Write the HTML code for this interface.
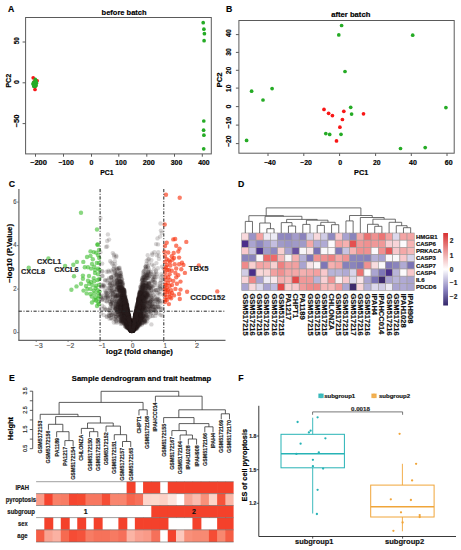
<!DOCTYPE html>
<html><head><meta charset="utf-8"><style>
html,body{margin:0;padding:0;background:#fff;}
svg{display:block;font-family:"Liberation Sans",sans-serif;}
text{stroke-width:0.18px;stroke-linejoin:round;}
</style></head><body>
<svg width="461" height="550" viewBox="0 0 461 550">
<rect width="461" height="550" fill="#fff"/>
<text x="8" y="11.9" font-size="8.7" font-weight="bold" text-anchor="start" fill="#000" stroke="#000">A</text>
<text x="101.6" y="15.3" font-size="7.6" font-weight="bold" text-anchor="start" fill="#000" stroke="#000" textLength="45" lengthAdjust="spacingAndGlyphs">before batch</text>
<rect x="25.6" y="17.5" width="185.7" height="136.4" fill="none" stroke="#5a5a5a" stroke-width="1"/>
<line x1="22.6" y1="42" x2="25.6" y2="42" stroke="#5a5a5a" stroke-width="1"/>
<text x="18.75" y="40.7" font-size="7" font-weight="bold" text-anchor="middle" fill="#000" stroke="#000" textLength="6.9" lengthAdjust="spacingAndGlyphs" transform="rotate(-90 18.75 40.7)">50</text>
<line x1="22.6" y1="82.8" x2="25.6" y2="82.8" stroke="#5a5a5a" stroke-width="1"/>
<text x="18.75" y="82.1" font-size="7" font-weight="bold" text-anchor="middle" fill="#000" stroke="#000" transform="rotate(-90 18.75 82.1)">0</text>
<line x1="22.6" y1="123.6" x2="25.6" y2="123.6" stroke="#5a5a5a" stroke-width="1"/>
<text x="18.75" y="121" font-size="7" font-weight="bold" text-anchor="middle" fill="#000" stroke="#000" textLength="12.8" lengthAdjust="spacingAndGlyphs" transform="rotate(-90 18.75 121)">−50</text>
<line x1="35.5" y1="153.9" x2="35.5" y2="156.7" stroke="#5a5a5a" stroke-width="1"/>
<text x="38.5" y="165.05" font-size="7" font-weight="bold" text-anchor="middle" fill="#000" stroke="#000" textLength="17" lengthAdjust="spacingAndGlyphs">−200</text>
<line x1="63.5" y1="153.9" x2="63.5" y2="156.7" stroke="#5a5a5a" stroke-width="1"/>
<text x="66" y="165.05" font-size="7" font-weight="bold" text-anchor="middle" fill="#000" stroke="#000" textLength="15.6" lengthAdjust="spacingAndGlyphs">−100</text>
<line x1="91.5" y1="153.9" x2="91.5" y2="156.7" stroke="#5a5a5a" stroke-width="1"/>
<text x="91.5" y="165.05" font-size="7" font-weight="bold" text-anchor="middle" fill="#000" stroke="#000">0</text>
<line x1="118.8" y1="153.9" x2="118.8" y2="156.7" stroke="#5a5a5a" stroke-width="1"/>
<text x="121" y="165.05" font-size="7" font-weight="bold" text-anchor="middle" fill="#000" stroke="#000" textLength="11.4" lengthAdjust="spacingAndGlyphs">100</text>
<line x1="146.8" y1="153.9" x2="146.8" y2="156.7" stroke="#5a5a5a" stroke-width="1"/>
<text x="148.7" y="165.05" font-size="7" font-weight="bold" text-anchor="middle" fill="#000" stroke="#000" textLength="12" lengthAdjust="spacingAndGlyphs">200</text>
<line x1="174.5" y1="153.9" x2="174.5" y2="156.7" stroke="#5a5a5a" stroke-width="1"/>
<text x="176.5" y="165.05" font-size="7" font-weight="bold" text-anchor="middle" fill="#000" stroke="#000" textLength="11.5" lengthAdjust="spacingAndGlyphs">300</text>
<line x1="202.3" y1="153.9" x2="202.3" y2="156.7" stroke="#5a5a5a" stroke-width="1"/>
<text x="203.9" y="165.05" font-size="7" font-weight="bold" text-anchor="middle" fill="#000" stroke="#000" textLength="11.4" lengthAdjust="spacingAndGlyphs">400</text>
<text x="106.8" y="174.62" font-size="7.2" font-weight="bold" text-anchor="middle" fill="#000" stroke="#000" textLength="13.3" lengthAdjust="spacingAndGlyphs">PC1</text>
<text x="11.27" y="80.7" font-size="7.2" font-weight="bold" text-anchor="middle" fill="#000" stroke="#000" textLength="14.2" lengthAdjust="spacingAndGlyphs" transform="rotate(-90 11.27 80.7)">PC2</text>
<circle cx="203.2" cy="22.7" r="1.85" fill="#25ab25"/>
<circle cx="203.9" cy="29.2" r="1.85" fill="#25ab25"/>
<circle cx="204.4" cy="33.7" r="1.85" fill="#25ab25"/>
<circle cx="204.1" cy="40.7" r="1.85" fill="#25ab25"/>
<circle cx="203.8" cy="121" r="1.85" fill="#25ab25"/>
<circle cx="203.6" cy="130.2" r="1.85" fill="#25ab25"/>
<circle cx="203.9" cy="135.2" r="1.85" fill="#25ab25"/>
<circle cx="203.7" cy="148.8" r="1.85" fill="#25ab25"/>
<circle cx="33.2" cy="77.8" r="1.85" fill="#f81616"/>
<circle cx="37.1" cy="80.8" r="1.85" fill="#f81616"/>
<circle cx="35" cy="89.5" r="1.85" fill="#f81616"/>
<circle cx="34.5" cy="84.5" r="1.85" fill="#f81616"/>
<circle cx="35.5" cy="86" r="1.85" fill="#f81616"/>
<circle cx="34" cy="82" r="1.85" fill="#f81616"/>
<circle cx="35" cy="81.5" r="1.85" fill="#f81616"/>
<circle cx="34.2" cy="86.5" r="1.85" fill="#f81616"/>
<circle cx="35.3" cy="79.4" r="1.85" fill="#25ab25"/>
<circle cx="34.2" cy="82" r="1.85" fill="#25ab25"/>
<circle cx="36.4" cy="83.2" r="1.85" fill="#25ab25"/>
<circle cx="33" cy="84" r="1.85" fill="#25ab25"/>
<circle cx="35.4" cy="84.8" r="1.85" fill="#25ab25"/>
<circle cx="33.8" cy="86" r="1.85" fill="#25ab25"/>
<circle cx="34.8" cy="86.4" r="1.85" fill="#25ab25"/>
<circle cx="35.6" cy="80.8" r="1.85" fill="#25ab25"/>
<circle cx="34.3" cy="84.6" r="1.85" fill="#25ab25"/>
<circle cx="36" cy="85.6" r="1.85" fill="#25ab25"/>
<circle cx="33.4" cy="82.9" r="1.85" fill="#25ab25"/>
<circle cx="35.2" cy="83.2" r="1.85" fill="#25ab25"/>
<circle cx="34.4" cy="86.2" r="1.85" fill="#25ab25"/>
<circle cx="36.2" cy="81.9" r="1.85" fill="#25ab25"/>
<text x="226" y="11.8" font-size="8.7" font-weight="bold" text-anchor="start" fill="#000" stroke="#000">B</text>
<text x="331.3" y="16.5" font-size="7.6" font-weight="bold" text-anchor="start" fill="#000" stroke="#000" textLength="39" lengthAdjust="spacingAndGlyphs">after batch</text>
<rect x="238.9" y="20.5" width="215.3" height="132.7" fill="none" stroke="#5a5a5a" stroke-width="1"/>
<line x1="235.9" y1="34.6" x2="238.9" y2="34.6" stroke="#5a5a5a" stroke-width="1"/>
<text x="230.85" y="33.1" font-size="7" font-weight="bold" text-anchor="middle" fill="#000" stroke="#000" textLength="7.6" lengthAdjust="spacingAndGlyphs" transform="rotate(-90 230.85 33.1)">40</text>
<line x1="235.9" y1="52.4" x2="238.9" y2="52.4" stroke="#5a5a5a" stroke-width="1"/>
<text x="230.85" y="52" font-size="7" font-weight="bold" text-anchor="middle" fill="#000" stroke="#000" textLength="7.6" lengthAdjust="spacingAndGlyphs" transform="rotate(-90 230.85 52)">30</text>
<line x1="235.9" y1="70.3" x2="238.9" y2="70.3" stroke="#5a5a5a" stroke-width="1"/>
<text x="230.85" y="70.5" font-size="7" font-weight="bold" text-anchor="middle" fill="#000" stroke="#000" textLength="7.6" lengthAdjust="spacingAndGlyphs" transform="rotate(-90 230.85 70.5)">20</text>
<line x1="235.9" y1="88.1" x2="238.9" y2="88.1" stroke="#5a5a5a" stroke-width="1"/>
<text x="230.85" y="88.2" font-size="7" font-weight="bold" text-anchor="middle" fill="#000" stroke="#000" textLength="7.4" lengthAdjust="spacingAndGlyphs" transform="rotate(-90 230.85 88.2)">10</text>
<line x1="235.9" y1="106.6" x2="238.9" y2="106.6" stroke="#5a5a5a" stroke-width="1"/>
<text x="230.85" y="106.6" font-size="7" font-weight="bold" text-anchor="middle" fill="#000" stroke="#000" transform="rotate(-90 230.85 106.6)">0</text>
<line x1="235.9" y1="125.1" x2="238.9" y2="125.1" stroke="#5a5a5a" stroke-width="1"/>
<text x="230.85" y="122.7" font-size="7" font-weight="bold" text-anchor="middle" fill="#000" stroke="#000" textLength="12" lengthAdjust="spacingAndGlyphs" transform="rotate(-90 230.85 122.7)">−10</text>
<line x1="235.9" y1="143.6" x2="238.9" y2="143.6" stroke="#5a5a5a" stroke-width="1"/>
<text x="230.85" y="141.2" font-size="7" font-weight="bold" text-anchor="middle" fill="#000" stroke="#000" textLength="11.6" lengthAdjust="spacingAndGlyphs" transform="rotate(-90 230.85 141.2)">−20</text>
<line x1="268" y1="153.2" x2="268" y2="156" stroke="#5a5a5a" stroke-width="1"/>
<text x="269.9" y="165.05" font-size="7" font-weight="bold" text-anchor="middle" fill="#000" stroke="#000" textLength="11.6" lengthAdjust="spacingAndGlyphs">−40</text>
<line x1="303.8" y1="153.2" x2="303.8" y2="156" stroke="#5a5a5a" stroke-width="1"/>
<text x="306" y="165.05" font-size="7" font-weight="bold" text-anchor="middle" fill="#000" stroke="#000" textLength="11.8" lengthAdjust="spacingAndGlyphs">−20</text>
<line x1="339.6" y1="153.2" x2="339.6" y2="156" stroke="#5a5a5a" stroke-width="1"/>
<text x="340.1" y="165.05" font-size="7" font-weight="bold" text-anchor="middle" fill="#000" stroke="#000">0</text>
<line x1="375.6" y1="153.2" x2="375.6" y2="156" stroke="#5a5a5a" stroke-width="1"/>
<text x="376.8" y="165.05" font-size="7" font-weight="bold" text-anchor="middle" fill="#000" stroke="#000" textLength="7.6" lengthAdjust="spacingAndGlyphs">20</text>
<line x1="411.3" y1="153.2" x2="411.3" y2="156" stroke="#5a5a5a" stroke-width="1"/>
<text x="413" y="165.05" font-size="7" font-weight="bold" text-anchor="middle" fill="#000" stroke="#000" textLength="7.8" lengthAdjust="spacingAndGlyphs">40</text>
<line x1="447" y1="153.2" x2="447" y2="156" stroke="#5a5a5a" stroke-width="1"/>
<text x="448.7" y="165.05" font-size="7" font-weight="bold" text-anchor="middle" fill="#000" stroke="#000" textLength="7.8" lengthAdjust="spacingAndGlyphs">60</text>
<text x="361.2" y="174.62" font-size="7.2" font-weight="bold" text-anchor="middle" fill="#000" stroke="#000" textLength="14.2" lengthAdjust="spacingAndGlyphs">PC1</text>
<text x="221.92" y="80" font-size="7.2" font-weight="bold" text-anchor="middle" fill="#000" stroke="#000" textLength="15" lengthAdjust="spacingAndGlyphs" transform="rotate(-90 221.92 80)">PC2</text>
<circle cx="341.6" cy="25.5" r="1.85" fill="#25ab25"/>
<circle cx="338.8" cy="34.9" r="1.85" fill="#25ab25"/>
<circle cx="412.7" cy="35.2" r="1.85" fill="#25ab25"/>
<circle cx="345" cy="71.5" r="1.85" fill="#25ab25"/>
<circle cx="251.6" cy="91.2" r="1.85" fill="#25ab25"/>
<circle cx="272.1" cy="88.6" r="1.85" fill="#25ab25"/>
<circle cx="263" cy="100" r="1.85" fill="#25ab25"/>
<circle cx="246.6" cy="140.4" r="1.85" fill="#25ab25"/>
<circle cx="325.8" cy="133.6" r="1.85" fill="#25ab25"/>
<circle cx="329.7" cy="134.4" r="1.85" fill="#25ab25"/>
<circle cx="341" cy="134.3" r="1.85" fill="#25ab25"/>
<circle cx="350.7" cy="107.3" r="1.85" fill="#25ab25"/>
<circle cx="351.6" cy="114.1" r="1.85" fill="#25ab25"/>
<circle cx="445.9" cy="107.6" r="1.85" fill="#25ab25"/>
<circle cx="400.5" cy="148.5" r="1.85" fill="#25ab25"/>
<circle cx="425.2" cy="147.6" r="1.85" fill="#25ab25"/>
<circle cx="324" cy="109.4" r="1.85" fill="#f81616"/>
<circle cx="328.6" cy="113.3" r="1.85" fill="#f81616"/>
<circle cx="332.4" cy="115.6" r="1.85" fill="#f81616"/>
<circle cx="343.8" cy="111.3" r="1.85" fill="#f81616"/>
<circle cx="363.5" cy="113.8" r="1.85" fill="#f81616"/>
<circle cx="342.4" cy="119.5" r="1.85" fill="#f81616"/>
<circle cx="339.9" cy="127.2" r="1.85" fill="#f81616"/>
<circle cx="336.5" cy="140.9" r="1.85" fill="#f81616"/>
<text x="8.8" y="187.1" font-size="8.7" font-weight="bold" text-anchor="start" fill="#000" stroke="#000">C</text>
<line x1="18.9" y1="189" x2="18.9" y2="340.3" stroke="#666" stroke-width="1.2"/>
<line x1="18.3" y1="340.3" x2="225.5" y2="340.3" stroke="#666" stroke-width="1.2"/>
<line x1="16.9" y1="332.6" x2="18.9" y2="332.6" stroke="#666" stroke-width="0.8"/>
<text x="14.8" y="334" font-size="6.3" font-weight="normal" text-anchor="middle" fill="#555" stroke="#555" textLength="3.3" lengthAdjust="spacingAndGlyphs">0</text>
<line x1="16.9" y1="289.1" x2="18.9" y2="289.1" stroke="#666" stroke-width="0.8"/>
<text x="14.8" y="290.5" font-size="6.3" font-weight="normal" text-anchor="middle" fill="#555" stroke="#555" textLength="3.3" lengthAdjust="spacingAndGlyphs">2</text>
<line x1="16.9" y1="245.6" x2="18.9" y2="245.6" stroke="#666" stroke-width="0.8"/>
<text x="14.8" y="247" font-size="6.3" font-weight="normal" text-anchor="middle" fill="#555" stroke="#555" textLength="3.3" lengthAdjust="spacingAndGlyphs">4</text>
<line x1="16.9" y1="202.1" x2="18.9" y2="202.1" stroke="#666" stroke-width="0.8"/>
<text x="14.8" y="203.5" font-size="6.3" font-weight="normal" text-anchor="middle" fill="#555" stroke="#555" textLength="3.3" lengthAdjust="spacingAndGlyphs">6</text>
<line x1="36.22" y1="340.3" x2="36.22" y2="342" stroke="#666" stroke-width="0.8"/>
<text x="38.9" y="347.7" font-size="6.3" font-weight="normal" text-anchor="middle" fill="#555" stroke="#555" textLength="7.6" lengthAdjust="spacingAndGlyphs">−3</text>
<line x1="68.08" y1="340.3" x2="68.08" y2="342" stroke="#666" stroke-width="0.8"/>
<text x="70.5" y="347.7" font-size="6.3" font-weight="normal" text-anchor="middle" fill="#555" stroke="#555" textLength="7.6" lengthAdjust="spacingAndGlyphs">−2</text>
<line x1="99.94" y1="340.3" x2="99.94" y2="342" stroke="#666" stroke-width="0.8"/>
<text x="102.3" y="347.7" font-size="6.3" font-weight="normal" text-anchor="middle" fill="#555" stroke="#555" textLength="6.4" lengthAdjust="spacingAndGlyphs">−1</text>
<line x1="131.8" y1="340.3" x2="131.8" y2="342" stroke="#666" stroke-width="0.8"/>
<text x="132.7" y="347.7" font-size="6.3" font-weight="normal" text-anchor="middle" fill="#555" stroke="#555" textLength="3.4" lengthAdjust="spacingAndGlyphs">0</text>
<line x1="163.66" y1="340.3" x2="163.66" y2="342" stroke="#666" stroke-width="0.8"/>
<text x="165.2" y="347.7" font-size="6.3" font-weight="normal" text-anchor="middle" fill="#555" stroke="#555" textLength="3" lengthAdjust="spacingAndGlyphs">1</text>
<line x1="195.52" y1="340.3" x2="195.52" y2="342" stroke="#666" stroke-width="0.8"/>
<text x="197" y="347.7" font-size="6.3" font-weight="normal" text-anchor="middle" fill="#555" stroke="#555" textLength="4" lengthAdjust="spacingAndGlyphs">2</text>
<text x="11.99" y="253.5" font-size="7.1" font-weight="bold" text-anchor="middle" fill="#000" stroke="#000" textLength="59" lengthAdjust="spacingAndGlyphs" transform="rotate(-90 11.99 253.5)">−log10 (P.Value)</text>
<text x="106" y="353.9" font-size="6.9" font-weight="bold" text-anchor="start" fill="#000" stroke="#000" textLength="66.8" lengthAdjust="spacingAndGlyphs">log2 (fold change)</text>
<g fill="#2a1f1f" fill-opacity="0.19">
<circle cx="147.0" cy="318.4" r="2.2"/>
<circle cx="133.4" cy="326.7" r="2.2"/>
<circle cx="131.3" cy="328.9" r="2.2"/>
<circle cx="130.8" cy="327.4" r="2.2"/>
<circle cx="132.3" cy="330.4" r="2.2"/>
<circle cx="124.9" cy="315.6" r="2.2"/>
<circle cx="133.1" cy="325.5" r="2.2"/>
<circle cx="122.5" cy="320.7" r="2.2"/>
<circle cx="129.4" cy="326.1" r="2.2"/>
<circle cx="125.7" cy="310.2" r="2.2"/>
<circle cx="125.7" cy="322.5" r="2.2"/>
<circle cx="132.6" cy="329.7" r="2.2"/>
<circle cx="127.5" cy="318.5" r="2.2"/>
<circle cx="135.0" cy="319.5" r="2.2"/>
<circle cx="146.0" cy="296.8" r="2.2"/>
<circle cx="117.6" cy="309.4" r="2.2"/>
<circle cx="129.9" cy="324.7" r="2.2"/>
<circle cx="126.7" cy="312.6" r="2.2"/>
<circle cx="125.7" cy="318.3" r="2.2"/>
<circle cx="128.7" cy="327.5" r="2.2"/>
<circle cx="137.8" cy="326.6" r="2.2"/>
<circle cx="127.0" cy="311.6" r="2.2"/>
<circle cx="122.4" cy="305.4" r="2.2"/>
<circle cx="137.9" cy="304.2" r="2.2"/>
<circle cx="119.4" cy="290.8" r="2.2"/>
<circle cx="130.6" cy="324.4" r="2.2"/>
<circle cx="135.0" cy="321.3" r="2.2"/>
<circle cx="119.7" cy="308.5" r="2.2"/>
<circle cx="131.3" cy="330.3" r="2.2"/>
<circle cx="124.0" cy="309.8" r="2.2"/>
<circle cx="133.2" cy="329.4" r="2.2"/>
<circle cx="143.9" cy="297.9" r="2.2"/>
<circle cx="149.1" cy="282.5" r="2.2"/>
<circle cx="126.1" cy="320.9" r="2.2"/>
<circle cx="152.8" cy="309.6" r="2.2"/>
<circle cx="124.7" cy="312.7" r="2.2"/>
<circle cx="140.5" cy="301.9" r="2.2"/>
<circle cx="115.8" cy="316.6" r="2.2"/>
<circle cx="132.2" cy="330.8" r="2.2"/>
<circle cx="122.4" cy="308.3" r="2.2"/>
<circle cx="138.0" cy="308.0" r="2.2"/>
<circle cx="127.6" cy="320.8" r="2.2"/>
<circle cx="119.0" cy="316.6" r="2.2"/>
<circle cx="130.0" cy="327.1" r="2.2"/>
<circle cx="137.3" cy="319.8" r="2.2"/>
<circle cx="135.3" cy="318.4" r="2.2"/>
<circle cx="131.2" cy="330.1" r="2.2"/>
<circle cx="133.4" cy="327.9" r="2.2"/>
<circle cx="133.5" cy="325.3" r="2.2"/>
<circle cx="162.8" cy="308.6" r="2.2"/>
<circle cx="133.5" cy="326.3" r="2.2"/>
<circle cx="133.0" cy="326.9" r="2.2"/>
<circle cx="143.6" cy="315.6" r="2.2"/>
<circle cx="130.2" cy="329.1" r="2.2"/>
<circle cx="146.1" cy="318.3" r="2.2"/>
<circle cx="146.4" cy="297.5" r="2.2"/>
<circle cx="127.6" cy="326.2" r="2.2"/>
<circle cx="155.3" cy="282.6" r="2.2"/>
<circle cx="124.6" cy="322.9" r="2.2"/>
<circle cx="124.6" cy="314.2" r="2.2"/>
<circle cx="144.3" cy="296.2" r="2.2"/>
<circle cx="133.2" cy="327.8" r="2.2"/>
<circle cx="131.4" cy="329.1" r="2.2"/>
<circle cx="119.1" cy="303.6" r="2.2"/>
<circle cx="121.0" cy="320.9" r="2.2"/>
<circle cx="150.7" cy="291.1" r="2.2"/>
<circle cx="135.0" cy="316.3" r="2.2"/>
<circle cx="137.9" cy="315.8" r="2.2"/>
<circle cx="132.6" cy="329.6" r="2.2"/>
<circle cx="143.6" cy="277.0" r="2.2"/>
<circle cx="135.2" cy="317.4" r="2.2"/>
<circle cx="125.3" cy="299.3" r="2.2"/>
<circle cx="134.8" cy="321.8" r="2.2"/>
<circle cx="131.2" cy="328.2" r="2.2"/>
<circle cx="128.8" cy="321.1" r="2.2"/>
<circle cx="135.7" cy="326.2" r="2.2"/>
<circle cx="145.3" cy="290.2" r="2.2"/>
<circle cx="154.2" cy="282.1" r="2.2"/>
<circle cx="129.3" cy="328.0" r="2.2"/>
<circle cx="131.1" cy="328.9" r="2.2"/>
<circle cx="137.3" cy="306.7" r="2.2"/>
<circle cx="145.1" cy="280.1" r="2.2"/>
<circle cx="130.5" cy="326.6" r="2.2"/>
<circle cx="127.2" cy="314.2" r="2.2"/>
<circle cx="130.1" cy="328.9" r="2.2"/>
<circle cx="135.4" cy="317.8" r="2.2"/>
<circle cx="132.5" cy="330.7" r="2.2"/>
<circle cx="134.7" cy="320.1" r="2.2"/>
<circle cx="132.5" cy="330.7" r="2.2"/>
<circle cx="137.8" cy="320.1" r="2.2"/>
<circle cx="146.8" cy="296.7" r="2.2"/>
<circle cx="143.5" cy="320.1" r="2.2"/>
<circle cx="120.4" cy="300.4" r="2.2"/>
<circle cx="135.2" cy="317.7" r="2.2"/>
<circle cx="142.1" cy="310.5" r="2.2"/>
<circle cx="136.6" cy="313.3" r="2.2"/>
<circle cx="147.6" cy="309.4" r="2.2"/>
<circle cx="125.3" cy="302.8" r="2.2"/>
<circle cx="132.9" cy="326.4" r="2.2"/>
<circle cx="140.5" cy="316.1" r="2.2"/>
<circle cx="126.7" cy="309.7" r="2.2"/>
<circle cx="135.9" cy="317.6" r="2.2"/>
<circle cx="130.8" cy="329.7" r="2.2"/>
<circle cx="128.4" cy="323.9" r="2.2"/>
<circle cx="127.1" cy="304.5" r="2.2"/>
<circle cx="144.4" cy="301.5" r="2.2"/>
<circle cx="129.7" cy="329.9" r="2.2"/>
<circle cx="136.4" cy="317.4" r="2.2"/>
<circle cx="130.3" cy="328.4" r="2.2"/>
<circle cx="131.1" cy="329.9" r="2.2"/>
<circle cx="134.7" cy="324.6" r="2.2"/>
<circle cx="111.1" cy="315.1" r="2.2"/>
<circle cx="115.2" cy="284.1" r="2.2"/>
<circle cx="118.9" cy="306.7" r="2.2"/>
<circle cx="139.2" cy="325.0" r="2.2"/>
<circle cx="131.2" cy="330.2" r="2.2"/>
<circle cx="135.5" cy="314.6" r="2.2"/>
<circle cx="125.6" cy="314.2" r="2.2"/>
<circle cx="125.8" cy="302.3" r="2.2"/>
<circle cx="106.6" cy="296.2" r="2.2"/>
<circle cx="142.7" cy="296.1" r="2.2"/>
<circle cx="128.9" cy="322.7" r="2.2"/>
<circle cx="131.3" cy="328.9" r="2.2"/>
<circle cx="126.5" cy="313.6" r="2.2"/>
<circle cx="130.1" cy="326.0" r="2.2"/>
<circle cx="140.6" cy="303.9" r="2.2"/>
<circle cx="135.3" cy="321.4" r="2.2"/>
<circle cx="110.9" cy="278.3" r="2.2"/>
<circle cx="120.7" cy="320.3" r="2.2"/>
<circle cx="129.4" cy="321.6" r="2.2"/>
<circle cx="140.5" cy="313.6" r="2.2"/>
<circle cx="126.0" cy="313.6" r="2.2"/>
<circle cx="136.4" cy="315.8" r="2.2"/>
<circle cx="126.5" cy="308.9" r="2.2"/>
<circle cx="129.9" cy="329.2" r="2.2"/>
<circle cx="124.9" cy="309.9" r="2.2"/>
<circle cx="121.6" cy="300.6" r="2.2"/>
<circle cx="137.8" cy="322.3" r="2.2"/>
<circle cx="141.9" cy="305.1" r="2.2"/>
<circle cx="150.8" cy="307.9" r="2.2"/>
<circle cx="139.6" cy="309.5" r="2.2"/>
<circle cx="129.6" cy="319.5" r="2.2"/>
<circle cx="129.5" cy="327.1" r="2.2"/>
<circle cx="129.7" cy="323.3" r="2.2"/>
<circle cx="117.9" cy="318.1" r="2.2"/>
<circle cx="132.6" cy="328.6" r="2.2"/>
<circle cx="130.0" cy="325.7" r="2.2"/>
<circle cx="123.9" cy="301.2" r="2.2"/>
<circle cx="144.7" cy="285.1" r="2.2"/>
<circle cx="128.5" cy="317.2" r="2.2"/>
<circle cx="135.7" cy="315.3" r="2.2"/>
<circle cx="136.7" cy="308.5" r="2.2"/>
<circle cx="125.4" cy="304.8" r="2.2"/>
<circle cx="135.9" cy="322.8" r="2.2"/>
<circle cx="133.4" cy="324.5" r="2.2"/>
<circle cx="131.9" cy="331.0" r="2.2"/>
<circle cx="125.2" cy="304.5" r="2.2"/>
<circle cx="153.7" cy="265.6" r="2.2"/>
<circle cx="133.0" cy="329.0" r="2.2"/>
<circle cx="126.1" cy="315.3" r="2.2"/>
<circle cx="129.2" cy="323.3" r="2.2"/>
<circle cx="139.0" cy="306.6" r="2.2"/>
<circle cx="137.5" cy="308.7" r="2.2"/>
<circle cx="135.9" cy="325.3" r="2.2"/>
<circle cx="130.4" cy="326.1" r="2.2"/>
<circle cx="127.7" cy="314.7" r="2.2"/>
<circle cx="134.0" cy="326.3" r="2.2"/>
<circle cx="126.1" cy="313.6" r="2.2"/>
<circle cx="130.5" cy="328.9" r="2.2"/>
<circle cx="126.1" cy="320.2" r="2.2"/>
<circle cx="132.7" cy="328.2" r="2.2"/>
<circle cx="128.5" cy="319.3" r="2.2"/>
<circle cx="129.5" cy="322.5" r="2.2"/>
<circle cx="112.4" cy="305.7" r="2.2"/>
<circle cx="129.0" cy="322.6" r="2.2"/>
<circle cx="128.3" cy="321.0" r="2.2"/>
<circle cx="116.8" cy="300.5" r="2.2"/>
<circle cx="137.1" cy="316.4" r="2.2"/>
<circle cx="150.2" cy="293.1" r="2.2"/>
<circle cx="130.3" cy="326.4" r="2.2"/>
<circle cx="143.4" cy="275.4" r="2.2"/>
<circle cx="130.0" cy="327.9" r="2.2"/>
<circle cx="105.3" cy="280.6" r="2.2"/>
<circle cx="147.3" cy="294.4" r="2.2"/>
<circle cx="130.5" cy="326.7" r="2.2"/>
<circle cx="137.3" cy="326.8" r="2.2"/>
<circle cx="140.1" cy="302.9" r="2.2"/>
<circle cx="132.4" cy="330.7" r="2.2"/>
<circle cx="133.3" cy="327.0" r="2.2"/>
<circle cx="133.8" cy="322.5" r="2.2"/>
<circle cx="136.8" cy="311.8" r="2.2"/>
<circle cx="150.8" cy="306.5" r="2.2"/>
<circle cx="142.0" cy="290.4" r="2.2"/>
<circle cx="119.6" cy="281.5" r="2.2"/>
<circle cx="150.5" cy="303.8" r="2.2"/>
<circle cx="123.7" cy="301.7" r="2.2"/>
<circle cx="134.9" cy="316.3" r="2.2"/>
<circle cx="128.2" cy="315.3" r="2.2"/>
<circle cx="135.2" cy="319.5" r="2.2"/>
<circle cx="133.2" cy="328.8" r="2.2"/>
<circle cx="134.3" cy="325.1" r="2.2"/>
<circle cx="128.7" cy="320.4" r="2.2"/>
<circle cx="133.4" cy="330.3" r="2.2"/>
<circle cx="135.0" cy="317.6" r="2.2"/>
<circle cx="148.8" cy="283.3" r="2.2"/>
<circle cx="123.5" cy="310.0" r="2.2"/>
<circle cx="133.6" cy="328.6" r="2.2"/>
<circle cx="127.7" cy="328.0" r="2.2"/>
<circle cx="131.5" cy="329.3" r="2.2"/>
<circle cx="127.4" cy="325.4" r="2.2"/>
<circle cx="143.8" cy="308.2" r="2.2"/>
<circle cx="124.9" cy="307.9" r="2.2"/>
<circle cx="128.7" cy="315.2" r="2.2"/>
<circle cx="139.7" cy="296.9" r="2.2"/>
<circle cx="134.0" cy="325.1" r="2.2"/>
<circle cx="130.8" cy="330.3" r="2.2"/>
<circle cx="147.2" cy="275.4" r="2.2"/>
<circle cx="140.6" cy="298.9" r="2.2"/>
<circle cx="119.7" cy="306.8" r="2.2"/>
<circle cx="137.6" cy="311.3" r="2.2"/>
<circle cx="141.6" cy="298.6" r="2.2"/>
<circle cx="136.1" cy="316.5" r="2.2"/>
<circle cx="127.3" cy="313.1" r="2.2"/>
<circle cx="134.7" cy="319.0" r="2.2"/>
<circle cx="130.4" cy="329.4" r="2.2"/>
<circle cx="131.1" cy="327.7" r="2.2"/>
<circle cx="136.6" cy="310.6" r="2.2"/>
<circle cx="132.9" cy="327.0" r="2.2"/>
<circle cx="123.8" cy="293.7" r="2.2"/>
<circle cx="106.8" cy="316.9" r="2.2"/>
<circle cx="129.4" cy="318.2" r="2.2"/>
<circle cx="128.4" cy="320.5" r="2.2"/>
<circle cx="131.4" cy="330.3" r="2.2"/>
<circle cx="136.5" cy="314.1" r="2.2"/>
<circle cx="126.3" cy="321.5" r="2.2"/>
<circle cx="137.1" cy="309.0" r="2.2"/>
<circle cx="118.7" cy="292.1" r="2.2"/>
<circle cx="129.4" cy="322.0" r="2.2"/>
<circle cx="135.5" cy="317.8" r="2.2"/>
<circle cx="138.6" cy="307.1" r="2.2"/>
<circle cx="130.1" cy="321.5" r="2.2"/>
<circle cx="129.1" cy="324.6" r="2.2"/>
<circle cx="133.6" cy="327.5" r="2.2"/>
<circle cx="126.6" cy="304.0" r="2.2"/>
<circle cx="147.5" cy="286.1" r="2.2"/>
<circle cx="132.5" cy="329.8" r="2.2"/>
<circle cx="132.2" cy="330.3" r="2.2"/>
<circle cx="131.0" cy="327.9" r="2.2"/>
<circle cx="129.8" cy="326.2" r="2.2"/>
<circle cx="129.0" cy="320.7" r="2.2"/>
<circle cx="132.7" cy="330.1" r="2.2"/>
<circle cx="120.5" cy="296.3" r="2.2"/>
<circle cx="119.3" cy="288.4" r="2.2"/>
<circle cx="131.4" cy="329.7" r="2.2"/>
<circle cx="133.9" cy="324.1" r="2.2"/>
<circle cx="130.6" cy="325.2" r="2.2"/>
<circle cx="129.1" cy="327.6" r="2.2"/>
<circle cx="129.7" cy="320.6" r="2.2"/>
<circle cx="131.2" cy="329.8" r="2.2"/>
<circle cx="132.3" cy="330.5" r="2.2"/>
<circle cx="134.3" cy="324.6" r="2.2"/>
<circle cx="143.9" cy="321.5" r="2.2"/>
<circle cx="140.2" cy="310.3" r="2.2"/>
<circle cx="112.7" cy="286.5" r="2.2"/>
<circle cx="130.4" cy="327.9" r="2.2"/>
<circle cx="129.6" cy="326.5" r="2.2"/>
<circle cx="132.0" cy="331.0" r="2.2"/>
<circle cx="140.7" cy="314.3" r="2.2"/>
<circle cx="135.1" cy="322.1" r="2.2"/>
<circle cx="110.2" cy="261.2" r="2.2"/>
<circle cx="128.2" cy="313.6" r="2.2"/>
<circle cx="133.9" cy="325.0" r="2.2"/>
<circle cx="130.8" cy="328.2" r="2.2"/>
<circle cx="126.1" cy="318.4" r="2.2"/>
<circle cx="140.7" cy="288.7" r="2.2"/>
<circle cx="135.7" cy="320.5" r="2.2"/>
<circle cx="135.3" cy="322.7" r="2.2"/>
<circle cx="139.0" cy="319.5" r="2.2"/>
<circle cx="123.9" cy="297.1" r="2.2"/>
<circle cx="132.7" cy="330.7" r="2.2"/>
<circle cx="133.5" cy="328.0" r="2.2"/>
<circle cx="126.7" cy="304.8" r="2.2"/>
<circle cx="138.5" cy="303.4" r="2.2"/>
<circle cx="135.2" cy="317.1" r="2.2"/>
<circle cx="141.7" cy="292.7" r="2.2"/>
<circle cx="137.5" cy="320.6" r="2.2"/>
<circle cx="131.0" cy="327.7" r="2.2"/>
<circle cx="132.7" cy="328.3" r="2.2"/>
<circle cx="130.9" cy="327.7" r="2.2"/>
<circle cx="133.8" cy="324.7" r="2.2"/>
<circle cx="128.7" cy="323.2" r="2.2"/>
<circle cx="142.3" cy="288.6" r="2.2"/>
<circle cx="128.8" cy="320.4" r="2.2"/>
<circle cx="156.2" cy="272.3" r="2.2"/>
<circle cx="126.8" cy="303.9" r="2.2"/>
<circle cx="135.2" cy="321.7" r="2.2"/>
<circle cx="132.7" cy="330.8" r="2.2"/>
<circle cx="144.4" cy="298.0" r="2.2"/>
<circle cx="135.9" cy="320.2" r="2.2"/>
<circle cx="132.5" cy="330.5" r="2.2"/>
<circle cx="121.6" cy="296.0" r="2.2"/>
<circle cx="134.6" cy="324.1" r="2.2"/>
<circle cx="134.6" cy="326.0" r="2.2"/>
<circle cx="130.9" cy="326.9" r="2.2"/>
<circle cx="135.7" cy="316.3" r="2.2"/>
<circle cx="116.2" cy="286.4" r="2.2"/>
<circle cx="128.2" cy="320.0" r="2.2"/>
<circle cx="140.0" cy="307.3" r="2.2"/>
<circle cx="133.6" cy="327.6" r="2.2"/>
<circle cx="137.4" cy="326.0" r="2.2"/>
<circle cx="139.1" cy="313.4" r="2.2"/>
<circle cx="137.2" cy="318.3" r="2.2"/>
<circle cx="135.6" cy="313.1" r="2.2"/>
<circle cx="125.3" cy="318.6" r="2.2"/>
<circle cx="160.1" cy="288.6" r="2.2"/>
<circle cx="150.5" cy="309.0" r="2.2"/>
<circle cx="128.3" cy="316.0" r="2.2"/>
<circle cx="141.7" cy="296.4" r="2.2"/>
<circle cx="133.9" cy="326.4" r="2.2"/>
<circle cx="137.2" cy="316.8" r="2.2"/>
<circle cx="118.8" cy="300.1" r="2.2"/>
<circle cx="132.8" cy="328.8" r="2.2"/>
<circle cx="140.5" cy="293.3" r="2.2"/>
<circle cx="117.5" cy="310.2" r="2.2"/>
<circle cx="136.6" cy="307.8" r="2.2"/>
<circle cx="127.4" cy="324.1" r="2.2"/>
<circle cx="133.4" cy="328.1" r="2.2"/>
<circle cx="136.3" cy="311.2" r="2.2"/>
<circle cx="123.2" cy="306.3" r="2.2"/>
<circle cx="124.0" cy="310.1" r="2.2"/>
<circle cx="125.5" cy="318.2" r="2.2"/>
<circle cx="124.2" cy="312.8" r="2.2"/>
<circle cx="149.0" cy="290.5" r="2.2"/>
<circle cx="128.1" cy="311.7" r="2.2"/>
<circle cx="135.7" cy="324.1" r="2.2"/>
<circle cx="133.9" cy="325.1" r="2.2"/>
<circle cx="133.8" cy="324.9" r="2.2"/>
<circle cx="124.2" cy="314.4" r="2.2"/>
<circle cx="135.2" cy="321.5" r="2.2"/>
<circle cx="126.7" cy="309.9" r="2.2"/>
<circle cx="137.6" cy="323.0" r="2.2"/>
<circle cx="138.3" cy="320.4" r="2.2"/>
<circle cx="132.5" cy="329.6" r="2.2"/>
<circle cx="130.7" cy="326.1" r="2.2"/>
<circle cx="138.2" cy="302.6" r="2.2"/>
<circle cx="136.7" cy="324.9" r="2.2"/>
<circle cx="133.3" cy="328.3" r="2.2"/>
<circle cx="133.1" cy="330.5" r="2.2"/>
<circle cx="133.0" cy="328.5" r="2.2"/>
<circle cx="131.2" cy="328.1" r="2.2"/>
<circle cx="124.1" cy="299.4" r="2.2"/>
<circle cx="125.4" cy="313.8" r="2.2"/>
<circle cx="154.1" cy="291.1" r="2.2"/>
<circle cx="115.9" cy="289.1" r="2.2"/>
<circle cx="134.4" cy="327.5" r="2.2"/>
<circle cx="132.4" cy="330.4" r="2.2"/>
<circle cx="127.4" cy="309.4" r="2.2"/>
<circle cx="131.1" cy="328.5" r="2.2"/>
<circle cx="160.8" cy="308.7" r="2.2"/>
<circle cx="128.4" cy="320.5" r="2.2"/>
<circle cx="129.2" cy="321.4" r="2.2"/>
<circle cx="132.6" cy="329.9" r="2.2"/>
<circle cx="128.1" cy="314.3" r="2.2"/>
<circle cx="127.2" cy="317.1" r="2.2"/>
<circle cx="132.8" cy="330.8" r="2.2"/>
<circle cx="128.6" cy="321.4" r="2.2"/>
<circle cx="139.0" cy="311.3" r="2.2"/>
<circle cx="131.7" cy="329.9" r="2.2"/>
<circle cx="145.2" cy="297.7" r="2.2"/>
<circle cx="130.2" cy="329.1" r="2.2"/>
<circle cx="138.2" cy="323.0" r="2.2"/>
<circle cx="132.6" cy="330.0" r="2.2"/>
<circle cx="122.1" cy="309.6" r="2.2"/>
<circle cx="141.1" cy="303.0" r="2.2"/>
<circle cx="121.2" cy="299.1" r="2.2"/>
<circle cx="130.8" cy="328.4" r="2.2"/>
<circle cx="130.2" cy="328.4" r="2.2"/>
<circle cx="135.9" cy="323.2" r="2.2"/>
<circle cx="133.4" cy="326.0" r="2.2"/>
<circle cx="128.5" cy="317.6" r="2.2"/>
<circle cx="142.5" cy="307.4" r="2.2"/>
<circle cx="133.0" cy="328.7" r="2.2"/>
<circle cx="133.4" cy="326.3" r="2.2"/>
<circle cx="122.5" cy="320.7" r="2.2"/>
<circle cx="120.8" cy="312.6" r="2.2"/>
<circle cx="128.1" cy="324.6" r="2.2"/>
<circle cx="132.6" cy="329.6" r="2.2"/>
<circle cx="113.0" cy="313.8" r="2.2"/>
<circle cx="136.9" cy="317.0" r="2.2"/>
<circle cx="132.6" cy="330.3" r="2.2"/>
<circle cx="127.7" cy="322.5" r="2.2"/>
<circle cx="139.6" cy="298.8" r="2.2"/>
<circle cx="139.5" cy="311.2" r="2.2"/>
<circle cx="144.6" cy="306.5" r="2.2"/>
<circle cx="127.2" cy="323.8" r="2.2"/>
<circle cx="128.1" cy="314.8" r="2.2"/>
<circle cx="132.7" cy="328.0" r="2.2"/>
<circle cx="149.1" cy="287.5" r="2.2"/>
<circle cx="139.0" cy="311.3" r="2.2"/>
<circle cx="138.1" cy="299.7" r="2.2"/>
<circle cx="135.1" cy="321.5" r="2.2"/>
<circle cx="111.1" cy="270.6" r="2.2"/>
<circle cx="106.5" cy="271.7" r="2.2"/>
<circle cx="118.8" cy="287.8" r="2.2"/>
<circle cx="133.5" cy="330.4" r="2.2"/>
<circle cx="127.1" cy="315.5" r="2.2"/>
<circle cx="127.7" cy="315.3" r="2.2"/>
<circle cx="136.3" cy="317.0" r="2.2"/>
<circle cx="133.0" cy="328.0" r="2.2"/>
<circle cx="132.4" cy="330.6" r="2.2"/>
<circle cx="128.3" cy="315.6" r="2.2"/>
<circle cx="141.2" cy="288.3" r="2.2"/>
<circle cx="143.1" cy="315.6" r="2.2"/>
<circle cx="131.1" cy="331.0" r="2.2"/>
<circle cx="133.7" cy="322.4" r="2.2"/>
<circle cx="128.7" cy="324.6" r="2.2"/>
<circle cx="129.9" cy="325.4" r="2.2"/>
<circle cx="134.3" cy="324.9" r="2.2"/>
<circle cx="133.7" cy="324.7" r="2.2"/>
<circle cx="133.3" cy="326.7" r="2.2"/>
<circle cx="139.0" cy="298.2" r="2.2"/>
<circle cx="130.1" cy="325.1" r="2.2"/>
<circle cx="142.2" cy="280.2" r="2.2"/>
<circle cx="143.3" cy="299.0" r="2.2"/>
<circle cx="121.5" cy="302.6" r="2.2"/>
<circle cx="129.0" cy="316.5" r="2.2"/>
<circle cx="129.6" cy="322.2" r="2.2"/>
<circle cx="136.2" cy="327.9" r="2.2"/>
<circle cx="119.2" cy="268.4" r="2.2"/>
<circle cx="130.0" cy="326.7" r="2.2"/>
<circle cx="133.7" cy="326.8" r="2.2"/>
<circle cx="128.4" cy="315.3" r="2.2"/>
<circle cx="130.9" cy="329.3" r="2.2"/>
<circle cx="134.9" cy="322.6" r="2.2"/>
<circle cx="140.5" cy="311.6" r="2.2"/>
<circle cx="130.7" cy="330.5" r="2.2"/>
<circle cx="130.8" cy="327.3" r="2.2"/>
<circle cx="122.0" cy="297.3" r="2.2"/>
<circle cx="133.3" cy="326.8" r="2.2"/>
<circle cx="129.1" cy="321.3" r="2.2"/>
<circle cx="126.8" cy="321.7" r="2.2"/>
<circle cx="134.7" cy="322.5" r="2.2"/>
<circle cx="120.5" cy="290.7" r="2.2"/>
<circle cx="133.2" cy="327.1" r="2.2"/>
<circle cx="130.3" cy="327.4" r="2.2"/>
<circle cx="140.1" cy="313.8" r="2.2"/>
<circle cx="134.6" cy="321.0" r="2.2"/>
<circle cx="128.0" cy="318.0" r="2.2"/>
<circle cx="138.8" cy="309.5" r="2.2"/>
<circle cx="127.6" cy="325.4" r="2.2"/>
<circle cx="118.4" cy="282.0" r="2.2"/>
<circle cx="128.6" cy="323.8" r="2.2"/>
<circle cx="134.1" cy="326.4" r="2.2"/>
<circle cx="149.0" cy="306.7" r="2.2"/>
<circle cx="144.2" cy="297.1" r="2.2"/>
<circle cx="132.5" cy="330.5" r="2.2"/>
<circle cx="155.5" cy="311.2" r="2.2"/>
<circle cx="129.6" cy="328.6" r="2.2"/>
<circle cx="128.2" cy="326.7" r="2.2"/>
<circle cx="142.7" cy="303.8" r="2.2"/>
<circle cx="115.3" cy="298.7" r="2.2"/>
<circle cx="129.8" cy="320.8" r="2.2"/>
<circle cx="141.9" cy="297.7" r="2.2"/>
<circle cx="134.4" cy="323.0" r="2.2"/>
<circle cx="122.9" cy="306.7" r="2.2"/>
<circle cx="134.3" cy="322.5" r="2.2"/>
<circle cx="126.8" cy="314.9" r="2.2"/>
<circle cx="130.6" cy="326.3" r="2.2"/>
<circle cx="136.7" cy="321.8" r="2.2"/>
<circle cx="128.4" cy="319.8" r="2.2"/>
<circle cx="140.7" cy="319.1" r="2.2"/>
<circle cx="154.5" cy="309.5" r="2.2"/>
<circle cx="126.1" cy="315.2" r="2.2"/>
<circle cx="130.8" cy="327.6" r="2.2"/>
<circle cx="111.7" cy="300.4" r="2.2"/>
<circle cx="128.0" cy="319.1" r="2.2"/>
<circle cx="131.2" cy="329.5" r="2.2"/>
<circle cx="132.8" cy="328.1" r="2.2"/>
<circle cx="137.4" cy="307.0" r="2.2"/>
<circle cx="131.1" cy="328.1" r="2.2"/>
<circle cx="138.6" cy="317.7" r="2.2"/>
<circle cx="127.2" cy="317.0" r="2.2"/>
<circle cx="129.6" cy="325.8" r="2.2"/>
<circle cx="128.6" cy="320.3" r="2.2"/>
<circle cx="128.9" cy="321.4" r="2.2"/>
<circle cx="127.4" cy="310.5" r="2.2"/>
<circle cx="142.9" cy="286.6" r="2.2"/>
<circle cx="158.3" cy="252.3" r="2.2"/>
<circle cx="157.8" cy="268.2" r="2.2"/>
<circle cx="135.0" cy="325.6" r="2.2"/>
<circle cx="131.8" cy="330.6" r="2.2"/>
<circle cx="137.1" cy="311.0" r="2.2"/>
<circle cx="133.1" cy="329.7" r="2.2"/>
<circle cx="138.8" cy="320.6" r="2.2"/>
<circle cx="135.8" cy="324.9" r="2.2"/>
<circle cx="142.5" cy="299.1" r="2.2"/>
<circle cx="135.3" cy="315.2" r="2.2"/>
<circle cx="148.8" cy="284.0" r="2.2"/>
<circle cx="140.8" cy="318.0" r="2.2"/>
<circle cx="138.9" cy="301.1" r="2.2"/>
<circle cx="135.0" cy="321.0" r="2.2"/>
<circle cx="132.4" cy="330.5" r="2.2"/>
<circle cx="133.1" cy="326.9" r="2.2"/>
<circle cx="139.2" cy="302.8" r="2.2"/>
<circle cx="144.8" cy="289.8" r="2.2"/>
<circle cx="129.2" cy="322.4" r="2.2"/>
<circle cx="150.8" cy="295.9" r="2.2"/>
<circle cx="129.7" cy="325.7" r="2.2"/>
<circle cx="137.5" cy="318.8" r="2.2"/>
<circle cx="137.5" cy="307.3" r="2.2"/>
<circle cx="121.7" cy="287.8" r="2.2"/>
<circle cx="141.0" cy="304.4" r="2.2"/>
<circle cx="128.1" cy="312.6" r="2.2"/>
<circle cx="123.1" cy="289.4" r="2.2"/>
<circle cx="127.7" cy="324.3" r="2.2"/>
<circle cx="128.2" cy="317.8" r="2.2"/>
<circle cx="130.3" cy="323.7" r="2.2"/>
<circle cx="136.0" cy="312.2" r="2.2"/>
<circle cx="138.0" cy="323.2" r="2.2"/>
<circle cx="142.4" cy="308.4" r="2.2"/>
<circle cx="135.7" cy="317.7" r="2.2"/>
<circle cx="143.2" cy="284.1" r="2.2"/>
<circle cx="134.9" cy="323.9" r="2.2"/>
<circle cx="149.2" cy="306.8" r="2.2"/>
<circle cx="140.7" cy="293.1" r="2.2"/>
<circle cx="135.6" cy="323.2" r="2.2"/>
<circle cx="132.6" cy="329.4" r="2.2"/>
<circle cx="128.6" cy="328.5" r="2.2"/>
<circle cx="147.6" cy="300.8" r="2.2"/>
<circle cx="138.3" cy="307.5" r="2.2"/>
<circle cx="137.1" cy="322.4" r="2.2"/>
<circle cx="130.3" cy="325.9" r="2.2"/>
<circle cx="152.0" cy="264.5" r="2.2"/>
<circle cx="138.5" cy="301.2" r="2.2"/>
<circle cx="132.9" cy="327.8" r="2.2"/>
<circle cx="128.6" cy="322.9" r="2.2"/>
<circle cx="106.0" cy="309.8" r="2.2"/>
<circle cx="120.4" cy="294.6" r="2.2"/>
<circle cx="136.3" cy="316.6" r="2.2"/>
<circle cx="130.6" cy="329.6" r="2.2"/>
<circle cx="127.0" cy="320.9" r="2.2"/>
<circle cx="135.8" cy="316.8" r="2.2"/>
<circle cx="134.0" cy="321.3" r="2.2"/>
<circle cx="118.7" cy="279.3" r="2.2"/>
<circle cx="133.6" cy="326.6" r="2.2"/>
<circle cx="132.6" cy="330.3" r="2.2"/>
<circle cx="138.7" cy="300.9" r="2.2"/>
<circle cx="130.4" cy="327.6" r="2.2"/>
<circle cx="132.9" cy="329.1" r="2.2"/>
<circle cx="132.8" cy="328.5" r="2.2"/>
<circle cx="130.8" cy="327.1" r="2.2"/>
<circle cx="130.0" cy="327.6" r="2.2"/>
<circle cx="127.1" cy="311.0" r="2.2"/>
<circle cx="119.6" cy="285.1" r="2.2"/>
<circle cx="140.1" cy="305.1" r="2.2"/>
<circle cx="132.2" cy="330.1" r="2.2"/>
<circle cx="123.5" cy="320.5" r="2.2"/>
<circle cx="125.7" cy="313.6" r="2.2"/>
<circle cx="127.1" cy="310.2" r="2.2"/>
<circle cx="119.6" cy="290.1" r="2.2"/>
<circle cx="122.4" cy="306.1" r="2.2"/>
<circle cx="131.4" cy="331.0" r="2.2"/>
<circle cx="127.5" cy="324.2" r="2.2"/>
<circle cx="144.8" cy="317.2" r="2.2"/>
<circle cx="129.0" cy="319.5" r="2.2"/>
<circle cx="141.0" cy="306.7" r="2.2"/>
<circle cx="130.3" cy="326.2" r="2.2"/>
<circle cx="148.7" cy="303.4" r="2.2"/>
<circle cx="133.1" cy="329.7" r="2.2"/>
<circle cx="125.8" cy="314.3" r="2.2"/>
<circle cx="127.2" cy="309.5" r="2.2"/>
<circle cx="136.5" cy="315.1" r="2.2"/>
<circle cx="134.8" cy="322.1" r="2.2"/>
<circle cx="144.1" cy="312.7" r="2.2"/>
<circle cx="128.0" cy="323.9" r="2.2"/>
<circle cx="134.9" cy="324.6" r="2.2"/>
<circle cx="133.0" cy="329.7" r="2.2"/>
<circle cx="135.2" cy="323.8" r="2.2"/>
<circle cx="127.0" cy="320.5" r="2.2"/>
<circle cx="132.5" cy="330.0" r="2.2"/>
<circle cx="130.5" cy="327.6" r="2.2"/>
<circle cx="128.5" cy="323.7" r="2.2"/>
<circle cx="132.3" cy="330.8" r="2.2"/>
<circle cx="123.1" cy="302.0" r="2.2"/>
<circle cx="129.1" cy="318.6" r="2.2"/>
<circle cx="138.2" cy="299.2" r="2.2"/>
<circle cx="142.2" cy="317.7" r="2.2"/>
<circle cx="126.0" cy="317.7" r="2.2"/>
<circle cx="121.7" cy="309.4" r="2.2"/>
<circle cx="110.9" cy="304.0" r="2.2"/>
<circle cx="127.1" cy="316.3" r="2.2"/>
<circle cx="135.7" cy="314.1" r="2.2"/>
<circle cx="124.5" cy="301.1" r="2.2"/>
<circle cx="133.3" cy="328.4" r="2.2"/>
<circle cx="137.3" cy="316.6" r="2.2"/>
<circle cx="138.3" cy="311.5" r="2.2"/>
<circle cx="120.4" cy="311.0" r="2.2"/>
<circle cx="125.8" cy="309.1" r="2.2"/>
<circle cx="137.5" cy="309.1" r="2.2"/>
<circle cx="120.0" cy="292.0" r="2.2"/>
<circle cx="128.9" cy="323.0" r="2.2"/>
<circle cx="133.0" cy="328.4" r="2.2"/>
<circle cx="131.2" cy="329.2" r="2.2"/>
<circle cx="128.0" cy="317.5" r="2.2"/>
<circle cx="130.1" cy="324.2" r="2.2"/>
<circle cx="133.6" cy="326.5" r="2.2"/>
<circle cx="126.9" cy="311.6" r="2.2"/>
<circle cx="125.4" cy="319.5" r="2.2"/>
<circle cx="144.7" cy="277.3" r="2.2"/>
<circle cx="131.3" cy="328.9" r="2.2"/>
<circle cx="160.0" cy="283.2" r="2.2"/>
<circle cx="133.0" cy="327.4" r="2.2"/>
<circle cx="118.7" cy="304.8" r="2.2"/>
<circle cx="133.6" cy="327.7" r="2.2"/>
<circle cx="134.3" cy="323.2" r="2.2"/>
<circle cx="125.2" cy="322.5" r="2.2"/>
<circle cx="139.1" cy="314.3" r="2.2"/>
<circle cx="139.3" cy="312.2" r="2.2"/>
<circle cx="130.9" cy="326.2" r="2.2"/>
<circle cx="130.5" cy="326.4" r="2.2"/>
<circle cx="109.1" cy="239.6" r="2.2"/>
<circle cx="133.1" cy="326.1" r="2.2"/>
<circle cx="127.8" cy="317.5" r="2.2"/>
<circle cx="115.3" cy="309.1" r="2.2"/>
<circle cx="135.2" cy="321.3" r="2.2"/>
<circle cx="129.5" cy="322.7" r="2.2"/>
<circle cx="132.3" cy="330.3" r="2.2"/>
<circle cx="123.2" cy="292.8" r="2.2"/>
<circle cx="124.9" cy="312.3" r="2.2"/>
<circle cx="132.9" cy="328.7" r="2.2"/>
<circle cx="133.2" cy="329.2" r="2.2"/>
<circle cx="139.2" cy="303.0" r="2.2"/>
<circle cx="139.6" cy="324.6" r="2.2"/>
<circle cx="133.5" cy="328.3" r="2.2"/>
<circle cx="121.6" cy="307.0" r="2.2"/>
<circle cx="134.1" cy="323.9" r="2.2"/>
<circle cx="127.9" cy="312.0" r="2.2"/>
<circle cx="130.2" cy="325.6" r="2.2"/>
<circle cx="136.5" cy="314.4" r="2.2"/>
<circle cx="129.9" cy="322.4" r="2.2"/>
<circle cx="131.7" cy="329.9" r="2.2"/>
<circle cx="131.8" cy="330.6" r="2.2"/>
<circle cx="128.8" cy="315.3" r="2.2"/>
<circle cx="136.5" cy="322.2" r="2.2"/>
<circle cx="157.4" cy="293.1" r="2.2"/>
<circle cx="139.0" cy="312.8" r="2.2"/>
<circle cx="130.5" cy="329.9" r="2.2"/>
<circle cx="124.8" cy="317.5" r="2.2"/>
<circle cx="125.5" cy="313.6" r="2.2"/>
<circle cx="146.5" cy="285.9" r="2.2"/>
<circle cx="125.7" cy="299.5" r="2.2"/>
<circle cx="116.8" cy="273.7" r="2.2"/>
<circle cx="128.9" cy="328.7" r="2.2"/>
<circle cx="126.3" cy="307.6" r="2.2"/>
<circle cx="136.8" cy="317.6" r="2.2"/>
<circle cx="123.7" cy="293.9" r="2.2"/>
<circle cx="124.1" cy="309.4" r="2.2"/>
<circle cx="132.7" cy="329.0" r="2.2"/>
<circle cx="131.6" cy="330.1" r="2.2"/>
<circle cx="136.4" cy="328.7" r="2.2"/>
<circle cx="142.1" cy="317.6" r="2.2"/>
<circle cx="125.4" cy="308.2" r="2.2"/>
<circle cx="139.8" cy="325.6" r="2.2"/>
<circle cx="140.2" cy="294.9" r="2.2"/>
<circle cx="123.6" cy="293.1" r="2.2"/>
<circle cx="146.4" cy="283.9" r="2.2"/>
<circle cx="140.2" cy="306.2" r="2.2"/>
<circle cx="124.5" cy="296.9" r="2.2"/>
<circle cx="126.8" cy="307.0" r="2.2"/>
<circle cx="133.3" cy="325.6" r="2.2"/>
<circle cx="152.7" cy="279.7" r="2.2"/>
<circle cx="134.3" cy="321.8" r="2.2"/>
<circle cx="133.6" cy="329.8" r="2.2"/>
<circle cx="102.2" cy="263.6" r="2.2"/>
<circle cx="113.2" cy="311.0" r="2.2"/>
<circle cx="146.4" cy="312.1" r="2.2"/>
<circle cx="129.6" cy="320.4" r="2.2"/>
<circle cx="130.3" cy="324.3" r="2.2"/>
<circle cx="124.8" cy="311.9" r="2.2"/>
<circle cx="128.7" cy="315.1" r="2.2"/>
<circle cx="136.1" cy="316.9" r="2.2"/>
<circle cx="132.7" cy="329.6" r="2.2"/>
<circle cx="118.2" cy="312.0" r="2.2"/>
<circle cx="128.6" cy="328.1" r="2.2"/>
<circle cx="122.7" cy="313.4" r="2.2"/>
<circle cx="128.9" cy="324.4" r="2.2"/>
<circle cx="130.2" cy="325.8" r="2.2"/>
<circle cx="134.1" cy="324.9" r="2.2"/>
<circle cx="133.4" cy="329.4" r="2.2"/>
<circle cx="132.6" cy="331.0" r="2.2"/>
<circle cx="122.4" cy="295.2" r="2.2"/>
<circle cx="122.4" cy="315.3" r="2.2"/>
<circle cx="123.0" cy="304.2" r="2.2"/>
<circle cx="136.1" cy="315.3" r="2.2"/>
<circle cx="135.2" cy="322.0" r="2.2"/>
<circle cx="116.9" cy="301.8" r="2.2"/>
<circle cx="130.0" cy="327.3" r="2.2"/>
<circle cx="130.0" cy="325.4" r="2.2"/>
<circle cx="135.7" cy="316.7" r="2.2"/>
<circle cx="135.1" cy="315.0" r="2.2"/>
<circle cx="145.5" cy="287.4" r="2.2"/>
<circle cx="138.3" cy="303.7" r="2.2"/>
<circle cx="121.4" cy="279.1" r="2.2"/>
<circle cx="128.2" cy="323.7" r="2.2"/>
<circle cx="133.0" cy="329.2" r="2.2"/>
<circle cx="131.3" cy="328.9" r="2.2"/>
<circle cx="144.5" cy="296.3" r="2.2"/>
<circle cx="132.5" cy="330.9" r="2.2"/>
<circle cx="145.5" cy="268.9" r="2.2"/>
<circle cx="131.2" cy="329.0" r="2.2"/>
<circle cx="134.8" cy="328.3" r="2.2"/>
<circle cx="126.8" cy="327.1" r="2.2"/>
<circle cx="131.8" cy="330.9" r="2.2"/>
<circle cx="130.7" cy="328.4" r="2.2"/>
<circle cx="117.1" cy="312.1" r="2.2"/>
<circle cx="132.9" cy="327.7" r="2.2"/>
<circle cx="143.2" cy="307.0" r="2.2"/>
<circle cx="123.6" cy="296.6" r="2.2"/>
<circle cx="151.0" cy="300.6" r="2.2"/>
<circle cx="133.9" cy="324.3" r="2.2"/>
<circle cx="130.2" cy="327.7" r="2.2"/>
<circle cx="131.3" cy="329.2" r="2.2"/>
<circle cx="137.2" cy="318.8" r="2.2"/>
<circle cx="129.0" cy="320.0" r="2.2"/>
<circle cx="136.3" cy="319.4" r="2.2"/>
<circle cx="142.7" cy="288.6" r="2.2"/>
<circle cx="126.6" cy="309.2" r="2.2"/>
<circle cx="116.9" cy="319.1" r="2.2"/>
<circle cx="123.9" cy="313.8" r="2.2"/>
<circle cx="130.7" cy="326.2" r="2.2"/>
<circle cx="133.0" cy="330.7" r="2.2"/>
<circle cx="117.5" cy="280.0" r="2.2"/>
<circle cx="127.4" cy="322.1" r="2.2"/>
<circle cx="130.6" cy="328.5" r="2.2"/>
<circle cx="131.5" cy="328.8" r="2.2"/>
<circle cx="121.0" cy="311.6" r="2.2"/>
<circle cx="137.3" cy="313.3" r="2.2"/>
<circle cx="137.4" cy="304.2" r="2.2"/>
<circle cx="137.0" cy="314.4" r="2.2"/>
<circle cx="120.5" cy="307.2" r="2.2"/>
<circle cx="144.7" cy="285.3" r="2.2"/>
<circle cx="127.3" cy="318.3" r="2.2"/>
<circle cx="133.1" cy="326.2" r="2.2"/>
<circle cx="134.5" cy="327.0" r="2.2"/>
<circle cx="129.4" cy="323.6" r="2.2"/>
<circle cx="124.4" cy="300.3" r="2.2"/>
<circle cx="123.4" cy="303.1" r="2.2"/>
<circle cx="134.3" cy="320.8" r="2.2"/>
<circle cx="152.7" cy="304.4" r="2.2"/>
<circle cx="138.6" cy="309.9" r="2.2"/>
<circle cx="129.5" cy="329.0" r="2.2"/>
<circle cx="130.5" cy="327.2" r="2.2"/>
<circle cx="118.6" cy="284.9" r="2.2"/>
<circle cx="155.7" cy="289.9" r="2.2"/>
<circle cx="126.6" cy="318.5" r="2.2"/>
<circle cx="120.3" cy="288.2" r="2.2"/>
<circle cx="141.4" cy="314.1" r="2.2"/>
<circle cx="128.3" cy="324.4" r="2.2"/>
<circle cx="127.0" cy="309.1" r="2.2"/>
<circle cx="135.8" cy="319.5" r="2.2"/>
<circle cx="142.7" cy="317.5" r="2.2"/>
<circle cx="128.0" cy="322.4" r="2.2"/>
<circle cx="122.6" cy="306.8" r="2.2"/>
<circle cx="137.9" cy="320.2" r="2.2"/>
<circle cx="118.9" cy="313.7" r="2.2"/>
<circle cx="130.8" cy="329.9" r="2.2"/>
<circle cx="130.2" cy="326.9" r="2.2"/>
<circle cx="132.3" cy="329.8" r="2.2"/>
<circle cx="120.1" cy="309.1" r="2.2"/>
<circle cx="134.3" cy="321.2" r="2.2"/>
<circle cx="135.7" cy="317.2" r="2.2"/>
<circle cx="132.8" cy="329.0" r="2.2"/>
<circle cx="140.1" cy="306.6" r="2.2"/>
<circle cx="135.9" cy="322.5" r="2.2"/>
<circle cx="130.7" cy="326.9" r="2.2"/>
<circle cx="135.6" cy="314.6" r="2.2"/>
<circle cx="127.6" cy="318.6" r="2.2"/>
<circle cx="146.0" cy="314.8" r="2.2"/>
<circle cx="130.2" cy="325.0" r="2.2"/>
<circle cx="123.3" cy="313.7" r="2.2"/>
<circle cx="117.4" cy="295.5" r="2.2"/>
<circle cx="135.7" cy="328.2" r="2.2"/>
<circle cx="129.5" cy="323.0" r="2.2"/>
<circle cx="135.3" cy="317.2" r="2.2"/>
<circle cx="133.7" cy="324.9" r="2.2"/>
<circle cx="126.1" cy="319.4" r="2.2"/>
<circle cx="135.7" cy="316.8" r="2.2"/>
<circle cx="131.0" cy="327.4" r="2.2"/>
<circle cx="130.3" cy="328.1" r="2.2"/>
<circle cx="137.7" cy="303.2" r="2.2"/>
<circle cx="132.5" cy="329.5" r="2.2"/>
<circle cx="116.1" cy="297.2" r="2.2"/>
<circle cx="132.8" cy="329.5" r="2.2"/>
<circle cx="139.0" cy="313.6" r="2.2"/>
<circle cx="160.5" cy="315.1" r="2.2"/>
<circle cx="136.1" cy="314.1" r="2.2"/>
<circle cx="128.7" cy="325.0" r="2.2"/>
<circle cx="124.2" cy="323.4" r="2.2"/>
<circle cx="134.5" cy="323.1" r="2.2"/>
<circle cx="128.0" cy="318.5" r="2.2"/>
<circle cx="127.2" cy="313.9" r="2.2"/>
<circle cx="136.1" cy="324.2" r="2.2"/>
<circle cx="139.0" cy="298.1" r="2.2"/>
<circle cx="133.1" cy="329.5" r="2.2"/>
<circle cx="130.4" cy="326.9" r="2.2"/>
<circle cx="127.4" cy="316.6" r="2.2"/>
<circle cx="132.9" cy="329.7" r="2.2"/>
<circle cx="123.5" cy="319.6" r="2.2"/>
<circle cx="136.2" cy="323.7" r="2.2"/>
<circle cx="143.8" cy="307.1" r="2.2"/>
<circle cx="121.9" cy="310.2" r="2.2"/>
<circle cx="128.7" cy="317.6" r="2.2"/>
<circle cx="132.8" cy="328.4" r="2.2"/>
<circle cx="138.0" cy="320.2" r="2.2"/>
<circle cx="134.9" cy="322.0" r="2.2"/>
<circle cx="124.0" cy="306.9" r="2.2"/>
<circle cx="129.9" cy="322.4" r="2.2"/>
<circle cx="132.8" cy="328.9" r="2.2"/>
<circle cx="117.4" cy="279.6" r="2.2"/>
<circle cx="125.1" cy="310.6" r="2.2"/>
<circle cx="136.5" cy="319.5" r="2.2"/>
<circle cx="134.4" cy="325.4" r="2.2"/>
<circle cx="128.8" cy="318.5" r="2.2"/>
<circle cx="112.1" cy="314.9" r="2.2"/>
<circle cx="128.1" cy="322.6" r="2.2"/>
<circle cx="131.1" cy="329.9" r="2.2"/>
<circle cx="129.8" cy="323.9" r="2.2"/>
<circle cx="131.4" cy="328.9" r="2.2"/>
<circle cx="126.6" cy="316.8" r="2.2"/>
<circle cx="132.2" cy="330.4" r="2.2"/>
<circle cx="132.7" cy="328.6" r="2.2"/>
<circle cx="150.9" cy="272.4" r="2.2"/>
<circle cx="127.3" cy="317.4" r="2.2"/>
<circle cx="129.3" cy="323.7" r="2.2"/>
<circle cx="128.6" cy="323.9" r="2.2"/>
<circle cx="133.2" cy="329.7" r="2.2"/>
<circle cx="124.1" cy="314.5" r="2.2"/>
<circle cx="126.0" cy="311.2" r="2.2"/>
<circle cx="125.8" cy="308.7" r="2.2"/>
<circle cx="130.3" cy="325.2" r="2.2"/>
<circle cx="124.3" cy="301.5" r="2.2"/>
<circle cx="115.6" cy="313.9" r="2.2"/>
<circle cx="119.8" cy="308.4" r="2.2"/>
<circle cx="135.4" cy="316.0" r="2.2"/>
<circle cx="133.5" cy="330.2" r="2.2"/>
<circle cx="130.4" cy="326.8" r="2.2"/>
<circle cx="130.6" cy="324.5" r="2.2"/>
<circle cx="125.1" cy="309.2" r="2.2"/>
<circle cx="150.0" cy="275.9" r="2.2"/>
<circle cx="129.5" cy="323.3" r="2.2"/>
<circle cx="142.6" cy="302.4" r="2.2"/>
<circle cx="127.1" cy="309.7" r="2.2"/>
<circle cx="125.6" cy="319.8" r="2.2"/>
<circle cx="133.7" cy="329.2" r="2.2"/>
<circle cx="132.4" cy="330.8" r="2.2"/>
<circle cx="131.7" cy="330.2" r="2.2"/>
<circle cx="138.2" cy="313.5" r="2.2"/>
<circle cx="125.2" cy="316.3" r="2.2"/>
<circle cx="143.3" cy="309.7" r="2.2"/>
<circle cx="140.5" cy="286.8" r="2.2"/>
<circle cx="122.0" cy="310.7" r="2.2"/>
<circle cx="126.3" cy="307.9" r="2.2"/>
<circle cx="136.6" cy="321.5" r="2.2"/>
<circle cx="109.6" cy="301.6" r="2.2"/>
<circle cx="130.3" cy="324.1" r="2.2"/>
<circle cx="134.7" cy="318.4" r="2.2"/>
<circle cx="127.7" cy="311.5" r="2.2"/>
<circle cx="130.4" cy="325.7" r="2.2"/>
<circle cx="137.9" cy="312.5" r="2.2"/>
<circle cx="135.5" cy="326.2" r="2.2"/>
<circle cx="103.8" cy="315.1" r="2.2"/>
<circle cx="127.3" cy="310.3" r="2.2"/>
<circle cx="122.0" cy="308.9" r="2.2"/>
<circle cx="134.2" cy="322.9" r="2.2"/>
<circle cx="127.0" cy="323.6" r="2.2"/>
<circle cx="135.2" cy="317.5" r="2.2"/>
<circle cx="134.1" cy="322.3" r="2.2"/>
<circle cx="143.8" cy="271.2" r="2.2"/>
<circle cx="123.4" cy="316.1" r="2.2"/>
<circle cx="132.5" cy="329.2" r="2.2"/>
<circle cx="130.9" cy="329.9" r="2.2"/>
<circle cx="124.2" cy="312.0" r="2.2"/>
<circle cx="130.1" cy="327.8" r="2.2"/>
<circle cx="137.9" cy="319.4" r="2.2"/>
<circle cx="131.0" cy="326.4" r="2.2"/>
<circle cx="135.1" cy="316.1" r="2.2"/>
<circle cx="130.1" cy="323.2" r="2.2"/>
<circle cx="134.1" cy="323.8" r="2.2"/>
<circle cx="129.8" cy="325.8" r="2.2"/>
<circle cx="130.5" cy="326.9" r="2.2"/>
<circle cx="134.2" cy="325.8" r="2.2"/>
<circle cx="122.4" cy="296.5" r="2.2"/>
<circle cx="121.1" cy="311.8" r="2.2"/>
<circle cx="131.4" cy="329.1" r="2.2"/>
<circle cx="120.6" cy="287.1" r="2.2"/>
<circle cx="129.6" cy="320.8" r="2.2"/>
<circle cx="133.8" cy="325.1" r="2.2"/>
<circle cx="147.8" cy="285.4" r="2.2"/>
<circle cx="121.6" cy="299.4" r="2.2"/>
<circle cx="131.0" cy="328.5" r="2.2"/>
<circle cx="121.7" cy="312.0" r="2.2"/>
<circle cx="133.2" cy="326.6" r="2.2"/>
<circle cx="136.8" cy="309.8" r="2.2"/>
<circle cx="136.4" cy="317.7" r="2.2"/>
<circle cx="133.5" cy="329.0" r="2.2"/>
<circle cx="125.5" cy="325.5" r="2.2"/>
<circle cx="142.1" cy="317.0" r="2.2"/>
<circle cx="133.2" cy="329.0" r="2.2"/>
<circle cx="139.3" cy="301.6" r="2.2"/>
<circle cx="133.9" cy="328.9" r="2.2"/>
<circle cx="137.5" cy="303.9" r="2.2"/>
<circle cx="133.9" cy="322.8" r="2.2"/>
<circle cx="141.6" cy="295.6" r="2.2"/>
<circle cx="145.9" cy="296.0" r="2.2"/>
<circle cx="124.7" cy="303.0" r="2.2"/>
<circle cx="126.7" cy="309.5" r="2.2"/>
<circle cx="125.5" cy="318.1" r="2.2"/>
<circle cx="127.8" cy="312.5" r="2.2"/>
<circle cx="133.9" cy="323.1" r="2.2"/>
<circle cx="147.8" cy="266.5" r="2.2"/>
<circle cx="137.8" cy="321.5" r="2.2"/>
<circle cx="133.3" cy="327.9" r="2.2"/>
<circle cx="129.1" cy="325.7" r="2.2"/>
<circle cx="133.3" cy="324.4" r="2.2"/>
<circle cx="124.1" cy="304.5" r="2.2"/>
<circle cx="134.3" cy="324.0" r="2.2"/>
<circle cx="120.5" cy="276.0" r="2.2"/>
<circle cx="129.9" cy="326.5" r="2.2"/>
<circle cx="141.7" cy="295.7" r="2.2"/>
<circle cx="131.1" cy="329.2" r="2.2"/>
<circle cx="129.3" cy="322.3" r="2.2"/>
<circle cx="134.7" cy="326.8" r="2.2"/>
<circle cx="133.6" cy="328.0" r="2.2"/>
<circle cx="124.2" cy="289.7" r="2.2"/>
<circle cx="128.6" cy="319.2" r="2.2"/>
<circle cx="128.2" cy="322.9" r="2.2"/>
<circle cx="135.4" cy="318.8" r="2.2"/>
<circle cx="145.2" cy="321.8" r="2.2"/>
<circle cx="134.4" cy="325.6" r="2.2"/>
<circle cx="153.8" cy="295.3" r="2.2"/>
<circle cx="132.6" cy="330.2" r="2.2"/>
<circle cx="132.9" cy="330.5" r="2.2"/>
<circle cx="126.9" cy="314.7" r="2.2"/>
<circle cx="122.3" cy="290.8" r="2.2"/>
<circle cx="130.9" cy="330.0" r="2.2"/>
<circle cx="131.4" cy="329.7" r="2.2"/>
<circle cx="132.9" cy="328.9" r="2.2"/>
<circle cx="112.5" cy="302.3" r="2.2"/>
<circle cx="145.0" cy="301.9" r="2.2"/>
<circle cx="125.5" cy="321.8" r="2.2"/>
<circle cx="133.0" cy="329.5" r="2.2"/>
<circle cx="121.2" cy="299.1" r="2.2"/>
<circle cx="143.2" cy="295.8" r="2.2"/>
<circle cx="125.9" cy="310.0" r="2.2"/>
<circle cx="135.5" cy="323.7" r="2.2"/>
<circle cx="112.8" cy="253.1" r="2.2"/>
<circle cx="125.8" cy="316.9" r="2.2"/>
<circle cx="140.1" cy="314.8" r="2.2"/>
<circle cx="129.5" cy="319.2" r="2.2"/>
<circle cx="125.1" cy="316.2" r="2.2"/>
<circle cx="129.9" cy="325.5" r="2.2"/>
<circle cx="140.5" cy="301.1" r="2.2"/>
<circle cx="128.8" cy="322.2" r="2.2"/>
<circle cx="124.7" cy="313.7" r="2.2"/>
<circle cx="126.9" cy="314.7" r="2.2"/>
<circle cx="133.3" cy="328.7" r="2.2"/>
<circle cx="102.2" cy="300.0" r="2.2"/>
<circle cx="134.1" cy="322.2" r="2.2"/>
<circle cx="127.4" cy="310.1" r="2.2"/>
<circle cx="130.2" cy="328.8" r="2.2"/>
<circle cx="135.1" cy="321.8" r="2.2"/>
<circle cx="127.3" cy="311.8" r="2.2"/>
<circle cx="136.6" cy="324.1" r="2.2"/>
<circle cx="126.8" cy="317.1" r="2.2"/>
<circle cx="137.3" cy="306.1" r="2.2"/>
<circle cx="131.4" cy="330.6" r="2.2"/>
<circle cx="131.3" cy="328.3" r="2.2"/>
<circle cx="116.5" cy="268.1" r="2.2"/>
<circle cx="141.7" cy="286.7" r="2.2"/>
<circle cx="145.5" cy="291.9" r="2.2"/>
<circle cx="122.6" cy="313.1" r="2.2"/>
<circle cx="141.2" cy="318.5" r="2.2"/>
<circle cx="126.9" cy="325.7" r="2.2"/>
<circle cx="120.8" cy="272.9" r="2.2"/>
<circle cx="145.3" cy="308.5" r="2.2"/>
<circle cx="132.8" cy="328.5" r="2.2"/>
<circle cx="146.7" cy="287.7" r="2.2"/>
<circle cx="118.0" cy="315.6" r="2.2"/>
<circle cx="139.0" cy="305.2" r="2.2"/>
<circle cx="125.6" cy="301.3" r="2.2"/>
<circle cx="130.2" cy="328.3" r="2.2"/>
<circle cx="134.1" cy="325.4" r="2.2"/>
<circle cx="131.7" cy="330.3" r="2.2"/>
<circle cx="136.8" cy="312.2" r="2.2"/>
<circle cx="135.0" cy="316.7" r="2.2"/>
<circle cx="131.6" cy="330.5" r="2.2"/>
<circle cx="143.3" cy="291.7" r="2.2"/>
<circle cx="125.9" cy="308.4" r="2.2"/>
<circle cx="140.5" cy="318.1" r="2.2"/>
<circle cx="126.9" cy="307.0" r="2.2"/>
<circle cx="160.5" cy="286.6" r="2.2"/>
<circle cx="138.3" cy="310.1" r="2.2"/>
<circle cx="133.4" cy="326.1" r="2.2"/>
<circle cx="139.6" cy="316.8" r="2.2"/>
<circle cx="130.5" cy="328.2" r="2.2"/>
<circle cx="124.5" cy="318.4" r="2.2"/>
<circle cx="126.2" cy="307.1" r="2.2"/>
<circle cx="125.7" cy="319.9" r="2.2"/>
<circle cx="138.2" cy="312.7" r="2.2"/>
<circle cx="118.7" cy="302.5" r="2.2"/>
<circle cx="135.5" cy="321.0" r="2.2"/>
<circle cx="135.6" cy="314.4" r="2.2"/>
<circle cx="105.0" cy="309.1" r="2.2"/>
<circle cx="127.2" cy="321.3" r="2.2"/>
<circle cx="133.8" cy="329.4" r="2.2"/>
<circle cx="115.9" cy="295.4" r="2.2"/>
<circle cx="142.3" cy="297.2" r="2.2"/>
<circle cx="129.0" cy="326.9" r="2.2"/>
<circle cx="141.5" cy="302.3" r="2.2"/>
<circle cx="146.5" cy="284.6" r="2.2"/>
<circle cx="131.4" cy="328.9" r="2.2"/>
<circle cx="133.9" cy="324.9" r="2.2"/>
<circle cx="147.8" cy="309.5" r="2.2"/>
<circle cx="137.8" cy="326.1" r="2.2"/>
<circle cx="131.1" cy="329.6" r="2.2"/>
<circle cx="134.5" cy="326.8" r="2.2"/>
<circle cx="143.3" cy="316.0" r="2.2"/>
<circle cx="128.2" cy="317.7" r="2.2"/>
<circle cx="128.0" cy="318.3" r="2.2"/>
<circle cx="128.6" cy="317.7" r="2.2"/>
<circle cx="126.4" cy="309.9" r="2.2"/>
<circle cx="122.8" cy="312.9" r="2.2"/>
<circle cx="124.9" cy="305.9" r="2.2"/>
<circle cx="141.2" cy="292.6" r="2.2"/>
<circle cx="129.5" cy="321.3" r="2.2"/>
<circle cx="129.6" cy="323.4" r="2.2"/>
<circle cx="124.3" cy="315.7" r="2.2"/>
<circle cx="129.6" cy="323.4" r="2.2"/>
<circle cx="120.8" cy="289.6" r="2.2"/>
<circle cx="133.1" cy="328.0" r="2.2"/>
<circle cx="137.2" cy="318.1" r="2.2"/>
<circle cx="132.6" cy="329.5" r="2.2"/>
<circle cx="142.9" cy="316.6" r="2.2"/>
<circle cx="134.6" cy="328.5" r="2.2"/>
<circle cx="133.5" cy="325.4" r="2.2"/>
<circle cx="134.5" cy="320.9" r="2.2"/>
<circle cx="127.3" cy="308.5" r="2.2"/>
<circle cx="106.8" cy="316.3" r="2.2"/>
<circle cx="133.5" cy="323.7" r="2.2"/>
<circle cx="119.6" cy="312.4" r="2.2"/>
<circle cx="131.9" cy="330.6" r="2.2"/>
<circle cx="145.0" cy="285.9" r="2.2"/>
<circle cx="146.3" cy="298.2" r="2.2"/>
<circle cx="125.2" cy="326.0" r="2.2"/>
<circle cx="130.1" cy="322.6" r="2.2"/>
<circle cx="125.9" cy="305.4" r="2.2"/>
<circle cx="141.8" cy="311.7" r="2.2"/>
<circle cx="153.3" cy="279.9" r="2.2"/>
<circle cx="139.3" cy="300.2" r="2.2"/>
<circle cx="133.7" cy="329.5" r="2.2"/>
<circle cx="135.2" cy="324.0" r="2.2"/>
<circle cx="136.4" cy="314.4" r="2.2"/>
<circle cx="127.6" cy="313.6" r="2.2"/>
<circle cx="130.4" cy="324.6" r="2.2"/>
<circle cx="141.9" cy="308.1" r="2.2"/>
<circle cx="134.7" cy="323.8" r="2.2"/>
<circle cx="132.5" cy="330.1" r="2.2"/>
<circle cx="134.4" cy="321.6" r="2.2"/>
<circle cx="139.1" cy="309.0" r="2.2"/>
<circle cx="116.0" cy="317.3" r="2.2"/>
<circle cx="138.4" cy="320.1" r="2.2"/>
<circle cx="127.3" cy="315.7" r="2.2"/>
<circle cx="132.3" cy="330.8" r="2.2"/>
<circle cx="129.6" cy="328.6" r="2.2"/>
<circle cx="143.0" cy="286.8" r="2.2"/>
<circle cx="132.9" cy="330.4" r="2.2"/>
<circle cx="136.9" cy="314.9" r="2.2"/>
<circle cx="119.5" cy="304.4" r="2.2"/>
<circle cx="143.1" cy="308.9" r="2.2"/>
<circle cx="130.5" cy="328.2" r="2.2"/>
<circle cx="133.3" cy="327.5" r="2.2"/>
<circle cx="121.8" cy="294.3" r="2.2"/>
<circle cx="133.1" cy="328.2" r="2.2"/>
<circle cx="130.7" cy="328.1" r="2.2"/>
<circle cx="134.6" cy="325.8" r="2.2"/>
<circle cx="134.9" cy="320.2" r="2.2"/>
<circle cx="128.1" cy="319.2" r="2.2"/>
<circle cx="130.6" cy="325.9" r="2.2"/>
<circle cx="103.7" cy="286.1" r="2.2"/>
<circle cx="129.4" cy="325.1" r="2.2"/>
<circle cx="134.3" cy="328.1" r="2.2"/>
<circle cx="130.1" cy="322.2" r="2.2"/>
<circle cx="155.0" cy="279.4" r="2.2"/>
<circle cx="126.5" cy="322.0" r="2.2"/>
<circle cx="133.5" cy="329.0" r="2.2"/>
<circle cx="130.6" cy="330.1" r="2.2"/>
<circle cx="119.4" cy="302.7" r="2.2"/>
<circle cx="127.5" cy="315.5" r="2.2"/>
<circle cx="146.9" cy="293.2" r="2.2"/>
<circle cx="128.0" cy="313.1" r="2.2"/>
<circle cx="102.6" cy="284.7" r="2.2"/>
<circle cx="133.7" cy="327.7" r="2.2"/>
<circle cx="126.0" cy="320.2" r="2.2"/>
<circle cx="127.2" cy="314.1" r="2.2"/>
<circle cx="135.0" cy="321.6" r="2.2"/>
<circle cx="122.1" cy="288.3" r="2.2"/>
<circle cx="133.3" cy="328.4" r="2.2"/>
<circle cx="129.2" cy="321.7" r="2.2"/>
<circle cx="126.6" cy="307.9" r="2.2"/>
<circle cx="126.0" cy="323.2" r="2.2"/>
<circle cx="134.2" cy="321.2" r="2.2"/>
<circle cx="131.8" cy="330.9" r="2.2"/>
<circle cx="133.9" cy="324.9" r="2.2"/>
<circle cx="145.9" cy="304.1" r="2.2"/>
<circle cx="115.9" cy="297.1" r="2.2"/>
<circle cx="139.6" cy="315.8" r="2.2"/>
<circle cx="119.3" cy="291.5" r="2.2"/>
<circle cx="106.8" cy="280.6" r="2.2"/>
<circle cx="130.1" cy="322.9" r="2.2"/>
<circle cx="133.1" cy="329.5" r="2.2"/>
<circle cx="133.6" cy="325.4" r="2.2"/>
<circle cx="126.9" cy="314.8" r="2.2"/>
<circle cx="139.3" cy="295.3" r="2.2"/>
<circle cx="132.3" cy="330.0" r="2.2"/>
<circle cx="120.0" cy="304.9" r="2.2"/>
<circle cx="131.6" cy="330.2" r="2.2"/>
<circle cx="142.4" cy="291.1" r="2.2"/>
<circle cx="133.9" cy="326.8" r="2.2"/>
<circle cx="128.5" cy="323.4" r="2.2"/>
<circle cx="154.6" cy="309.8" r="2.2"/>
<circle cx="125.4" cy="306.9" r="2.2"/>
<circle cx="124.7" cy="292.1" r="2.2"/>
<circle cx="148.3" cy="277.6" r="2.2"/>
<circle cx="138.2" cy="320.9" r="2.2"/>
<circle cx="130.4" cy="327.2" r="2.2"/>
<circle cx="135.3" cy="319.8" r="2.2"/>
<circle cx="129.2" cy="318.6" r="2.2"/>
<circle cx="132.7" cy="328.6" r="2.2"/>
<circle cx="126.8" cy="308.8" r="2.2"/>
<circle cx="127.6" cy="314.3" r="2.2"/>
<circle cx="126.9" cy="308.0" r="2.2"/>
<circle cx="123.9" cy="290.1" r="2.2"/>
<circle cx="142.3" cy="293.6" r="2.2"/>
<circle cx="129.3" cy="326.6" r="2.2"/>
<circle cx="117.9" cy="306.9" r="2.2"/>
<circle cx="133.4" cy="329.6" r="2.2"/>
<circle cx="130.4" cy="328.6" r="2.2"/>
<circle cx="129.5" cy="326.1" r="2.2"/>
<circle cx="142.9" cy="306.9" r="2.2"/>
<circle cx="139.4" cy="316.6" r="2.2"/>
<circle cx="118.6" cy="310.2" r="2.2"/>
<circle cx="138.8" cy="302.6" r="2.2"/>
<circle cx="141.2" cy="304.3" r="2.2"/>
<circle cx="124.5" cy="318.1" r="2.2"/>
<circle cx="117.7" cy="315.4" r="2.2"/>
<circle cx="132.8" cy="327.1" r="2.2"/>
<circle cx="133.2" cy="328.7" r="2.2"/>
<circle cx="135.2" cy="326.9" r="2.2"/>
<circle cx="131.3" cy="329.1" r="2.2"/>
<circle cx="133.0" cy="329.3" r="2.2"/>
<circle cx="137.2" cy="314.1" r="2.2"/>
<circle cx="126.6" cy="304.4" r="2.2"/>
<circle cx="125.3" cy="299.0" r="2.2"/>
<circle cx="129.7" cy="319.7" r="2.2"/>
<circle cx="128.7" cy="322.8" r="2.2"/>
<circle cx="130.0" cy="322.6" r="2.2"/>
<circle cx="129.4" cy="325.5" r="2.2"/>
<circle cx="141.9" cy="324.4" r="2.2"/>
<circle cx="138.7" cy="300.8" r="2.2"/>
<circle cx="140.4" cy="317.4" r="2.2"/>
<circle cx="132.4" cy="330.6" r="2.2"/>
<circle cx="127.1" cy="307.8" r="2.2"/>
<circle cx="122.3" cy="298.0" r="2.2"/>
<circle cx="139.5" cy="310.6" r="2.2"/>
<circle cx="100.4" cy="252.3" r="2.2"/>
<circle cx="131.1" cy="329.6" r="2.2"/>
<circle cx="131.9" cy="330.6" r="2.2"/>
<circle cx="151.4" cy="324.4" r="2.2"/>
<circle cx="131.0" cy="327.2" r="2.2"/>
<circle cx="120.7" cy="298.8" r="2.2"/>
<circle cx="127.6" cy="328.3" r="2.2"/>
<circle cx="110.2" cy="307.9" r="2.2"/>
<circle cx="124.1" cy="306.2" r="2.2"/>
<circle cx="125.8" cy="309.6" r="2.2"/>
<circle cx="139.2" cy="298.9" r="2.2"/>
<circle cx="134.0" cy="329.2" r="2.2"/>
<circle cx="135.7" cy="321.4" r="2.2"/>
<circle cx="135.5" cy="321.5" r="2.2"/>
<circle cx="120.4" cy="313.9" r="2.2"/>
<circle cx="128.7" cy="320.9" r="2.2"/>
<circle cx="144.5" cy="301.1" r="2.2"/>
<circle cx="134.3" cy="321.8" r="2.2"/>
<circle cx="130.5" cy="330.5" r="2.2"/>
<circle cx="116.7" cy="314.1" r="2.2"/>
<circle cx="128.2" cy="317.7" r="2.2"/>
<circle cx="130.5" cy="324.1" r="2.2"/>
<circle cx="142.4" cy="280.2" r="2.2"/>
<circle cx="131.8" cy="330.7" r="2.2"/>
<circle cx="115.3" cy="305.4" r="2.2"/>
<circle cx="130.0" cy="323.7" r="2.2"/>
<circle cx="132.5" cy="329.7" r="2.2"/>
<circle cx="137.7" cy="312.1" r="2.2"/>
<circle cx="130.8" cy="324.6" r="2.2"/>
<circle cx="155.4" cy="277.3" r="2.2"/>
<circle cx="130.1" cy="323.3" r="2.2"/>
<circle cx="133.5" cy="328.4" r="2.2"/>
<circle cx="126.8" cy="318.6" r="2.2"/>
<circle cx="128.4" cy="321.0" r="2.2"/>
<circle cx="112.7" cy="293.0" r="2.2"/>
<circle cx="149.0" cy="296.6" r="2.2"/>
<circle cx="121.2" cy="319.2" r="2.2"/>
<circle cx="135.2" cy="321.4" r="2.2"/>
<circle cx="138.5" cy="307.6" r="2.2"/>
<circle cx="140.9" cy="303.5" r="2.2"/>
<circle cx="124.0" cy="294.9" r="2.2"/>
<circle cx="125.6" cy="315.0" r="2.2"/>
<circle cx="132.7" cy="330.4" r="2.2"/>
<circle cx="123.5" cy="289.5" r="2.2"/>
<circle cx="143.5" cy="308.3" r="2.2"/>
<circle cx="134.8" cy="321.6" r="2.2"/>
<circle cx="130.4" cy="325.8" r="2.2"/>
<circle cx="136.2" cy="317.6" r="2.2"/>
<circle cx="129.8" cy="325.4" r="2.2"/>
<circle cx="131.3" cy="329.0" r="2.2"/>
<circle cx="144.9" cy="313.6" r="2.2"/>
<circle cx="126.4" cy="302.7" r="2.2"/>
<circle cx="136.5" cy="325.4" r="2.2"/>
<circle cx="122.9" cy="314.2" r="2.2"/>
<circle cx="128.2" cy="317.6" r="2.2"/>
<circle cx="138.3" cy="312.7" r="2.2"/>
<circle cx="132.9" cy="329.9" r="2.2"/>
<circle cx="129.9" cy="320.6" r="2.2"/>
<circle cx="140.2" cy="315.7" r="2.2"/>
<circle cx="121.1" cy="313.6" r="2.2"/>
<circle cx="129.2" cy="319.8" r="2.2"/>
<circle cx="148.2" cy="271.6" r="2.2"/>
<circle cx="141.5" cy="318.2" r="2.2"/>
<circle cx="125.9" cy="327.3" r="2.2"/>
<circle cx="132.2" cy="331.0" r="2.2"/>
<circle cx="123.9" cy="308.1" r="2.2"/>
<circle cx="135.1" cy="317.6" r="2.2"/>
<circle cx="160.5" cy="303.2" r="2.2"/>
<circle cx="128.1" cy="317.5" r="2.2"/>
<circle cx="141.0" cy="297.4" r="2.2"/>
<circle cx="121.7" cy="295.6" r="2.2"/>
<circle cx="133.2" cy="328.3" r="2.2"/>
<circle cx="127.5" cy="318.8" r="2.2"/>
<circle cx="130.0" cy="324.5" r="2.2"/>
<circle cx="124.3" cy="303.6" r="2.2"/>
<circle cx="151.5" cy="297.6" r="2.2"/>
<circle cx="130.6" cy="330.9" r="2.2"/>
<circle cx="136.7" cy="317.5" r="2.2"/>
<circle cx="129.3" cy="322.6" r="2.2"/>
<circle cx="127.4" cy="311.5" r="2.2"/>
<circle cx="133.3" cy="327.1" r="2.2"/>
<circle cx="120.3" cy="308.0" r="2.2"/>
<circle cx="130.0" cy="324.1" r="2.2"/>
<circle cx="130.1" cy="326.4" r="2.2"/>
<circle cx="132.2" cy="330.5" r="2.2"/>
<circle cx="133.2" cy="325.9" r="2.2"/>
<circle cx="129.4" cy="322.2" r="2.2"/>
<circle cx="127.9" cy="316.8" r="2.2"/>
<circle cx="129.2" cy="316.5" r="2.2"/>
<circle cx="139.8" cy="305.0" r="2.2"/>
<circle cx="119.0" cy="304.9" r="2.2"/>
<circle cx="139.7" cy="293.3" r="2.2"/>
<circle cx="138.7" cy="316.4" r="2.2"/>
<circle cx="139.7" cy="300.1" r="2.2"/>
<circle cx="108.3" cy="283.2" r="2.2"/>
<circle cx="130.7" cy="324.8" r="2.2"/>
<circle cx="134.9" cy="326.2" r="2.2"/>
<circle cx="150.9" cy="302.2" r="2.2"/>
<circle cx="132.8" cy="330.4" r="2.2"/>
<circle cx="154.4" cy="252.3" r="2.2"/>
<circle cx="148.1" cy="294.7" r="2.2"/>
<circle cx="130.3" cy="329.0" r="2.2"/>
<circle cx="140.0" cy="322.0" r="2.2"/>
<circle cx="134.1" cy="322.1" r="2.2"/>
<circle cx="141.2" cy="304.3" r="2.2"/>
<circle cx="135.3" cy="319.9" r="2.2"/>
<circle cx="143.8" cy="285.1" r="2.2"/>
<circle cx="131.3" cy="329.9" r="2.2"/>
<circle cx="138.0" cy="310.5" r="2.2"/>
<circle cx="133.8" cy="325.5" r="2.2"/>
<circle cx="143.2" cy="273.4" r="2.2"/>
<circle cx="120.6" cy="292.9" r="2.2"/>
<circle cx="139.7" cy="301.5" r="2.2"/>
<circle cx="142.7" cy="299.0" r="2.2"/>
<circle cx="138.4" cy="316.7" r="2.2"/>
<circle cx="152.3" cy="253.4" r="2.2"/>
<circle cx="147.5" cy="316.6" r="2.2"/>
<circle cx="136.6" cy="311.7" r="2.2"/>
<circle cx="141.3" cy="306.3" r="2.2"/>
<circle cx="109.6" cy="315.7" r="2.2"/>
<circle cx="140.0" cy="300.0" r="2.2"/>
<circle cx="125.3" cy="306.3" r="2.2"/>
<circle cx="134.1" cy="327.5" r="2.2"/>
<circle cx="146.7" cy="293.0" r="2.2"/>
<circle cx="136.1" cy="322.8" r="2.2"/>
<circle cx="130.3" cy="323.2" r="2.2"/>
<circle cx="121.7" cy="318.5" r="2.2"/>
<circle cx="129.0" cy="317.8" r="2.2"/>
<circle cx="136.4" cy="311.6" r="2.2"/>
<circle cx="130.9" cy="326.1" r="2.2"/>
<circle cx="132.8" cy="328.9" r="2.2"/>
<circle cx="130.7" cy="324.7" r="2.2"/>
<circle cx="120.9" cy="321.3" r="2.2"/>
<circle cx="139.7" cy="312.8" r="2.2"/>
<circle cx="133.2" cy="327.3" r="2.2"/>
<circle cx="133.5" cy="324.9" r="2.2"/>
<circle cx="128.3" cy="318.5" r="2.2"/>
<circle cx="133.5" cy="326.6" r="2.2"/>
<circle cx="136.0" cy="324.8" r="2.2"/>
<circle cx="124.9" cy="321.3" r="2.2"/>
<circle cx="123.5" cy="298.7" r="2.2"/>
<circle cx="134.4" cy="320.1" r="2.2"/>
<circle cx="148.6" cy="306.6" r="2.2"/>
<circle cx="133.4" cy="327.5" r="2.2"/>
<circle cx="124.8" cy="317.8" r="2.2"/>
<circle cx="142.0" cy="314.3" r="2.2"/>
<circle cx="156.8" cy="274.3" r="2.2"/>
<circle cx="129.6" cy="322.9" r="2.2"/>
<circle cx="126.4" cy="311.3" r="2.2"/>
<circle cx="149.5" cy="288.2" r="2.2"/>
<circle cx="133.6" cy="326.7" r="2.2"/>
<circle cx="140.6" cy="298.4" r="2.2"/>
<circle cx="130.3" cy="329.7" r="2.2"/>
<circle cx="141.7" cy="281.0" r="2.2"/>
<circle cx="127.4" cy="319.0" r="2.2"/>
<circle cx="133.2" cy="328.0" r="2.2"/>
<circle cx="131.1" cy="329.2" r="2.2"/>
<circle cx="118.0" cy="304.0" r="2.2"/>
<circle cx="109.0" cy="315.9" r="2.2"/>
<circle cx="126.8" cy="309.9" r="2.2"/>
<circle cx="125.5" cy="317.9" r="2.2"/>
<circle cx="140.3" cy="293.9" r="2.2"/>
<circle cx="128.8" cy="321.6" r="2.2"/>
<circle cx="159.7" cy="301.3" r="2.2"/>
<circle cx="139.8" cy="297.8" r="2.2"/>
<circle cx="138.3" cy="312.7" r="2.2"/>
<circle cx="117.4" cy="283.3" r="2.2"/>
<circle cx="128.2" cy="315.4" r="2.2"/>
<circle cx="152.9" cy="286.6" r="2.2"/>
<circle cx="138.2" cy="312.2" r="2.2"/>
<circle cx="141.3" cy="313.6" r="2.2"/>
<circle cx="136.4" cy="315.7" r="2.2"/>
<circle cx="126.7" cy="316.7" r="2.2"/>
<circle cx="128.8" cy="317.6" r="2.2"/>
<circle cx="130.8" cy="328.3" r="2.2"/>
<circle cx="123.7" cy="291.7" r="2.2"/>
<circle cx="131.5" cy="331.0" r="2.2"/>
<circle cx="135.2" cy="319.0" r="2.2"/>
<circle cx="128.7" cy="322.9" r="2.2"/>
<circle cx="121.8" cy="298.7" r="2.2"/>
<circle cx="124.8" cy="315.8" r="2.2"/>
<circle cx="123.8" cy="299.2" r="2.2"/>
<circle cx="134.9" cy="321.8" r="2.2"/>
<circle cx="148.3" cy="293.7" r="2.2"/>
<circle cx="140.6" cy="291.9" r="2.2"/>
<circle cx="135.0" cy="327.4" r="2.2"/>
<circle cx="138.7" cy="322.4" r="2.2"/>
<circle cx="139.1" cy="299.8" r="2.2"/>
<circle cx="129.0" cy="318.8" r="2.2"/>
<circle cx="128.8" cy="314.8" r="2.2"/>
<circle cx="140.7" cy="299.7" r="2.2"/>
<circle cx="126.4" cy="318.5" r="2.2"/>
<circle cx="158.6" cy="313.4" r="2.2"/>
<circle cx="133.9" cy="324.6" r="2.2"/>
<circle cx="133.7" cy="326.8" r="2.2"/>
<circle cx="111.7" cy="280.8" r="2.2"/>
<circle cx="134.5" cy="321.2" r="2.2"/>
<circle cx="124.6" cy="306.4" r="2.2"/>
<circle cx="130.1" cy="324.9" r="2.2"/>
<circle cx="126.6" cy="323.5" r="2.2"/>
<circle cx="132.6" cy="329.7" r="2.2"/>
<circle cx="133.8" cy="325.1" r="2.2"/>
<circle cx="134.3" cy="322.8" r="2.2"/>
<circle cx="135.5" cy="326.9" r="2.2"/>
<circle cx="131.6" cy="330.1" r="2.2"/>
<circle cx="126.0" cy="312.7" r="2.2"/>
<circle cx="139.8" cy="292.5" r="2.2"/>
<circle cx="107.9" cy="234.4" r="2.2"/>
<circle cx="148.8" cy="263.3" r="2.2"/>
<circle cx="132.8" cy="327.4" r="2.2"/>
<circle cx="121.7" cy="319.1" r="2.2"/>
<circle cx="146.9" cy="277.9" r="2.2"/>
<circle cx="128.6" cy="316.4" r="2.2"/>
<circle cx="144.7" cy="308.6" r="2.2"/>
<circle cx="137.7" cy="323.1" r="2.2"/>
<circle cx="134.7" cy="323.0" r="2.2"/>
<circle cx="125.6" cy="301.2" r="2.2"/>
<circle cx="139.1" cy="315.7" r="2.2"/>
<circle cx="134.0" cy="324.0" r="2.2"/>
<circle cx="129.6" cy="322.0" r="2.2"/>
<circle cx="134.4" cy="323.6" r="2.2"/>
<circle cx="126.4" cy="321.3" r="2.2"/>
<circle cx="132.9" cy="328.9" r="2.2"/>
<circle cx="133.2" cy="329.3" r="2.2"/>
<circle cx="129.0" cy="324.1" r="2.2"/>
<circle cx="127.7" cy="316.4" r="2.2"/>
<circle cx="119.6" cy="276.1" r="2.2"/>
<circle cx="137.0" cy="322.1" r="2.2"/>
<circle cx="125.7" cy="311.2" r="2.2"/>
<circle cx="130.7" cy="327.6" r="2.2"/>
<circle cx="143.2" cy="301.4" r="2.2"/>
<circle cx="129.2" cy="327.9" r="2.2"/>
<circle cx="139.0" cy="309.1" r="2.2"/>
<circle cx="139.8" cy="304.4" r="2.2"/>
<circle cx="133.5" cy="326.9" r="2.2"/>
<circle cx="138.4" cy="309.1" r="2.2"/>
<circle cx="156.5" cy="290.0" r="2.2"/>
<circle cx="135.9" cy="315.8" r="2.2"/>
<circle cx="130.0" cy="326.6" r="2.2"/>
<circle cx="138.4" cy="298.1" r="2.2"/>
<circle cx="130.1" cy="327.6" r="2.2"/>
<circle cx="131.2" cy="327.1" r="2.2"/>
<circle cx="131.2" cy="328.7" r="2.2"/>
<circle cx="132.8" cy="326.9" r="2.2"/>
<circle cx="132.7" cy="328.3" r="2.2"/>
<circle cx="114.0" cy="254.7" r="2.2"/>
<circle cx="105.4" cy="300.8" r="2.2"/>
<circle cx="127.9" cy="319.6" r="2.2"/>
<circle cx="120.2" cy="292.2" r="2.2"/>
<circle cx="133.6" cy="325.5" r="2.2"/>
<circle cx="131.1" cy="328.7" r="2.2"/>
<circle cx="139.9" cy="323.1" r="2.2"/>
<circle cx="146.1" cy="275.3" r="2.2"/>
<circle cx="134.7" cy="322.6" r="2.2"/>
<circle cx="125.4" cy="311.5" r="2.2"/>
<circle cx="116.7" cy="289.8" r="2.2"/>
<circle cx="130.4" cy="329.3" r="2.2"/>
<circle cx="123.2" cy="290.3" r="2.2"/>
<circle cx="125.5" cy="318.4" r="2.2"/>
<circle cx="153.0" cy="299.6" r="2.2"/>
<circle cx="128.2" cy="326.1" r="2.2"/>
<circle cx="130.0" cy="325.4" r="2.2"/>
<circle cx="110.0" cy="310.8" r="2.2"/>
<circle cx="145.0" cy="279.4" r="2.2"/>
<circle cx="126.6" cy="310.7" r="2.2"/>
<circle cx="125.8" cy="316.1" r="2.2"/>
<circle cx="132.2" cy="330.7" r="2.2"/>
<circle cx="113.2" cy="307.3" r="2.2"/>
<circle cx="128.2" cy="319.2" r="2.2"/>
<circle cx="128.9" cy="326.9" r="2.2"/>
<circle cx="134.5" cy="328.1" r="2.2"/>
<circle cx="128.2" cy="313.6" r="2.2"/>
<circle cx="133.7" cy="324.3" r="2.2"/>
<circle cx="123.0" cy="319.0" r="2.2"/>
<circle cx="126.6" cy="308.5" r="2.2"/>
<circle cx="131.6" cy="330.6" r="2.2"/>
<circle cx="133.0" cy="328.6" r="2.2"/>
<circle cx="129.1" cy="321.6" r="2.2"/>
<circle cx="117.5" cy="304.7" r="2.2"/>
<circle cx="132.7" cy="330.4" r="2.2"/>
<circle cx="116.5" cy="320.9" r="2.2"/>
<circle cx="127.2" cy="309.4" r="2.2"/>
<circle cx="120.6" cy="276.8" r="2.2"/>
<circle cx="115.8" cy="302.1" r="2.2"/>
<circle cx="145.2" cy="310.6" r="2.2"/>
<circle cx="142.7" cy="294.0" r="2.2"/>
<circle cx="123.3" cy="296.6" r="2.2"/>
<circle cx="113.2" cy="294.0" r="2.2"/>
<circle cx="128.7" cy="326.8" r="2.2"/>
<circle cx="136.4" cy="313.7" r="2.2"/>
<circle cx="130.2" cy="324.6" r="2.2"/>
<circle cx="139.2" cy="301.3" r="2.2"/>
<circle cx="133.1" cy="328.4" r="2.2"/>
<circle cx="137.0" cy="308.7" r="2.2"/>
<circle cx="144.2" cy="294.0" r="2.2"/>
<circle cx="161.4" cy="277.4" r="2.2"/>
<circle cx="127.9" cy="316.9" r="2.2"/>
<circle cx="137.4" cy="307.1" r="2.2"/>
<circle cx="123.7" cy="300.2" r="2.2"/>
<circle cx="133.1" cy="327.0" r="2.2"/>
<circle cx="132.5" cy="329.0" r="2.2"/>
<circle cx="133.7" cy="323.0" r="2.2"/>
<circle cx="136.8" cy="315.0" r="2.2"/>
<circle cx="130.3" cy="329.6" r="2.2"/>
<circle cx="134.4" cy="328.1" r="2.2"/>
<circle cx="134.6" cy="328.6" r="2.2"/>
<circle cx="137.9" cy="319.4" r="2.2"/>
<circle cx="123.5" cy="291.5" r="2.2"/>
<circle cx="131.8" cy="331.0" r="2.2"/>
<circle cx="133.7" cy="325.9" r="2.2"/>
<circle cx="129.7" cy="321.5" r="2.2"/>
<circle cx="105.0" cy="279.9" r="2.2"/>
<circle cx="125.6" cy="306.8" r="2.2"/>
<circle cx="145.5" cy="320.7" r="2.2"/>
<circle cx="128.6" cy="316.9" r="2.2"/>
<circle cx="131.5" cy="330.9" r="2.2"/>
<circle cx="129.3" cy="322.0" r="2.2"/>
<circle cx="139.1" cy="321.5" r="2.2"/>
<circle cx="118.5" cy="278.6" r="2.2"/>
<circle cx="116.8" cy="280.6" r="2.2"/>
<circle cx="126.9" cy="312.7" r="2.2"/>
<circle cx="129.1" cy="321.8" r="2.2"/>
<circle cx="125.2" cy="305.7" r="2.2"/>
<circle cx="154.6" cy="299.0" r="2.2"/>
<circle cx="131.4" cy="329.3" r="2.2"/>
<circle cx="129.0" cy="318.1" r="2.2"/>
<circle cx="127.4" cy="314.9" r="2.2"/>
<circle cx="126.6" cy="304.4" r="2.2"/>
<circle cx="124.3" cy="301.7" r="2.2"/>
<circle cx="150.8" cy="297.4" r="2.2"/>
<circle cx="136.7" cy="319.2" r="2.2"/>
<circle cx="126.7" cy="316.5" r="2.2"/>
<circle cx="133.1" cy="327.4" r="2.2"/>
<circle cx="125.0" cy="299.2" r="2.2"/>
<circle cx="128.8" cy="322.5" r="2.2"/>
<circle cx="135.2" cy="325.7" r="2.2"/>
<circle cx="122.9" cy="295.8" r="2.2"/>
<circle cx="135.6" cy="320.9" r="2.2"/>
<circle cx="137.8" cy="309.8" r="2.2"/>
<circle cx="131.0" cy="326.3" r="2.2"/>
<circle cx="115.6" cy="309.0" r="2.2"/>
<circle cx="133.8" cy="327.5" r="2.2"/>
<circle cx="135.5" cy="317.3" r="2.2"/>
<circle cx="127.9" cy="320.8" r="2.2"/>
<circle cx="130.3" cy="325.7" r="2.2"/>
<circle cx="142.6" cy="293.1" r="2.2"/>
<circle cx="154.1" cy="269.1" r="2.2"/>
<circle cx="130.7" cy="328.5" r="2.2"/>
<circle cx="125.7" cy="305.5" r="2.2"/>
<circle cx="133.0" cy="328.0" r="2.2"/>
<circle cx="129.8" cy="322.7" r="2.2"/>
<circle cx="141.2" cy="305.7" r="2.2"/>
<circle cx="121.8" cy="288.0" r="2.2"/>
<circle cx="133.6" cy="325.0" r="2.2"/>
<circle cx="142.8" cy="279.9" r="2.2"/>
<circle cx="134.0" cy="322.1" r="2.2"/>
<circle cx="130.7" cy="326.5" r="2.2"/>
<circle cx="138.6" cy="316.4" r="2.2"/>
<circle cx="122.2" cy="314.5" r="2.2"/>
<circle cx="133.3" cy="326.0" r="2.2"/>
<circle cx="130.5" cy="326.1" r="2.2"/>
<circle cx="145.0" cy="297.6" r="2.2"/>
<circle cx="144.6" cy="320.2" r="2.2"/>
<circle cx="134.4" cy="325.5" r="2.2"/>
<circle cx="141.6" cy="321.1" r="2.2"/>
<circle cx="124.3" cy="313.4" r="2.2"/>
<circle cx="137.3" cy="315.2" r="2.2"/>
<circle cx="129.8" cy="324.2" r="2.2"/>
<circle cx="122.6" cy="296.6" r="2.2"/>
<circle cx="133.5" cy="328.5" r="2.2"/>
<circle cx="130.2" cy="322.2" r="2.2"/>
<circle cx="130.0" cy="326.0" r="2.2"/>
<circle cx="128.8" cy="316.2" r="2.2"/>
<circle cx="130.7" cy="329.7" r="2.2"/>
<circle cx="120.0" cy="311.3" r="2.2"/>
<circle cx="125.4" cy="301.3" r="2.2"/>
<circle cx="136.5" cy="319.7" r="2.2"/>
<circle cx="131.9" cy="330.6" r="2.2"/>
<circle cx="128.4" cy="319.4" r="2.2"/>
<circle cx="110.8" cy="304.1" r="2.2"/>
<circle cx="135.7" cy="322.7" r="2.2"/>
<circle cx="150.8" cy="311.2" r="2.2"/>
<circle cx="133.4" cy="327.0" r="2.2"/>
<circle cx="139.0" cy="323.7" r="2.2"/>
<circle cx="127.3" cy="313.2" r="2.2"/>
<circle cx="121.4" cy="289.5" r="2.2"/>
<circle cx="111.6" cy="277.1" r="2.2"/>
<circle cx="132.2" cy="330.6" r="2.2"/>
<circle cx="147.2" cy="300.8" r="2.2"/>
<circle cx="133.9" cy="324.8" r="2.2"/>
<circle cx="128.2" cy="319.1" r="2.2"/>
<circle cx="136.4" cy="312.6" r="2.2"/>
<circle cx="135.8" cy="311.4" r="2.2"/>
<circle cx="136.6" cy="312.1" r="2.2"/>
<circle cx="129.1" cy="320.7" r="2.2"/>
<circle cx="121.6" cy="316.3" r="2.2"/>
<circle cx="139.1" cy="306.3" r="2.2"/>
<circle cx="127.8" cy="313.4" r="2.2"/>
<circle cx="145.1" cy="288.8" r="2.2"/>
<circle cx="122.7" cy="306.1" r="2.2"/>
<circle cx="144.5" cy="298.4" r="2.2"/>
<circle cx="126.3" cy="309.3" r="2.2"/>
<circle cx="131.4" cy="329.6" r="2.2"/>
<circle cx="150.8" cy="297.1" r="2.2"/>
<circle cx="129.9" cy="326.9" r="2.2"/>
<circle cx="130.1" cy="325.7" r="2.2"/>
<circle cx="122.0" cy="305.2" r="2.2"/>
<circle cx="137.8" cy="302.7" r="2.2"/>
<circle cx="133.4" cy="328.2" r="2.2"/>
<circle cx="136.6" cy="309.4" r="2.2"/>
<circle cx="138.6" cy="296.4" r="2.2"/>
<circle cx="133.7" cy="324.4" r="2.2"/>
<circle cx="133.1" cy="328.3" r="2.2"/>
<circle cx="128.2" cy="326.6" r="2.2"/>
<circle cx="132.9" cy="329.9" r="2.2"/>
<circle cx="138.5" cy="315.4" r="2.2"/>
<circle cx="125.4" cy="311.0" r="2.2"/>
<circle cx="135.4" cy="323.2" r="2.2"/>
<circle cx="141.8" cy="305.9" r="2.2"/>
<circle cx="127.4" cy="309.3" r="2.2"/>
<circle cx="147.4" cy="292.5" r="2.2"/>
<circle cx="123.9" cy="293.8" r="2.2"/>
<circle cx="146.5" cy="263.7" r="2.2"/>
<circle cx="141.1" cy="313.3" r="2.2"/>
<circle cx="142.2" cy="294.2" r="2.2"/>
<circle cx="153.7" cy="290.4" r="2.2"/>
<circle cx="130.2" cy="322.3" r="2.2"/>
<circle cx="151.0" cy="287.9" r="2.2"/>
<circle cx="127.8" cy="318.2" r="2.2"/>
<circle cx="132.9" cy="329.6" r="2.2"/>
<circle cx="135.0" cy="320.2" r="2.2"/>
<circle cx="136.1" cy="321.6" r="2.2"/>
<circle cx="144.5" cy="306.2" r="2.2"/>
<circle cx="133.0" cy="329.7" r="2.2"/>
<circle cx="134.5" cy="328.8" r="2.2"/>
<circle cx="129.3" cy="326.9" r="2.2"/>
<circle cx="148.1" cy="287.1" r="2.2"/>
<circle cx="131.0" cy="328.2" r="2.2"/>
<circle cx="132.5" cy="330.5" r="2.2"/>
<circle cx="128.8" cy="316.8" r="2.2"/>
<circle cx="127.9" cy="317.8" r="2.2"/>
<circle cx="131.6" cy="330.2" r="2.2"/>
<circle cx="130.5" cy="324.5" r="2.2"/>
<circle cx="125.6" cy="318.2" r="2.2"/>
<circle cx="143.5" cy="317.4" r="2.2"/>
<circle cx="134.0" cy="323.5" r="2.2"/>
<circle cx="144.3" cy="321.2" r="2.2"/>
<circle cx="133.5" cy="329.1" r="2.2"/>
<circle cx="142.4" cy="283.2" r="2.2"/>
<circle cx="132.8" cy="329.5" r="2.2"/>
<circle cx="129.2" cy="318.5" r="2.2"/>
<circle cx="124.3" cy="308.5" r="2.2"/>
<circle cx="142.1" cy="297.6" r="2.2"/>
<circle cx="130.5" cy="328.9" r="2.2"/>
<circle cx="129.2" cy="324.0" r="2.2"/>
<circle cx="137.3" cy="317.1" r="2.2"/>
<circle cx="132.7" cy="330.8" r="2.2"/>
<circle cx="156.4" cy="263.1" r="2.2"/>
<circle cx="136.9" cy="315.8" r="2.2"/>
<circle cx="134.6" cy="327.2" r="2.2"/>
<circle cx="129.0" cy="318.1" r="2.2"/>
<circle cx="129.4" cy="319.9" r="2.2"/>
<circle cx="144.1" cy="279.8" r="2.2"/>
<circle cx="127.0" cy="304.4" r="2.2"/>
<circle cx="129.8" cy="322.6" r="2.2"/>
<circle cx="127.0" cy="312.0" r="2.2"/>
<circle cx="142.3" cy="322.3" r="2.2"/>
<circle cx="132.8" cy="328.6" r="2.2"/>
<circle cx="118.5" cy="283.9" r="2.2"/>
<circle cx="123.2" cy="322.3" r="2.2"/>
<circle cx="128.0" cy="314.7" r="2.2"/>
<circle cx="122.2" cy="307.4" r="2.2"/>
<circle cx="134.1" cy="326.0" r="2.2"/>
<circle cx="125.5" cy="309.7" r="2.2"/>
<circle cx="120.6" cy="287.8" r="2.2"/>
<circle cx="134.3" cy="321.8" r="2.2"/>
<circle cx="132.8" cy="329.5" r="2.2"/>
<circle cx="115.9" cy="322.4" r="2.2"/>
<circle cx="139.5" cy="307.0" r="2.2"/>
<circle cx="138.8" cy="311.2" r="2.2"/>
<circle cx="138.5" cy="304.8" r="2.2"/>
<circle cx="136.3" cy="315.1" r="2.2"/>
<circle cx="130.9" cy="330.5" r="2.2"/>
<circle cx="136.7" cy="315.9" r="2.2"/>
<circle cx="128.0" cy="324.2" r="2.2"/>
<circle cx="147.6" cy="318.7" r="2.2"/>
<circle cx="130.6" cy="329.0" r="2.2"/>
<circle cx="127.6" cy="309.2" r="2.2"/>
<circle cx="138.0" cy="315.4" r="2.2"/>
<circle cx="131.2" cy="330.5" r="2.2"/>
<circle cx="129.8" cy="324.7" r="2.2"/>
<circle cx="127.6" cy="309.6" r="2.2"/>
<circle cx="143.9" cy="308.1" r="2.2"/>
<circle cx="129.5" cy="321.3" r="2.2"/>
<circle cx="113.8" cy="268.5" r="2.2"/>
<circle cx="123.7" cy="300.0" r="2.2"/>
<circle cx="116.8" cy="310.7" r="2.2"/>
<circle cx="128.9" cy="323.7" r="2.2"/>
<circle cx="135.8" cy="311.6" r="2.2"/>
<circle cx="137.4" cy="319.1" r="2.2"/>
<circle cx="129.1" cy="323.6" r="2.2"/>
<circle cx="128.4" cy="317.6" r="2.2"/>
<circle cx="133.1" cy="326.7" r="2.2"/>
<circle cx="141.8" cy="292.1" r="2.2"/>
<circle cx="133.7" cy="330.1" r="2.2"/>
<circle cx="126.3" cy="324.0" r="2.2"/>
<circle cx="126.4" cy="317.3" r="2.2"/>
<circle cx="141.2" cy="311.4" r="2.2"/>
<circle cx="145.5" cy="294.7" r="2.2"/>
<circle cx="133.8" cy="327.7" r="2.2"/>
<circle cx="134.9" cy="322.9" r="2.2"/>
<circle cx="133.7" cy="325.5" r="2.2"/>
<circle cx="124.7" cy="303.6" r="2.2"/>
<circle cx="140.0" cy="290.4" r="2.2"/>
<circle cx="138.7" cy="315.3" r="2.2"/>
<circle cx="133.7" cy="325.4" r="2.2"/>
<circle cx="130.9" cy="330.8" r="2.2"/>
<circle cx="134.2" cy="329.4" r="2.2"/>
<circle cx="127.3" cy="315.3" r="2.2"/>
<circle cx="135.1" cy="316.3" r="2.2"/>
<circle cx="156.1" cy="244.1" r="2.2"/>
<circle cx="131.4" cy="329.2" r="2.2"/>
<circle cx="124.9" cy="308.3" r="2.2"/>
<circle cx="133.6" cy="325.0" r="2.2"/>
<circle cx="133.2" cy="326.6" r="2.2"/>
<circle cx="126.9" cy="319.8" r="2.2"/>
<circle cx="135.0" cy="318.8" r="2.2"/>
<circle cx="145.2" cy="303.3" r="2.2"/>
<circle cx="128.3" cy="323.0" r="2.2"/>
<circle cx="122.5" cy="309.6" r="2.2"/>
<circle cx="132.8" cy="329.2" r="2.2"/>
<circle cx="134.4" cy="324.4" r="2.2"/>
<circle cx="133.1" cy="329.6" r="2.2"/>
<circle cx="126.6" cy="314.4" r="2.2"/>
<circle cx="126.9" cy="308.2" r="2.2"/>
<circle cx="132.5" cy="330.5" r="2.2"/>
<circle cx="121.5" cy="289.1" r="2.2"/>
<circle cx="138.5" cy="302.4" r="2.2"/>
<circle cx="132.0" cy="331.0" r="2.2"/>
<circle cx="131.5" cy="330.5" r="2.2"/>
<circle cx="124.8" cy="305.8" r="2.2"/>
<circle cx="124.9" cy="301.6" r="2.2"/>
<circle cx="129.0" cy="317.1" r="2.2"/>
<circle cx="130.0" cy="322.1" r="2.2"/>
<circle cx="130.7" cy="327.9" r="2.2"/>
<circle cx="122.2" cy="288.8" r="2.2"/>
<circle cx="139.2" cy="312.8" r="2.2"/>
<circle cx="142.6" cy="297.1" r="2.2"/>
<circle cx="130.8" cy="330.5" r="2.2"/>
<circle cx="130.5" cy="328.3" r="2.2"/>
<circle cx="135.8" cy="322.8" r="2.2"/>
<circle cx="123.2" cy="311.0" r="2.2"/>
<circle cx="121.3" cy="303.9" r="2.2"/>
<circle cx="136.1" cy="315.8" r="2.2"/>
<circle cx="150.1" cy="287.7" r="2.2"/>
<circle cx="132.5" cy="330.0" r="2.2"/>
<circle cx="135.5" cy="317.6" r="2.2"/>
<circle cx="144.3" cy="277.4" r="2.2"/>
<circle cx="148.9" cy="300.5" r="2.2"/>
<circle cx="127.5" cy="309.0" r="2.2"/>
<circle cx="141.7" cy="307.8" r="2.2"/>
<circle cx="140.8" cy="309.5" r="2.2"/>
<circle cx="133.2" cy="327.9" r="2.2"/>
<circle cx="126.9" cy="323.9" r="2.2"/>
<circle cx="129.4" cy="322.3" r="2.2"/>
<circle cx="132.2" cy="330.6" r="2.2"/>
<circle cx="134.7" cy="322.2" r="2.2"/>
<circle cx="121.7" cy="287.2" r="2.2"/>
<circle cx="163.8" cy="295.0" r="2.2"/>
<circle cx="138.1" cy="323.3" r="2.2"/>
<circle cx="120.5" cy="308.3" r="2.2"/>
<circle cx="133.1" cy="328.7" r="2.2"/>
<circle cx="124.7" cy="306.5" r="2.2"/>
<circle cx="140.5" cy="296.3" r="2.2"/>
<circle cx="121.5" cy="314.0" r="2.2"/>
<circle cx="122.9" cy="284.9" r="2.2"/>
<circle cx="131.3" cy="327.9" r="2.2"/>
<circle cx="133.4" cy="325.8" r="2.2"/>
<circle cx="135.0" cy="321.1" r="2.2"/>
<circle cx="129.0" cy="324.1" r="2.2"/>
<circle cx="131.0" cy="330.9" r="2.2"/>
<circle cx="133.5" cy="325.6" r="2.2"/>
<circle cx="138.7" cy="320.9" r="2.2"/>
<circle cx="135.5" cy="319.1" r="2.2"/>
<circle cx="140.6" cy="294.4" r="2.2"/>
<circle cx="128.0" cy="322.7" r="2.2"/>
<circle cx="140.5" cy="323.2" r="2.2"/>
<circle cx="141.2" cy="308.6" r="2.2"/>
<circle cx="124.5" cy="296.9" r="2.2"/>
<circle cx="133.0" cy="327.5" r="2.2"/>
<circle cx="130.6" cy="330.2" r="2.2"/>
<circle cx="133.4" cy="327.9" r="2.2"/>
<circle cx="126.3" cy="314.4" r="2.2"/>
<circle cx="152.5" cy="299.4" r="2.2"/>
<circle cx="131.0" cy="328.0" r="2.2"/>
<circle cx="140.0" cy="319.5" r="2.2"/>
<circle cx="124.3" cy="298.8" r="2.2"/>
<circle cx="120.3" cy="281.2" r="2.2"/>
<circle cx="130.9" cy="328.0" r="2.2"/>
<circle cx="139.9" cy="302.6" r="2.2"/>
<circle cx="128.1" cy="316.4" r="2.2"/>
<circle cx="133.2" cy="329.4" r="2.2"/>
<circle cx="132.6" cy="330.5" r="2.2"/>
<circle cx="116.1" cy="277.2" r="2.2"/>
<circle cx="111.2" cy="314.9" r="2.2"/>
<circle cx="138.7" cy="301.7" r="2.2"/>
<circle cx="136.8" cy="307.6" r="2.2"/>
<circle cx="124.4" cy="307.8" r="2.2"/>
<circle cx="150.1" cy="274.0" r="2.2"/>
<circle cx="128.0" cy="315.6" r="2.2"/>
<circle cx="125.8" cy="313.5" r="2.2"/>
<circle cx="141.6" cy="285.5" r="2.2"/>
<circle cx="146.5" cy="288.0" r="2.2"/>
<circle cx="130.0" cy="323.8" r="2.2"/>
<circle cx="159.5" cy="287.5" r="2.2"/>
<circle cx="134.1" cy="321.3" r="2.2"/>
<circle cx="139.3" cy="295.2" r="2.2"/>
<circle cx="136.9" cy="320.8" r="2.2"/>
<circle cx="132.9" cy="330.1" r="2.2"/>
<circle cx="129.0" cy="319.7" r="2.2"/>
<circle cx="134.6" cy="320.1" r="2.2"/>
<circle cx="127.2" cy="311.5" r="2.2"/>
<circle cx="136.3" cy="310.2" r="2.2"/>
<circle cx="117.3" cy="322.6" r="2.2"/>
<circle cx="144.3" cy="286.7" r="2.2"/>
<circle cx="141.5" cy="300.4" r="2.2"/>
<circle cx="128.0" cy="316.0" r="2.2"/>
<circle cx="128.3" cy="321.2" r="2.2"/>
<circle cx="111.8" cy="308.5" r="2.2"/>
<circle cx="133.4" cy="327.8" r="2.2"/>
<circle cx="130.5" cy="326.4" r="2.2"/>
<circle cx="147.5" cy="295.6" r="2.2"/>
<circle cx="130.9" cy="328.5" r="2.2"/>
<circle cx="133.3" cy="326.9" r="2.2"/>
<circle cx="135.1" cy="322.3" r="2.2"/>
<circle cx="140.3" cy="293.2" r="2.2"/>
<circle cx="130.0" cy="326.4" r="2.2"/>
<circle cx="132.6" cy="329.9" r="2.2"/>
<circle cx="142.9" cy="292.2" r="2.2"/>
<circle cx="133.5" cy="325.3" r="2.2"/>
<circle cx="131.4" cy="329.8" r="2.2"/>
<circle cx="108.7" cy="315.3" r="2.2"/>
<circle cx="130.2" cy="325.1" r="2.2"/>
<circle cx="160.9" cy="280.1" r="2.2"/>
<circle cx="130.1" cy="326.0" r="2.2"/>
<circle cx="134.4" cy="326.4" r="2.2"/>
<circle cx="123.3" cy="297.5" r="2.2"/>
<circle cx="120.5" cy="282.1" r="2.2"/>
<circle cx="129.1" cy="318.2" r="2.2"/>
<circle cx="148.0" cy="272.2" r="2.2"/>
<circle cx="122.1" cy="279.3" r="2.2"/>
<circle cx="126.3" cy="321.2" r="2.2"/>
<circle cx="139.6" cy="317.8" r="2.2"/>
<circle cx="133.8" cy="328.4" r="2.2"/>
<circle cx="135.2" cy="317.6" r="2.2"/>
<circle cx="129.5" cy="323.2" r="2.2"/>
<circle cx="139.3" cy="296.5" r="2.2"/>
<circle cx="129.6" cy="320.3" r="2.2"/>
<circle cx="133.1" cy="327.1" r="2.2"/>
<circle cx="124.5" cy="298.2" r="2.2"/>
<circle cx="138.2" cy="305.4" r="2.2"/>
<circle cx="131.7" cy="330.9" r="2.2"/>
<circle cx="129.7" cy="322.1" r="2.2"/>
<circle cx="131.6" cy="329.7" r="2.2"/>
<circle cx="129.9" cy="327.7" r="2.2"/>
<circle cx="126.2" cy="305.3" r="2.2"/>
<circle cx="135.7" cy="316.5" r="2.2"/>
<circle cx="134.9" cy="320.5" r="2.2"/>
<circle cx="111.1" cy="318.1" r="2.2"/>
<circle cx="121.6" cy="294.9" r="2.2"/>
<circle cx="141.2" cy="305.8" r="2.2"/>
<circle cx="136.2" cy="321.7" r="2.2"/>
<circle cx="133.1" cy="325.8" r="2.2"/>
<circle cx="152.4" cy="281.6" r="2.2"/>
<circle cx="131.9" cy="330.9" r="2.2"/>
<circle cx="132.3" cy="330.9" r="2.2"/>
<circle cx="129.3" cy="319.6" r="2.2"/>
<circle cx="124.8" cy="318.3" r="2.2"/>
<circle cx="133.0" cy="330.1" r="2.2"/>
<circle cx="133.9" cy="323.6" r="2.2"/>
<circle cx="147.3" cy="284.1" r="2.2"/>
<circle cx="102.7" cy="298.8" r="2.2"/>
<circle cx="101.2" cy="298.3" r="2.2"/>
<circle cx="146.9" cy="304.4" r="2.2"/>
<circle cx="155.3" cy="315.9" r="2.2"/>
<circle cx="134.5" cy="321.3" r="2.2"/>
<circle cx="134.5" cy="319.1" r="2.2"/>
<circle cx="131.2" cy="327.9" r="2.2"/>
<circle cx="132.3" cy="329.5" r="2.2"/>
<circle cx="151.4" cy="281.0" r="2.2"/>
<circle cx="133.6" cy="325.3" r="2.2"/>
<circle cx="138.8" cy="301.6" r="2.2"/>
<circle cx="107.2" cy="309.8" r="2.2"/>
<circle cx="129.8" cy="323.0" r="2.2"/>
<circle cx="129.5" cy="326.0" r="2.2"/>
<circle cx="132.7" cy="328.7" r="2.2"/>
<circle cx="102.5" cy="295.5" r="2.2"/>
<circle cx="143.6" cy="296.9" r="2.2"/>
<circle cx="124.0" cy="320.3" r="2.2"/>
<circle cx="134.6" cy="327.2" r="2.2"/>
<circle cx="141.9" cy="286.9" r="2.2"/>
<circle cx="142.8" cy="309.2" r="2.2"/>
<circle cx="139.5" cy="316.7" r="2.2"/>
<circle cx="130.2" cy="323.7" r="2.2"/>
<circle cx="133.6" cy="325.5" r="2.2"/>
<circle cx="144.5" cy="319.6" r="2.2"/>
<circle cx="130.2" cy="324.0" r="2.2"/>
<circle cx="130.7" cy="328.4" r="2.2"/>
<circle cx="148.0" cy="289.0" r="2.2"/>
<circle cx="130.5" cy="325.5" r="2.2"/>
<circle cx="131.0" cy="327.8" r="2.2"/>
<circle cx="139.6" cy="311.9" r="2.2"/>
<circle cx="151.8" cy="315.9" r="2.2"/>
<circle cx="133.4" cy="329.4" r="2.2"/>
<circle cx="131.7" cy="330.5" r="2.2"/>
<circle cx="139.5" cy="312.0" r="2.2"/>
<circle cx="134.9" cy="318.9" r="2.2"/>
<circle cx="140.2" cy="297.5" r="2.2"/>
<circle cx="130.9" cy="330.0" r="2.2"/>
<circle cx="149.6" cy="283.9" r="2.2"/>
<circle cx="122.7" cy="301.6" r="2.2"/>
<circle cx="132.8" cy="329.1" r="2.2"/>
<circle cx="129.2" cy="318.4" r="2.2"/>
<circle cx="126.2" cy="311.1" r="2.2"/>
<circle cx="135.1" cy="325.7" r="2.2"/>
<circle cx="134.4" cy="322.1" r="2.2"/>
<circle cx="106.1" cy="246.9" r="2.2"/>
<circle cx="136.2" cy="312.3" r="2.2"/>
<circle cx="106.2" cy="297.5" r="2.2"/>
<circle cx="141.3" cy="305.2" r="2.2"/>
<circle cx="132.3" cy="330.6" r="2.2"/>
<circle cx="120.1" cy="316.9" r="2.2"/>
<circle cx="133.6" cy="328.5" r="2.2"/>
<circle cx="142.6" cy="278.2" r="2.2"/>
<circle cx="115.1" cy="297.7" r="2.2"/>
<circle cx="135.8" cy="324.7" r="2.2"/>
<circle cx="132.3" cy="330.4" r="2.2"/>
<circle cx="124.3" cy="320.1" r="2.2"/>
<circle cx="134.6" cy="323.2" r="2.2"/>
<circle cx="133.3" cy="330.3" r="2.2"/>
<circle cx="134.6" cy="326.4" r="2.2"/>
<circle cx="129.4" cy="324.0" r="2.2"/>
<circle cx="136.5" cy="312.3" r="2.2"/>
<circle cx="129.6" cy="320.8" r="2.2"/>
<circle cx="128.6" cy="317.4" r="2.2"/>
<circle cx="151.7" cy="312.6" r="2.2"/>
<circle cx="129.1" cy="325.6" r="2.2"/>
<circle cx="133.1" cy="328.1" r="2.2"/>
<circle cx="111.8" cy="287.9" r="2.2"/>
<circle cx="131.1" cy="330.2" r="2.2"/>
<circle cx="127.7" cy="307.6" r="2.2"/>
<circle cx="136.4" cy="317.5" r="2.2"/>
<circle cx="132.6" cy="330.6" r="2.2"/>
<circle cx="128.4" cy="320.4" r="2.2"/>
<circle cx="127.9" cy="320.4" r="2.2"/>
<circle cx="135.8" cy="314.3" r="2.2"/>
<circle cx="124.1" cy="312.6" r="2.2"/>
<circle cx="126.2" cy="301.6" r="2.2"/>
<circle cx="132.7" cy="329.8" r="2.2"/>
<circle cx="126.7" cy="317.0" r="2.2"/>
<circle cx="131.2" cy="327.9" r="2.2"/>
<circle cx="126.1" cy="311.6" r="2.2"/>
<circle cx="128.7" cy="322.2" r="2.2"/>
<circle cx="126.3" cy="313.5" r="2.2"/>
<circle cx="123.4" cy="311.7" r="2.2"/>
<circle cx="127.8" cy="314.1" r="2.2"/>
<circle cx="128.0" cy="320.0" r="2.2"/>
<circle cx="152.1" cy="305.1" r="2.2"/>
<circle cx="124.1" cy="311.5" r="2.2"/>
<circle cx="146.4" cy="285.7" r="2.2"/>
<circle cx="131.4" cy="330.4" r="2.2"/>
<circle cx="122.3" cy="302.0" r="2.2"/>
<circle cx="121.1" cy="317.2" r="2.2"/>
<circle cx="118.3" cy="287.8" r="2.2"/>
<circle cx="140.1" cy="320.7" r="2.2"/>
<circle cx="129.9" cy="324.2" r="2.2"/>
<circle cx="125.2" cy="303.7" r="2.2"/>
<circle cx="151.7" cy="286.2" r="2.2"/>
<circle cx="131.0" cy="329.9" r="2.2"/>
<circle cx="136.7" cy="322.2" r="2.2"/>
<circle cx="131.3" cy="330.1" r="2.2"/>
<circle cx="133.5" cy="324.4" r="2.2"/>
<circle cx="118.7" cy="285.2" r="2.2"/>
<circle cx="132.8" cy="328.5" r="2.2"/>
<circle cx="128.1" cy="315.8" r="2.2"/>
<circle cx="129.3" cy="320.5" r="2.2"/>
<circle cx="138.8" cy="301.5" r="2.2"/>
<circle cx="135.3" cy="320.4" r="2.2"/>
<circle cx="139.2" cy="315.8" r="2.2"/>
<circle cx="127.6" cy="323.6" r="2.2"/>
<circle cx="124.8" cy="323.8" r="2.2"/>
<circle cx="131.1" cy="326.8" r="2.2"/>
<circle cx="145.5" cy="307.5" r="2.2"/>
<circle cx="121.6" cy="279.4" r="2.2"/>
<circle cx="131.9" cy="330.9" r="2.2"/>
<circle cx="125.8" cy="320.1" r="2.2"/>
<circle cx="135.5" cy="319.5" r="2.2"/>
<circle cx="134.2" cy="324.0" r="2.2"/>
<circle cx="124.9" cy="302.0" r="2.2"/>
<circle cx="132.5" cy="330.1" r="2.2"/>
<circle cx="131.7" cy="331.0" r="2.2"/>
<circle cx="134.0" cy="326.1" r="2.2"/>
<circle cx="131.5" cy="330.3" r="2.2"/>
<circle cx="134.2" cy="328.3" r="2.2"/>
<circle cx="130.3" cy="324.9" r="2.2"/>
<circle cx="127.0" cy="310.7" r="2.2"/>
<circle cx="130.6" cy="327.3" r="2.2"/>
<circle cx="122.2" cy="306.5" r="2.2"/>
<circle cx="124.3" cy="313.1" r="2.2"/>
<circle cx="134.4" cy="321.5" r="2.2"/>
<circle cx="133.5" cy="327.0" r="2.2"/>
<circle cx="134.5" cy="326.9" r="2.2"/>
<circle cx="122.6" cy="289.5" r="2.2"/>
<circle cx="134.5" cy="324.3" r="2.2"/>
<circle cx="142.1" cy="306.3" r="2.2"/>
<circle cx="120.0" cy="290.3" r="2.2"/>
<circle cx="134.7" cy="323.8" r="2.2"/>
<circle cx="123.9" cy="307.6" r="2.2"/>
<circle cx="131.6" cy="330.3" r="2.2"/>
<circle cx="131.4" cy="329.4" r="2.2"/>
<circle cx="125.5" cy="304.9" r="2.2"/>
<circle cx="135.5" cy="319.1" r="2.2"/>
<circle cx="126.9" cy="313.2" r="2.2"/>
<circle cx="134.9" cy="320.9" r="2.2"/>
<circle cx="134.6" cy="318.7" r="2.2"/>
<circle cx="139.9" cy="309.8" r="2.2"/>
<circle cx="127.7" cy="321.7" r="2.2"/>
<circle cx="139.3" cy="307.3" r="2.2"/>
<circle cx="132.4" cy="330.1" r="2.2"/>
<circle cx="136.2" cy="322.7" r="2.2"/>
<circle cx="124.4" cy="297.4" r="2.2"/>
<circle cx="161.7" cy="233.0" r="2.2"/>
<circle cx="127.7" cy="315.7" r="2.2"/>
<circle cx="137.8" cy="319.3" r="2.2"/>
<circle cx="128.9" cy="319.1" r="2.2"/>
<circle cx="136.2" cy="318.4" r="2.2"/>
<circle cx="138.8" cy="299.8" r="2.2"/>
<circle cx="128.5" cy="315.2" r="2.2"/>
<circle cx="135.8" cy="312.6" r="2.2"/>
<circle cx="120.0" cy="290.3" r="2.2"/>
<circle cx="136.5" cy="327.9" r="2.2"/>
<circle cx="124.8" cy="299.5" r="2.2"/>
<circle cx="140.7" cy="301.1" r="2.2"/>
<circle cx="123.6" cy="320.1" r="2.2"/>
<circle cx="138.0" cy="312.2" r="2.2"/>
<circle cx="133.3" cy="328.7" r="2.2"/>
<circle cx="134.5" cy="325.9" r="2.2"/>
<circle cx="133.7" cy="323.2" r="2.2"/>
<circle cx="123.7" cy="310.2" r="2.2"/>
<circle cx="134.4" cy="320.8" r="2.2"/>
<circle cx="132.4" cy="330.2" r="2.2"/>
<circle cx="128.4" cy="321.7" r="2.2"/>
<circle cx="121.9" cy="296.0" r="2.2"/>
<circle cx="140.8" cy="308.5" r="2.2"/>
<circle cx="124.0" cy="295.7" r="2.2"/>
<circle cx="134.5" cy="322.4" r="2.2"/>
<circle cx="145.5" cy="307.2" r="2.2"/>
<circle cx="120.6" cy="305.0" r="2.2"/>
<circle cx="135.5" cy="319.3" r="2.2"/>
<circle cx="138.5" cy="318.2" r="2.2"/>
<circle cx="134.2" cy="323.1" r="2.2"/>
<circle cx="153.9" cy="306.4" r="2.2"/>
<circle cx="131.3" cy="330.5" r="2.2"/>
<circle cx="126.4" cy="311.7" r="2.2"/>
<circle cx="139.1" cy="323.8" r="2.2"/>
<circle cx="136.6" cy="313.5" r="2.2"/>
<circle cx="130.5" cy="328.0" r="2.2"/>
<circle cx="133.3" cy="329.7" r="2.2"/>
<circle cx="130.5" cy="327.7" r="2.2"/>
<circle cx="140.5" cy="310.8" r="2.2"/>
<circle cx="113.9" cy="266.0" r="2.2"/>
<circle cx="132.8" cy="328.5" r="2.2"/>
<circle cx="139.1" cy="317.4" r="2.2"/>
<circle cx="124.3" cy="296.0" r="2.2"/>
<circle cx="143.1" cy="282.1" r="2.2"/>
<circle cx="126.9" cy="308.8" r="2.2"/>
<circle cx="136.2" cy="316.3" r="2.2"/>
<circle cx="133.1" cy="327.3" r="2.2"/>
<circle cx="129.0" cy="321.1" r="2.2"/>
<circle cx="127.2" cy="326.9" r="2.2"/>
<circle cx="158.8" cy="255.7" r="2.2"/>
<circle cx="148.5" cy="268.2" r="2.2"/>
<circle cx="131.0" cy="328.5" r="2.2"/>
<circle cx="137.4" cy="314.7" r="2.2"/>
<circle cx="135.7" cy="318.2" r="2.2"/>
<circle cx="120.8" cy="308.8" r="2.2"/>
<circle cx="133.4" cy="329.2" r="2.2"/>
<circle cx="134.9" cy="321.4" r="2.2"/>
<circle cx="127.7" cy="319.7" r="2.2"/>
<circle cx="130.1" cy="324.2" r="2.2"/>
<circle cx="131.8" cy="330.7" r="2.2"/>
<circle cx="129.9" cy="326.3" r="2.2"/>
<circle cx="158.5" cy="300.4" r="2.2"/>
<circle cx="134.8" cy="318.3" r="2.2"/>
<circle cx="137.2" cy="318.6" r="2.2"/>
<circle cx="150.6" cy="306.2" r="2.2"/>
<circle cx="134.7" cy="325.6" r="2.2"/>
<circle cx="135.3" cy="325.7" r="2.2"/>
<circle cx="125.1" cy="326.3" r="2.2"/>
<circle cx="127.4" cy="323.8" r="2.2"/>
<circle cx="121.8" cy="291.3" r="2.2"/>
<circle cx="130.4" cy="326.5" r="2.2"/>
<circle cx="135.0" cy="323.1" r="2.2"/>
<circle cx="134.2" cy="325.3" r="2.2"/>
<circle cx="134.6" cy="328.5" r="2.2"/>
<circle cx="134.2" cy="323.6" r="2.2"/>
<circle cx="138.5" cy="308.2" r="2.2"/>
<circle cx="126.5" cy="314.7" r="2.2"/>
<circle cx="136.1" cy="319.4" r="2.2"/>
<circle cx="143.7" cy="311.3" r="2.2"/>
<circle cx="130.5" cy="330.3" r="2.2"/>
<circle cx="132.4" cy="330.0" r="2.2"/>
<circle cx="117.2" cy="275.4" r="2.2"/>
<circle cx="126.5" cy="321.2" r="2.2"/>
<circle cx="145.5" cy="293.2" r="2.2"/>
<circle cx="114.2" cy="281.1" r="2.2"/>
<circle cx="131.4" cy="328.4" r="2.2"/>
<circle cx="134.0" cy="323.9" r="2.2"/>
<circle cx="130.5" cy="329.3" r="2.2"/>
<circle cx="132.9" cy="329.0" r="2.2"/>
<circle cx="137.4" cy="309.0" r="2.2"/>
<circle cx="141.6" cy="303.7" r="2.2"/>
<circle cx="129.7" cy="325.6" r="2.2"/>
<circle cx="145.0" cy="283.0" r="2.2"/>
<circle cx="117.0" cy="274.1" r="2.2"/>
<circle cx="123.7" cy="301.4" r="2.2"/>
<circle cx="121.8" cy="300.9" r="2.2"/>
<circle cx="132.3" cy="330.3" r="2.2"/>
<circle cx="127.2" cy="317.1" r="2.2"/>
<circle cx="133.7" cy="326.4" r="2.2"/>
<circle cx="124.6" cy="307.7" r="2.2"/>
<circle cx="130.5" cy="327.5" r="2.2"/>
<circle cx="159.7" cy="307.2" r="2.2"/>
<circle cx="147.7" cy="255.2" r="2.2"/>
<circle cx="130.8" cy="328.2" r="2.2"/>
<circle cx="122.0" cy="317.0" r="2.2"/>
<circle cx="116.5" cy="290.3" r="2.2"/>
<circle cx="128.2" cy="327.3" r="2.2"/>
<circle cx="129.8" cy="328.9" r="2.2"/>
<circle cx="140.3" cy="299.9" r="2.2"/>
<circle cx="132.6" cy="329.6" r="2.2"/>
<circle cx="135.1" cy="318.8" r="2.2"/>
<circle cx="126.2" cy="322.8" r="2.2"/>
<circle cx="129.2" cy="324.5" r="2.2"/>
<circle cx="129.2" cy="321.5" r="2.2"/>
<circle cx="130.5" cy="330.0" r="2.2"/>
<circle cx="132.8" cy="329.4" r="2.2"/>
<circle cx="130.4" cy="325.3" r="2.2"/>
<circle cx="137.2" cy="307.4" r="2.2"/>
<circle cx="148.3" cy="273.4" r="2.2"/>
<circle cx="133.9" cy="325.8" r="2.2"/>
<circle cx="121.8" cy="303.7" r="2.2"/>
<circle cx="146.7" cy="297.1" r="2.2"/>
<circle cx="138.5" cy="299.8" r="2.2"/>
<circle cx="123.8" cy="308.3" r="2.2"/>
<circle cx="148.4" cy="282.7" r="2.2"/>
<circle cx="131.3" cy="329.8" r="2.2"/>
<circle cx="131.4" cy="328.7" r="2.2"/>
<circle cx="141.2" cy="318.3" r="2.2"/>
<circle cx="126.2" cy="322.6" r="2.2"/>
<circle cx="126.5" cy="307.4" r="2.2"/>
<circle cx="124.1" cy="309.3" r="2.2"/>
<circle cx="136.8" cy="320.8" r="2.2"/>
<circle cx="133.5" cy="327.9" r="2.2"/>
<circle cx="139.4" cy="297.3" r="2.2"/>
<circle cx="130.1" cy="326.4" r="2.2"/>
<circle cx="130.5" cy="325.4" r="2.2"/>
<circle cx="132.6" cy="330.3" r="2.2"/>
<circle cx="137.4" cy="326.1" r="2.2"/>
<circle cx="129.9" cy="321.2" r="2.2"/>
<circle cx="125.6" cy="296.9" r="2.2"/>
<circle cx="136.9" cy="311.9" r="2.2"/>
<circle cx="134.4" cy="322.4" r="2.2"/>
<circle cx="130.9" cy="328.6" r="2.2"/>
<circle cx="135.3" cy="319.6" r="2.2"/>
<circle cx="141.5" cy="302.9" r="2.2"/>
<circle cx="140.5" cy="320.0" r="2.2"/>
<circle cx="135.2" cy="319.6" r="2.2"/>
<circle cx="160.1" cy="286.1" r="2.2"/>
<circle cx="139.4" cy="311.3" r="2.2"/>
<circle cx="135.6" cy="319.8" r="2.2"/>
<circle cx="130.7" cy="329.1" r="2.2"/>
<circle cx="150.8" cy="271.7" r="2.2"/>
<circle cx="138.5" cy="302.6" r="2.2"/>
<circle cx="138.0" cy="311.0" r="2.2"/>
<circle cx="127.7" cy="322.3" r="2.2"/>
<circle cx="123.2" cy="293.9" r="2.2"/>
<circle cx="125.2" cy="313.8" r="2.2"/>
<circle cx="136.8" cy="327.4" r="2.2"/>
<circle cx="133.0" cy="328.6" r="2.2"/>
<circle cx="133.6" cy="327.7" r="2.2"/>
<circle cx="135.9" cy="314.5" r="2.2"/>
<circle cx="121.3" cy="315.8" r="2.2"/>
<circle cx="134.9" cy="320.5" r="2.2"/>
<circle cx="127.9" cy="316.7" r="2.2"/>
<circle cx="125.0" cy="298.0" r="2.2"/>
<circle cx="145.9" cy="295.9" r="2.2"/>
<circle cx="140.5" cy="315.3" r="2.2"/>
<circle cx="124.2" cy="319.7" r="2.2"/>
<circle cx="121.5" cy="288.5" r="2.2"/>
<circle cx="135.6" cy="312.0" r="2.2"/>
<circle cx="137.1" cy="312.2" r="2.2"/>
<circle cx="133.3" cy="328.0" r="2.2"/>
<circle cx="130.4" cy="325.6" r="2.2"/>
<circle cx="127.6" cy="310.5" r="2.2"/>
<circle cx="128.7" cy="317.6" r="2.2"/>
<circle cx="126.4" cy="307.9" r="2.2"/>
<circle cx="125.8" cy="324.0" r="2.2"/>
<circle cx="129.8" cy="328.1" r="2.2"/>
<circle cx="132.8" cy="329.8" r="2.2"/>
<circle cx="138.8" cy="299.8" r="2.2"/>
<circle cx="138.1" cy="302.1" r="2.2"/>
<circle cx="134.4" cy="320.0" r="2.2"/>
<circle cx="131.1" cy="329.3" r="2.2"/>
<circle cx="137.5" cy="320.7" r="2.2"/>
<circle cx="138.1" cy="317.1" r="2.2"/>
<circle cx="138.6" cy="321.8" r="2.2"/>
<circle cx="145.8" cy="266.3" r="2.2"/>
<circle cx="128.1" cy="320.0" r="2.2"/>
<circle cx="129.2" cy="320.3" r="2.2"/>
<circle cx="124.3" cy="318.3" r="2.2"/>
<circle cx="134.0" cy="324.9" r="2.2"/>
<circle cx="133.0" cy="329.9" r="2.2"/>
<circle cx="118.0" cy="301.3" r="2.2"/>
<circle cx="129.5" cy="320.5" r="2.2"/>
<circle cx="121.9" cy="317.9" r="2.2"/>
<circle cx="138.0" cy="321.0" r="2.2"/>
<circle cx="128.8" cy="324.6" r="2.2"/>
<circle cx="129.3" cy="322.0" r="2.2"/>
<circle cx="130.5" cy="330.1" r="2.2"/>
<circle cx="140.9" cy="299.7" r="2.2"/>
<circle cx="138.5" cy="315.6" r="2.2"/>
<circle cx="129.7" cy="321.0" r="2.2"/>
<circle cx="124.1" cy="293.3" r="2.2"/>
<circle cx="129.2" cy="318.7" r="2.2"/>
<circle cx="127.0" cy="317.6" r="2.2"/>
<circle cx="135.6" cy="317.0" r="2.2"/>
<circle cx="130.1" cy="329.9" r="2.2"/>
<circle cx="128.9" cy="324.9" r="2.2"/>
<circle cx="134.5" cy="328.4" r="2.2"/>
<circle cx="139.0" cy="304.5" r="2.2"/>
<circle cx="131.4" cy="330.8" r="2.2"/>
<circle cx="131.2" cy="326.8" r="2.2"/>
<circle cx="131.3" cy="329.1" r="2.2"/>
<circle cx="129.0" cy="321.4" r="2.2"/>
<circle cx="134.6" cy="327.6" r="2.2"/>
<circle cx="133.2" cy="328.7" r="2.2"/>
<circle cx="132.3" cy="330.0" r="2.2"/>
<circle cx="119.3" cy="276.0" r="2.2"/>
<circle cx="129.6" cy="321.7" r="2.2"/>
<circle cx="133.9" cy="324.6" r="2.2"/>
<circle cx="146.7" cy="311.5" r="2.2"/>
<circle cx="143.4" cy="285.7" r="2.2"/>
<circle cx="133.7" cy="326.3" r="2.2"/>
<circle cx="120.1" cy="296.7" r="2.2"/>
<circle cx="142.6" cy="283.8" r="2.2"/>
<circle cx="141.4" cy="285.0" r="2.2"/>
<circle cx="130.8" cy="327.7" r="2.2"/>
<circle cx="128.9" cy="320.4" r="2.2"/>
<circle cx="131.4" cy="330.1" r="2.2"/>
<circle cx="125.5" cy="317.3" r="2.2"/>
<circle cx="129.9" cy="327.1" r="2.2"/>
<circle cx="138.8" cy="304.6" r="2.2"/>
<circle cx="134.9" cy="316.5" r="2.2"/>
<circle cx="137.0" cy="313.6" r="2.2"/>
<circle cx="132.8" cy="330.3" r="2.2"/>
<circle cx="149.0" cy="284.1" r="2.2"/>
<circle cx="134.0" cy="327.5" r="2.2"/>
<circle cx="139.2" cy="305.4" r="2.2"/>
<circle cx="151.6" cy="292.9" r="2.2"/>
<circle cx="127.5" cy="310.9" r="2.2"/>
<circle cx="128.5" cy="322.2" r="2.2"/>
<circle cx="118.4" cy="311.6" r="2.2"/>
<circle cx="145.6" cy="316.8" r="2.2"/>
<circle cx="135.1" cy="325.9" r="2.2"/>
<circle cx="122.1" cy="281.4" r="2.2"/>
<circle cx="127.4" cy="318.5" r="2.2"/>
<circle cx="135.0" cy="318.1" r="2.2"/>
<circle cx="130.7" cy="326.0" r="2.2"/>
<circle cx="134.1" cy="321.9" r="2.2"/>
<circle cx="130.9" cy="329.7" r="2.2"/>
<circle cx="127.8" cy="317.3" r="2.2"/>
<circle cx="101.1" cy="313.5" r="2.2"/>
<circle cx="135.7" cy="318.1" r="2.2"/>
<circle cx="134.9" cy="323.6" r="2.2"/>
<circle cx="121.6" cy="288.4" r="2.2"/>
<circle cx="135.2" cy="322.6" r="2.2"/>
<circle cx="135.1" cy="325.0" r="2.2"/>
<circle cx="126.8" cy="308.2" r="2.2"/>
<circle cx="136.6" cy="319.0" r="2.2"/>
<circle cx="130.6" cy="329.0" r="2.2"/>
<circle cx="106.6" cy="290.7" r="2.2"/>
<circle cx="133.0" cy="327.5" r="2.2"/>
<circle cx="118.6" cy="314.7" r="2.2"/>
<circle cx="124.5" cy="313.3" r="2.2"/>
<circle cx="132.6" cy="328.8" r="2.2"/>
<circle cx="129.9" cy="321.1" r="2.2"/>
<circle cx="135.1" cy="321.5" r="2.2"/>
<circle cx="120.3" cy="281.4" r="2.2"/>
<circle cx="113.5" cy="269.2" r="2.2"/>
<circle cx="125.4" cy="307.2" r="2.2"/>
<circle cx="121.1" cy="285.9" r="2.2"/>
<circle cx="113.3" cy="315.3" r="2.2"/>
<circle cx="128.4" cy="319.0" r="2.2"/>
<circle cx="107.9" cy="288.0" r="2.2"/>
<circle cx="162.7" cy="289.5" r="2.2"/>
<circle cx="132.9" cy="329.9" r="2.2"/>
<circle cx="144.1" cy="312.3" r="2.2"/>
<circle cx="130.6" cy="325.0" r="2.2"/>
<circle cx="157.1" cy="299.2" r="2.2"/>
<circle cx="129.3" cy="328.3" r="2.2"/>
<circle cx="150.3" cy="294.8" r="2.2"/>
<circle cx="132.9" cy="330.1" r="2.2"/>
<circle cx="133.7" cy="325.1" r="2.2"/>
<circle cx="128.6" cy="326.0" r="2.2"/>
<circle cx="137.8" cy="321.1" r="2.2"/>
<circle cx="152.3" cy="309.0" r="2.2"/>
<circle cx="138.1" cy="306.3" r="2.2"/>
<circle cx="141.7" cy="303.6" r="2.2"/>
<circle cx="134.7" cy="322.8" r="2.2"/>
<circle cx="124.9" cy="317.2" r="2.2"/>
<circle cx="137.8" cy="320.5" r="2.2"/>
<circle cx="128.4" cy="315.2" r="2.2"/>
<circle cx="133.1" cy="329.3" r="2.2"/>
<circle cx="141.0" cy="300.0" r="2.2"/>
<circle cx="127.3" cy="315.2" r="2.2"/>
<circle cx="136.9" cy="327.8" r="2.2"/>
<circle cx="126.1" cy="313.9" r="2.2"/>
<circle cx="128.6" cy="316.9" r="2.2"/>
<circle cx="127.9" cy="315.4" r="2.2"/>
<circle cx="132.9" cy="328.3" r="2.2"/>
<circle cx="129.6" cy="326.6" r="2.2"/>
<circle cx="145.1" cy="321.4" r="2.2"/>
<circle cx="128.2" cy="322.3" r="2.2"/>
<circle cx="129.6" cy="323.1" r="2.2"/>
<circle cx="125.7" cy="308.2" r="2.2"/>
<circle cx="134.9" cy="318.9" r="2.2"/>
<circle cx="147.6" cy="315.2" r="2.2"/>
<circle cx="128.5" cy="315.7" r="2.2"/>
<circle cx="112.7" cy="304.7" r="2.2"/>
<circle cx="133.0" cy="327.9" r="2.2"/>
<circle cx="134.9" cy="322.7" r="2.2"/>
<circle cx="104.0" cy="285.0" r="2.2"/>
<circle cx="132.2" cy="330.6" r="2.2"/>
<circle cx="146.8" cy="305.7" r="2.2"/>
<circle cx="132.9" cy="328.5" r="2.2"/>
<circle cx="131.5" cy="330.5" r="2.2"/>
<circle cx="129.6" cy="321.0" r="2.2"/>
<circle cx="128.0" cy="318.0" r="2.2"/>
<circle cx="131.9" cy="330.8" r="2.2"/>
<circle cx="123.9" cy="313.8" r="2.2"/>
<circle cx="134.2" cy="324.7" r="2.2"/>
<circle cx="140.0" cy="311.7" r="2.2"/>
<circle cx="130.7" cy="327.7" r="2.2"/>
<circle cx="129.6" cy="322.2" r="2.2"/>
<circle cx="118.6" cy="267.9" r="2.2"/>
<circle cx="125.9" cy="309.2" r="2.2"/>
<circle cx="138.1" cy="305.7" r="2.2"/>
<circle cx="134.7" cy="321.6" r="2.2"/>
<circle cx="125.0" cy="299.6" r="2.2"/>
<circle cx="150.7" cy="289.6" r="2.2"/>
<circle cx="138.4" cy="314.8" r="2.2"/>
<circle cx="126.0" cy="307.5" r="2.2"/>
<circle cx="134.5" cy="319.3" r="2.2"/>
<circle cx="107.2" cy="241.0" r="2.2"/>
<circle cx="134.1" cy="321.2" r="2.2"/>
<circle cx="130.6" cy="327.4" r="2.2"/>
<circle cx="127.9" cy="313.0" r="2.2"/>
<circle cx="102.2" cy="299.6" r="2.2"/>
<circle cx="129.6" cy="320.6" r="2.2"/>
<circle cx="121.9" cy="315.8" r="2.2"/>
<circle cx="131.2" cy="330.6" r="2.2"/>
<circle cx="135.0" cy="323.0" r="2.2"/>
<circle cx="123.7" cy="319.5" r="2.2"/>
<circle cx="129.8" cy="321.2" r="2.2"/>
<circle cx="126.1" cy="313.3" r="2.2"/>
<circle cx="128.8" cy="322.1" r="2.2"/>
<circle cx="127.0" cy="311.6" r="2.2"/>
<circle cx="128.2" cy="319.7" r="2.2"/>
<circle cx="129.2" cy="329.0" r="2.2"/>
<circle cx="134.8" cy="323.3" r="2.2"/>
<circle cx="127.5" cy="313.3" r="2.2"/>
<circle cx="121.0" cy="306.0" r="2.2"/>
<circle cx="132.9" cy="330.0" r="2.2"/>
<circle cx="107.6" cy="296.5" r="2.2"/>
<circle cx="144.7" cy="270.6" r="2.2"/>
<circle cx="142.1" cy="293.1" r="2.2"/>
<circle cx="130.1" cy="328.3" r="2.2"/>
<circle cx="129.7" cy="327.7" r="2.2"/>
<circle cx="122.2" cy="304.5" r="2.2"/>
<circle cx="144.5" cy="321.2" r="2.2"/>
<circle cx="133.4" cy="325.1" r="2.2"/>
<circle cx="139.4" cy="296.1" r="2.2"/>
<circle cx="141.5" cy="296.8" r="2.2"/>
<circle cx="130.0" cy="325.3" r="2.2"/>
<circle cx="139.2" cy="311.3" r="2.2"/>
<circle cx="131.2" cy="329.9" r="2.2"/>
<circle cx="140.8" cy="308.0" r="2.2"/>
<circle cx="134.2" cy="321.5" r="2.2"/>
<circle cx="136.4" cy="324.1" r="2.2"/>
<circle cx="137.8" cy="302.4" r="2.2"/>
<circle cx="149.5" cy="311.5" r="2.2"/>
<circle cx="128.1" cy="311.1" r="2.2"/>
<circle cx="139.2" cy="321.6" r="2.2"/>
<circle cx="136.7" cy="309.9" r="2.2"/>
<circle cx="122.6" cy="310.0" r="2.2"/>
<circle cx="117.8" cy="311.9" r="2.2"/>
<circle cx="114.4" cy="318.8" r="2.2"/>
<circle cx="131.0" cy="328.9" r="2.2"/>
<circle cx="148.5" cy="306.3" r="2.2"/>
<circle cx="147.3" cy="275.6" r="2.2"/>
<circle cx="131.4" cy="328.7" r="2.2"/>
<circle cx="130.1" cy="325.1" r="2.2"/>
<circle cx="128.2" cy="321.7" r="2.2"/>
<circle cx="116.1" cy="296.1" r="2.2"/>
<circle cx="132.6" cy="330.1" r="2.2"/>
<circle cx="139.4" cy="304.0" r="2.2"/>
<circle cx="139.8" cy="301.4" r="2.2"/>
<circle cx="128.3" cy="314.1" r="2.2"/>
<circle cx="142.7" cy="291.9" r="2.2"/>
<circle cx="115.3" cy="319.0" r="2.2"/>
<circle cx="131.3" cy="329.7" r="2.2"/>
<circle cx="131.9" cy="331.0" r="2.2"/>
<circle cx="129.6" cy="326.0" r="2.2"/>
<circle cx="138.3" cy="301.9" r="2.2"/>
<circle cx="133.0" cy="330.0" r="2.2"/>
<circle cx="125.1" cy="298.3" r="2.2"/>
<circle cx="159.2" cy="309.2" r="2.2"/>
<circle cx="136.0" cy="320.6" r="2.2"/>
<circle cx="127.6" cy="316.9" r="2.2"/>
<circle cx="135.3" cy="317.0" r="2.2"/>
<circle cx="119.6" cy="267.8" r="2.2"/>
<circle cx="134.3" cy="325.2" r="2.2"/>
<circle cx="150.1" cy="316.5" r="2.2"/>
<circle cx="127.1" cy="310.7" r="2.2"/>
<circle cx="137.9" cy="302.6" r="2.2"/>
<circle cx="120.0" cy="284.5" r="2.2"/>
<circle cx="136.6" cy="326.9" r="2.2"/>
<circle cx="128.4" cy="327.2" r="2.2"/>
<circle cx="128.8" cy="315.5" r="2.2"/>
<circle cx="131.8" cy="330.6" r="2.2"/>
<circle cx="135.8" cy="320.5" r="2.2"/>
<circle cx="132.6" cy="330.9" r="2.2"/>
<circle cx="112.9" cy="303.3" r="2.2"/>
<circle cx="140.6" cy="319.7" r="2.2"/>
<circle cx="134.0" cy="329.5" r="2.2"/>
<circle cx="128.7" cy="319.2" r="2.2"/>
<circle cx="131.8" cy="330.8" r="2.2"/>
<circle cx="131.2" cy="329.7" r="2.2"/>
<circle cx="133.6" cy="322.5" r="2.2"/>
<circle cx="134.4" cy="322.9" r="2.2"/>
<circle cx="137.0" cy="324.8" r="2.2"/>
<circle cx="120.0" cy="303.9" r="2.2"/>
<circle cx="128.7" cy="313.8" r="2.2"/>
<circle cx="126.3" cy="317.1" r="2.2"/>
<circle cx="132.6" cy="330.0" r="2.2"/>
<circle cx="140.1" cy="311.8" r="2.2"/>
<circle cx="119.6" cy="286.9" r="2.2"/>
<circle cx="130.9" cy="329.0" r="2.2"/>
<circle cx="128.1" cy="320.3" r="2.2"/>
<circle cx="134.5" cy="318.9" r="2.2"/>
<circle cx="115.9" cy="308.3" r="2.2"/>
<circle cx="122.3" cy="298.2" r="2.2"/>
<circle cx="136.0" cy="325.5" r="2.2"/>
<circle cx="120.5" cy="314.1" r="2.2"/>
<circle cx="118.4" cy="307.9" r="2.2"/>
<circle cx="137.2" cy="318.1" r="2.2"/>
<circle cx="130.1" cy="326.4" r="2.2"/>
<circle cx="111.2" cy="277.2" r="2.2"/>
<circle cx="138.5" cy="312.8" r="2.2"/>
<circle cx="128.1" cy="320.2" r="2.2"/>
<circle cx="139.5" cy="299.4" r="2.2"/>
<circle cx="134.7" cy="321.8" r="2.2"/>
<circle cx="132.8" cy="328.9" r="2.2"/>
<circle cx="131.4" cy="329.8" r="2.2"/>
<circle cx="131.6" cy="330.9" r="2.2"/>
<circle cx="140.7" cy="315.8" r="2.2"/>
<circle cx="131.1" cy="330.4" r="2.2"/>
<circle cx="128.7" cy="316.5" r="2.2"/>
<circle cx="137.5" cy="307.7" r="2.2"/>
<circle cx="125.8" cy="317.4" r="2.2"/>
<circle cx="132.3" cy="330.3" r="2.2"/>
<circle cx="129.9" cy="320.2" r="2.2"/>
<circle cx="135.9" cy="310.6" r="2.2"/>
<circle cx="123.7" cy="290.3" r="2.2"/>
<circle cx="124.5" cy="309.7" r="2.2"/>
<circle cx="102.1" cy="276.0" r="2.2"/>
<circle cx="123.5" cy="307.1" r="2.2"/>
<circle cx="133.9" cy="327.5" r="2.2"/>
<circle cx="138.8" cy="299.7" r="2.2"/>
<circle cx="129.6" cy="321.6" r="2.2"/>
<circle cx="127.3" cy="307.6" r="2.2"/>
<circle cx="130.6" cy="328.3" r="2.2"/>
<circle cx="124.3" cy="290.8" r="2.2"/>
<circle cx="146.7" cy="277.7" r="2.2"/>
<circle cx="136.9" cy="305.4" r="2.2"/>
<circle cx="158.6" cy="307.1" r="2.2"/>
<circle cx="130.1" cy="326.3" r="2.2"/>
<circle cx="129.3" cy="326.9" r="2.2"/>
<circle cx="130.5" cy="328.9" r="2.2"/>
<circle cx="133.5" cy="324.8" r="2.2"/>
<circle cx="126.7" cy="315.1" r="2.2"/>
<circle cx="138.6" cy="306.7" r="2.2"/>
<circle cx="160.5" cy="223.5" r="2.2"/>
<circle cx="133.6" cy="325.0" r="2.2"/>
<circle cx="137.7" cy="312.8" r="2.2"/>
<circle cx="108.2" cy="297.7" r="2.2"/>
<circle cx="129.9" cy="325.7" r="2.2"/>
<circle cx="121.2" cy="292.5" r="2.2"/>
<circle cx="126.8" cy="312.6" r="2.2"/>
<circle cx="133.1" cy="328.5" r="2.2"/>
<circle cx="136.6" cy="323.1" r="2.2"/>
<circle cx="137.5" cy="325.7" r="2.2"/>
<circle cx="142.6" cy="311.9" r="2.2"/>
<circle cx="130.5" cy="325.3" r="2.2"/>
<circle cx="126.2" cy="325.0" r="2.2"/>
<circle cx="135.8" cy="323.4" r="2.2"/>
<circle cx="122.2" cy="287.9" r="2.2"/>
<circle cx="118.6" cy="287.0" r="2.2"/>
<circle cx="126.6" cy="313.3" r="2.2"/>
<circle cx="135.2" cy="328.7" r="2.2"/>
<circle cx="126.8" cy="324.2" r="2.2"/>
<circle cx="123.1" cy="300.4" r="2.2"/>
<circle cx="127.3" cy="315.4" r="2.2"/>
<circle cx="135.5" cy="317.0" r="2.2"/>
<circle cx="137.9" cy="312.1" r="2.2"/>
<circle cx="133.5" cy="326.2" r="2.2"/>
<circle cx="137.7" cy="307.2" r="2.2"/>
<circle cx="133.7" cy="330.1" r="2.2"/>
<circle cx="128.6" cy="323.6" r="2.2"/>
<circle cx="131.6" cy="331.0" r="2.2"/>
<circle cx="134.1" cy="325.6" r="2.2"/>
<circle cx="133.2" cy="329.3" r="2.2"/>
<circle cx="127.6" cy="318.6" r="2.2"/>
<circle cx="127.3" cy="326.2" r="2.2"/>
<circle cx="124.4" cy="311.9" r="2.2"/>
<circle cx="134.3" cy="323.1" r="2.2"/>
<circle cx="127.1" cy="306.0" r="2.2"/>
<circle cx="127.2" cy="322.1" r="2.2"/>
<circle cx="139.6" cy="305.4" r="2.2"/>
<circle cx="125.3" cy="309.7" r="2.2"/>
<circle cx="128.2" cy="320.3" r="2.2"/>
<circle cx="130.4" cy="323.9" r="2.2"/>
<circle cx="116.3" cy="316.5" r="2.2"/>
<circle cx="121.7" cy="295.5" r="2.2"/>
<circle cx="128.5" cy="316.4" r="2.2"/>
<circle cx="124.4" cy="305.7" r="2.2"/>
<circle cx="137.8" cy="310.4" r="2.2"/>
<circle cx="126.0" cy="322.5" r="2.2"/>
<circle cx="128.9" cy="321.6" r="2.2"/>
<circle cx="135.9" cy="321.9" r="2.2"/>
<circle cx="127.8" cy="314.1" r="2.2"/>
<circle cx="126.0" cy="312.6" r="2.2"/>
<circle cx="130.0" cy="321.6" r="2.2"/>
<circle cx="134.8" cy="320.9" r="2.2"/>
<circle cx="115.3" cy="291.8" r="2.2"/>
<circle cx="128.8" cy="325.3" r="2.2"/>
<circle cx="129.5" cy="319.2" r="2.2"/>
<circle cx="134.0" cy="327.0" r="2.2"/>
<circle cx="131.4" cy="330.2" r="2.2"/>
<circle cx="114.3" cy="256.7" r="2.2"/>
<circle cx="129.0" cy="322.6" r="2.2"/>
<circle cx="137.6" cy="318.4" r="2.2"/>
<circle cx="130.0" cy="324.5" r="2.2"/>
<circle cx="135.3" cy="327.3" r="2.2"/>
<circle cx="120.8" cy="300.1" r="2.2"/>
<circle cx="139.9" cy="318.6" r="2.2"/>
<circle cx="124.2" cy="290.9" r="2.2"/>
<circle cx="130.7" cy="328.3" r="2.2"/>
<circle cx="139.0" cy="311.0" r="2.2"/>
<circle cx="138.7" cy="302.5" r="2.2"/>
<circle cx="133.6" cy="328.5" r="2.2"/>
<circle cx="127.7" cy="321.7" r="2.2"/>
<circle cx="148.1" cy="259.4" r="2.2"/>
<circle cx="132.3" cy="329.7" r="2.2"/>
<circle cx="132.4" cy="329.9" r="2.2"/>
<circle cx="162.4" cy="275.9" r="2.2"/>
<circle cx="163.7" cy="268.6" r="2.2"/>
<circle cx="135.4" cy="317.8" r="2.2"/>
<circle cx="131.6" cy="330.2" r="2.2"/>
<circle cx="122.4" cy="290.5" r="2.2"/>
<circle cx="128.3" cy="322.6" r="2.2"/>
<circle cx="133.4" cy="329.4" r="2.2"/>
<circle cx="129.2" cy="321.4" r="2.2"/>
<circle cx="121.6" cy="297.1" r="2.2"/>
<circle cx="128.6" cy="323.2" r="2.2"/>
<circle cx="133.8" cy="324.3" r="2.2"/>
<circle cx="125.2" cy="309.6" r="2.2"/>
<circle cx="133.9" cy="321.6" r="2.2"/>
<circle cx="134.1" cy="326.1" r="2.2"/>
<circle cx="138.6" cy="307.7" r="2.2"/>
<circle cx="133.0" cy="327.4" r="2.2"/>
<circle cx="143.8" cy="280.6" r="2.2"/>
<circle cx="131.0" cy="328.8" r="2.2"/>
<circle cx="126.2" cy="322.0" r="2.2"/>
<circle cx="130.7" cy="327.0" r="2.2"/>
<circle cx="135.6" cy="317.6" r="2.2"/>
<circle cx="133.0" cy="329.7" r="2.2"/>
<circle cx="130.3" cy="324.0" r="2.2"/>
<circle cx="121.2" cy="310.4" r="2.2"/>
<circle cx="151.1" cy="286.9" r="2.2"/>
<circle cx="155.9" cy="309.0" r="2.2"/>
<circle cx="126.5" cy="313.4" r="2.2"/>
<circle cx="122.1" cy="294.0" r="2.2"/>
<circle cx="144.9" cy="295.6" r="2.2"/>
<circle cx="131.3" cy="328.7" r="2.2"/>
<circle cx="118.8" cy="287.1" r="2.2"/>
<circle cx="120.1" cy="294.7" r="2.2"/>
<circle cx="140.5" cy="314.3" r="2.2"/>
<circle cx="132.2" cy="330.8" r="2.2"/>
<circle cx="141.7" cy="303.7" r="2.2"/>
<circle cx="134.1" cy="326.1" r="2.2"/>
<circle cx="128.8" cy="320.5" r="2.2"/>
<circle cx="136.6" cy="313.8" r="2.2"/>
<circle cx="133.1" cy="330.1" r="2.2"/>
<circle cx="122.7" cy="301.2" r="2.2"/>
<circle cx="129.4" cy="328.2" r="2.2"/>
<circle cx="131.3" cy="329.4" r="2.2"/>
<circle cx="132.6" cy="329.3" r="2.2"/>
<circle cx="135.3" cy="320.3" r="2.2"/>
<circle cx="132.6" cy="328.4" r="2.2"/>
<circle cx="136.7" cy="317.1" r="2.2"/>
<circle cx="134.8" cy="325.6" r="2.2"/>
<circle cx="126.5" cy="307.0" r="2.2"/>
<circle cx="130.1" cy="329.3" r="2.2"/>
<circle cx="119.5" cy="280.7" r="2.2"/>
<circle cx="133.4" cy="324.9" r="2.2"/>
<circle cx="114.8" cy="261.2" r="2.2"/>
<circle cx="132.6" cy="329.5" r="2.2"/>
<circle cx="143.7" cy="302.6" r="2.2"/>
<circle cx="132.6" cy="330.5" r="2.2"/>
<circle cx="136.7" cy="310.2" r="2.2"/>
<circle cx="129.6" cy="321.1" r="2.2"/>
<circle cx="141.1" cy="308.4" r="2.2"/>
<circle cx="143.3" cy="287.0" r="2.2"/>
<circle cx="141.8" cy="308.6" r="2.2"/>
<circle cx="131.6" cy="330.7" r="2.2"/>
<circle cx="120.7" cy="315.5" r="2.2"/>
<circle cx="136.9" cy="311.7" r="2.2"/>
<circle cx="137.6" cy="317.5" r="2.2"/>
<circle cx="131.0" cy="326.2" r="2.2"/>
<circle cx="115.3" cy="284.4" r="2.2"/>
<circle cx="150.3" cy="309.0" r="2.2"/>
<circle cx="131.2" cy="330.1" r="2.2"/>
<circle cx="151.1" cy="313.3" r="2.2"/>
<circle cx="128.4" cy="317.2" r="2.2"/>
<circle cx="132.7" cy="330.9" r="2.2"/>
<circle cx="121.2" cy="310.9" r="2.2"/>
<circle cx="125.4" cy="302.6" r="2.2"/>
<circle cx="121.5" cy="296.6" r="2.2"/>
<circle cx="129.0" cy="318.6" r="2.2"/>
<circle cx="144.5" cy="274.4" r="2.2"/>
<circle cx="134.4" cy="324.9" r="2.2"/>
<circle cx="139.7" cy="303.6" r="2.2"/>
<circle cx="133.8" cy="326.9" r="2.2"/>
<circle cx="136.6" cy="324.9" r="2.2"/>
<circle cx="118.6" cy="288.3" r="2.2"/>
<circle cx="158.5" cy="293.2" r="2.2"/>
<circle cx="121.6" cy="310.8" r="2.2"/>
<circle cx="149.1" cy="259.0" r="2.2"/>
<circle cx="125.4" cy="315.5" r="2.2"/>
<circle cx="134.7" cy="323.2" r="2.2"/>
<circle cx="137.0" cy="327.1" r="2.2"/>
<circle cx="124.2" cy="310.0" r="2.2"/>
<circle cx="131.0" cy="327.6" r="2.2"/>
<circle cx="158.4" cy="299.5" r="2.2"/>
<circle cx="139.2" cy="310.8" r="2.2"/>
<circle cx="132.9" cy="329.6" r="2.2"/>
<circle cx="142.9" cy="322.2" r="2.2"/>
<circle cx="125.0" cy="309.3" r="2.2"/>
<circle cx="126.5" cy="313.8" r="2.2"/>
<circle cx="124.1" cy="307.2" r="2.2"/>
<circle cx="132.7" cy="329.7" r="2.2"/>
<circle cx="133.3" cy="328.1" r="2.2"/>
<circle cx="137.1" cy="313.5" r="2.2"/>
<circle cx="125.8" cy="310.5" r="2.2"/>
<circle cx="133.9" cy="325.7" r="2.2"/>
<circle cx="137.1" cy="309.7" r="2.2"/>
<circle cx="133.3" cy="327.1" r="2.2"/>
<circle cx="128.9" cy="325.0" r="2.2"/>
<circle cx="131.2" cy="328.3" r="2.2"/>
<circle cx="160.4" cy="288.8" r="2.2"/>
<circle cx="158.0" cy="244.4" r="2.2"/>
<circle cx="125.0" cy="301.0" r="2.2"/>
<circle cx="142.0" cy="309.6" r="2.2"/>
<circle cx="135.9" cy="325.9" r="2.2"/>
<circle cx="129.2" cy="320.5" r="2.2"/>
<circle cx="130.3" cy="326.8" r="2.2"/>
<circle cx="133.6" cy="326.9" r="2.2"/>
<circle cx="130.9" cy="327.4" r="2.2"/>
<circle cx="127.3" cy="312.1" r="2.2"/>
<circle cx="109.8" cy="284.4" r="2.2"/>
<circle cx="119.7" cy="287.5" r="2.2"/>
<circle cx="126.0" cy="316.1" r="2.2"/>
<circle cx="129.0" cy="317.2" r="2.2"/>
<circle cx="131.6" cy="329.7" r="2.2"/>
<circle cx="131.3" cy="330.8" r="2.2"/>
<circle cx="125.6" cy="314.3" r="2.2"/>
<circle cx="135.6" cy="318.3" r="2.2"/>
<circle cx="137.7" cy="324.3" r="2.2"/>
<circle cx="139.4" cy="303.1" r="2.2"/>
<circle cx="155.9" cy="270.6" r="2.2"/>
<circle cx="151.4" cy="260.1" r="2.2"/>
<circle cx="125.9" cy="320.0" r="2.2"/>
<circle cx="133.1" cy="329.1" r="2.2"/>
<circle cx="134.2" cy="327.2" r="2.2"/>
<circle cx="131.6" cy="329.1" r="2.2"/>
<circle cx="148.0" cy="311.4" r="2.2"/>
<circle cx="131.8" cy="330.6" r="2.2"/>
<circle cx="124.4" cy="309.9" r="2.2"/>
<circle cx="133.5" cy="329.2" r="2.2"/>
<circle cx="125.0" cy="317.2" r="2.2"/>
<circle cx="130.4" cy="325.8" r="2.2"/>
<circle cx="122.5" cy="305.6" r="2.2"/>
<circle cx="141.9" cy="283.6" r="2.2"/>
<circle cx="121.2" cy="310.3" r="2.2"/>
<circle cx="119.5" cy="287.2" r="2.2"/>
<circle cx="131.1" cy="329.4" r="2.2"/>
<circle cx="111.7" cy="302.0" r="2.2"/>
<circle cx="124.0" cy="300.1" r="2.2"/>
<circle cx="138.6" cy="315.1" r="2.2"/>
<circle cx="134.4" cy="329.1" r="2.2"/>
<circle cx="129.4" cy="319.0" r="2.2"/>
<circle cx="130.3" cy="324.7" r="2.2"/>
<circle cx="128.9" cy="319.4" r="2.2"/>
<circle cx="129.6" cy="321.7" r="2.2"/>
<circle cx="133.0" cy="326.6" r="2.2"/>
<circle cx="129.9" cy="326.2" r="2.2"/>
<circle cx="136.6" cy="312.9" r="2.2"/>
<circle cx="148.4" cy="277.8" r="2.2"/>
<circle cx="140.9" cy="291.5" r="2.2"/>
<circle cx="142.2" cy="279.3" r="2.2"/>
<circle cx="130.0" cy="322.2" r="2.2"/>
<circle cx="126.0" cy="310.4" r="2.2"/>
<circle cx="128.9" cy="322.3" r="2.2"/>
<circle cx="128.5" cy="318.3" r="2.2"/>
<circle cx="147.5" cy="302.7" r="2.2"/>
<circle cx="120.5" cy="287.0" r="2.2"/>
<circle cx="132.6" cy="329.1" r="2.2"/>
<circle cx="136.2" cy="323.7" r="2.2"/>
<circle cx="128.5" cy="318.0" r="2.2"/>
<circle cx="131.0" cy="327.2" r="2.2"/>
<circle cx="134.6" cy="323.4" r="2.2"/>
<circle cx="127.1" cy="313.8" r="2.2"/>
<circle cx="130.2" cy="322.8" r="2.2"/>
<circle cx="133.4" cy="325.8" r="2.2"/>
<circle cx="129.5" cy="321.4" r="2.2"/>
<circle cx="135.4" cy="318.5" r="2.2"/>
<circle cx="133.6" cy="327.9" r="2.2"/>
<circle cx="126.3" cy="305.2" r="2.2"/>
<circle cx="140.4" cy="297.5" r="2.2"/>
<circle cx="124.9" cy="316.8" r="2.2"/>
<circle cx="120.0" cy="314.5" r="2.2"/>
<circle cx="135.3" cy="326.8" r="2.2"/>
<circle cx="127.9" cy="321.5" r="2.2"/>
<circle cx="127.7" cy="323.6" r="2.2"/>
<circle cx="126.2" cy="311.8" r="2.2"/>
<circle cx="135.6" cy="321.2" r="2.2"/>
<circle cx="122.0" cy="284.2" r="2.2"/>
<circle cx="135.6" cy="319.7" r="2.2"/>
<circle cx="147.0" cy="274.0" r="2.2"/>
<circle cx="132.4" cy="330.4" r="2.2"/>
<circle cx="137.0" cy="307.1" r="2.2"/>
<circle cx="125.9" cy="311.5" r="2.2"/>
<circle cx="135.7" cy="324.5" r="2.2"/>
<circle cx="129.0" cy="319.8" r="2.2"/>
<circle cx="134.6" cy="321.4" r="2.2"/>
<circle cx="125.5" cy="315.0" r="2.2"/>
<circle cx="139.2" cy="311.4" r="2.2"/>
<circle cx="144.9" cy="301.0" r="2.2"/>
<circle cx="128.2" cy="317.1" r="2.2"/>
<circle cx="110.6" cy="304.3" r="2.2"/>
<circle cx="130.2" cy="327.6" r="2.2"/>
<circle cx="135.0" cy="321.1" r="2.2"/>
<circle cx="125.1" cy="298.3" r="2.2"/>
<circle cx="126.1" cy="316.5" r="2.2"/>
<circle cx="133.0" cy="330.0" r="2.2"/>
<circle cx="133.7" cy="324.1" r="2.2"/>
<circle cx="119.2" cy="311.1" r="2.2"/>
<circle cx="130.8" cy="326.8" r="2.2"/>
<circle cx="144.1" cy="315.6" r="2.2"/>
<circle cx="133.6" cy="328.1" r="2.2"/>
<circle cx="135.8" cy="319.6" r="2.2"/>
<circle cx="132.9" cy="328.2" r="2.2"/>
<circle cx="122.7" cy="319.5" r="2.2"/>
<circle cx="139.4" cy="306.8" r="2.2"/>
<circle cx="140.0" cy="298.3" r="2.2"/>
<circle cx="135.8" cy="313.4" r="2.2"/>
<circle cx="135.9" cy="313.5" r="2.2"/>
<circle cx="128.3" cy="321.4" r="2.2"/>
<circle cx="123.9" cy="323.8" r="2.2"/>
<circle cx="128.6" cy="318.7" r="2.2"/>
<circle cx="132.5" cy="329.8" r="2.2"/>
<circle cx="127.7" cy="320.2" r="2.2"/>
<circle cx="135.7" cy="314.2" r="2.2"/>
<circle cx="123.2" cy="297.9" r="2.2"/>
<circle cx="122.2" cy="321.9" r="2.2"/>
<circle cx="141.5" cy="304.3" r="2.2"/>
<circle cx="131.7" cy="330.2" r="2.2"/>
<circle cx="135.4" cy="314.8" r="2.2"/>
<circle cx="154.6" cy="310.3" r="2.2"/>
<circle cx="134.9" cy="325.6" r="2.2"/>
<circle cx="126.6" cy="310.4" r="2.2"/>
<circle cx="136.5" cy="318.1" r="2.2"/>
<circle cx="126.7" cy="306.3" r="2.2"/>
<circle cx="154.5" cy="273.5" r="2.2"/>
<circle cx="134.0" cy="328.9" r="2.2"/>
<circle cx="129.4" cy="326.3" r="2.2"/>
<circle cx="129.9" cy="323.5" r="2.2"/>
<circle cx="157.6" cy="297.5" r="2.2"/>
<circle cx="135.6" cy="316.8" r="2.2"/>
<circle cx="128.7" cy="324.4" r="2.2"/>
<circle cx="134.2" cy="326.3" r="2.2"/>
<circle cx="128.5" cy="324.7" r="2.2"/>
<circle cx="117.5" cy="312.1" r="2.2"/>
<circle cx="128.5" cy="316.8" r="2.2"/>
<circle cx="133.1" cy="327.7" r="2.2"/>
<circle cx="133.1" cy="327.3" r="2.2"/>
<circle cx="139.5" cy="318.1" r="2.2"/>
<circle cx="122.4" cy="321.5" r="2.2"/>
<circle cx="135.3" cy="317.9" r="2.2"/>
<circle cx="136.7" cy="311.6" r="2.2"/>
<circle cx="129.3" cy="318.3" r="2.2"/>
<circle cx="143.3" cy="303.6" r="2.2"/>
<circle cx="136.3" cy="320.9" r="2.2"/>
<circle cx="129.9" cy="323.3" r="2.2"/>
<circle cx="140.0" cy="305.8" r="2.2"/>
<circle cx="135.7" cy="326.5" r="2.2"/>
<circle cx="139.2" cy="306.5" r="2.2"/>
<circle cx="127.4" cy="319.6" r="2.2"/>
<circle cx="137.8" cy="317.2" r="2.2"/>
<circle cx="128.1" cy="318.0" r="2.2"/>
<circle cx="139.4" cy="300.7" r="2.2"/>
<circle cx="135.4" cy="320.6" r="2.2"/>
<circle cx="130.2" cy="327.7" r="2.2"/>
<circle cx="138.7" cy="318.2" r="2.2"/>
<circle cx="132.8" cy="328.6" r="2.2"/>
<circle cx="116.3" cy="275.0" r="2.2"/>
<circle cx="136.4" cy="325.1" r="2.2"/>
<circle cx="132.5" cy="330.8" r="2.2"/>
<circle cx="112.2" cy="283.8" r="2.2"/>
<circle cx="134.5" cy="327.0" r="2.2"/>
<circle cx="133.0" cy="328.8" r="2.2"/>
<circle cx="130.6" cy="328.5" r="2.2"/>
<circle cx="144.0" cy="290.9" r="2.2"/>
<circle cx="126.6" cy="309.8" r="2.2"/>
<circle cx="135.6" cy="321.4" r="2.2"/>
<circle cx="124.1" cy="294.8" r="2.2"/>
<circle cx="140.7" cy="316.7" r="2.2"/>
<circle cx="130.5" cy="327.4" r="2.2"/>
<circle cx="139.9" cy="311.9" r="2.2"/>
<circle cx="142.0" cy="318.7" r="2.2"/>
<circle cx="142.9" cy="285.7" r="2.2"/>
<circle cx="132.3" cy="330.5" r="2.2"/>
<circle cx="128.5" cy="318.9" r="2.2"/>
<circle cx="126.5" cy="308.3" r="2.2"/>
<circle cx="134.2" cy="323.6" r="2.2"/>
<circle cx="139.0" cy="323.9" r="2.2"/>
<circle cx="128.7" cy="317.7" r="2.2"/>
<circle cx="134.9" cy="317.3" r="2.2"/>
<circle cx="125.7" cy="314.9" r="2.2"/>
<circle cx="139.1" cy="309.2" r="2.2"/>
<circle cx="134.3" cy="320.9" r="2.2"/>
<circle cx="140.1" cy="300.1" r="2.2"/>
<circle cx="130.9" cy="327.3" r="2.2"/>
<circle cx="145.9" cy="301.5" r="2.2"/>
<circle cx="127.5" cy="320.6" r="2.2"/>
<circle cx="135.7" cy="321.2" r="2.2"/>
<circle cx="129.5" cy="321.6" r="2.2"/>
<circle cx="124.2" cy="296.5" r="2.2"/>
<circle cx="135.0" cy="317.6" r="2.2"/>
<circle cx="138.0" cy="312.6" r="2.2"/>
<circle cx="127.9" cy="324.6" r="2.2"/>
<circle cx="160.3" cy="294.3" r="2.2"/>
<circle cx="134.6" cy="322.7" r="2.2"/>
<circle cx="133.9" cy="330.5" r="2.2"/>
<circle cx="127.3" cy="318.6" r="2.2"/>
<circle cx="134.0" cy="324.1" r="2.2"/>
<circle cx="152.5" cy="286.2" r="2.2"/>
<circle cx="133.6" cy="328.2" r="2.2"/>
<circle cx="125.0" cy="305.1" r="2.2"/>
<circle cx="135.7" cy="315.4" r="2.2"/>
<circle cx="128.0" cy="312.8" r="2.2"/>
<circle cx="116.4" cy="281.2" r="2.2"/>
<circle cx="128.9" cy="322.1" r="2.2"/>
<circle cx="128.5" cy="317.5" r="2.2"/>
<circle cx="154.8" cy="303.9" r="2.2"/>
<circle cx="122.8" cy="287.1" r="2.2"/>
<circle cx="140.2" cy="301.8" r="2.2"/>
<circle cx="132.2" cy="330.9" r="2.2"/>
<circle cx="133.8" cy="327.3" r="2.2"/>
<circle cx="130.8" cy="329.9" r="2.2"/>
<circle cx="132.5" cy="328.6" r="2.2"/>
<circle cx="126.0" cy="317.9" r="2.2"/>
<circle cx="133.0" cy="329.0" r="2.2"/>
<circle cx="134.3" cy="322.4" r="2.2"/>
<circle cx="130.2" cy="324.5" r="2.2"/>
<circle cx="135.8" cy="313.8" r="2.2"/>
<circle cx="119.2" cy="290.7" r="2.2"/>
<circle cx="130.6" cy="327.4" r="2.2"/>
<circle cx="125.4" cy="309.0" r="2.2"/>
<circle cx="140.4" cy="293.2" r="2.2"/>
<circle cx="127.7" cy="314.5" r="2.2"/>
<circle cx="131.2" cy="328.7" r="2.2"/>
<circle cx="134.6" cy="324.9" r="2.2"/>
<circle cx="111.7" cy="286.1" r="2.2"/>
<circle cx="126.5" cy="311.3" r="2.2"/>
<circle cx="133.2" cy="327.3" r="2.2"/>
<circle cx="128.5" cy="318.5" r="2.2"/>
<circle cx="146.1" cy="273.2" r="2.2"/>
<circle cx="125.7" cy="320.9" r="2.2"/>
<circle cx="129.0" cy="326.5" r="2.2"/>
<circle cx="130.3" cy="327.7" r="2.2"/>
<circle cx="135.0" cy="319.6" r="2.2"/>
<circle cx="122.5" cy="297.6" r="2.2"/>
<circle cx="144.8" cy="292.6" r="2.2"/>
<circle cx="146.9" cy="274.4" r="2.2"/>
<circle cx="128.3" cy="322.6" r="2.2"/>
<circle cx="129.4" cy="322.7" r="2.2"/>
<circle cx="107.2" cy="246.4" r="2.2"/>
<circle cx="129.5" cy="326.1" r="2.2"/>
<circle cx="138.0" cy="327.5" r="2.2"/>
<circle cx="122.1" cy="297.6" r="2.2"/>
<circle cx="132.6" cy="329.5" r="2.2"/>
<circle cx="133.6" cy="325.7" r="2.2"/>
<circle cx="134.6" cy="327.3" r="2.2"/>
<circle cx="131.2" cy="330.6" r="2.2"/>
<circle cx="140.0" cy="298.9" r="2.2"/>
<circle cx="133.8" cy="325.1" r="2.2"/>
<circle cx="131.3" cy="328.8" r="2.2"/>
<circle cx="131.9" cy="330.6" r="2.2"/>
<circle cx="131.3" cy="328.0" r="2.2"/>
<circle cx="130.9" cy="329.1" r="2.2"/>
<circle cx="145.9" cy="278.6" r="2.2"/>
<circle cx="126.2" cy="304.5" r="2.2"/>
<circle cx="150.1" cy="301.2" r="2.2"/>
<circle cx="126.5" cy="312.8" r="2.2"/>
<circle cx="124.2" cy="305.1" r="2.2"/>
<circle cx="160.1" cy="236.6" r="2.2"/>
<circle cx="130.0" cy="323.6" r="2.2"/>
<circle cx="140.1" cy="314.9" r="2.2"/>
<circle cx="135.9" cy="315.2" r="2.2"/>
<circle cx="138.6" cy="302.1" r="2.2"/>
<circle cx="126.8" cy="326.8" r="2.2"/>
<circle cx="135.6" cy="314.4" r="2.2"/>
<circle cx="132.5" cy="330.2" r="2.2"/>
<circle cx="135.8" cy="324.1" r="2.2"/>
<circle cx="136.6" cy="319.2" r="2.2"/>
<circle cx="134.9" cy="324.8" r="2.2"/>
<circle cx="130.5" cy="325.1" r="2.2"/>
<circle cx="134.3" cy="324.8" r="2.2"/>
<circle cx="140.6" cy="301.0" r="2.2"/>
<circle cx="132.6" cy="330.1" r="2.2"/>
<circle cx="136.2" cy="317.4" r="2.2"/>
<circle cx="127.9" cy="327.3" r="2.2"/>
<circle cx="130.9" cy="330.0" r="2.2"/>
<circle cx="135.7" cy="314.6" r="2.2"/>
<circle cx="134.1" cy="326.2" r="2.2"/>
<circle cx="130.3" cy="325.6" r="2.2"/>
<circle cx="128.6" cy="317.5" r="2.2"/>
<circle cx="131.5" cy="330.6" r="2.2"/>
<circle cx="133.5" cy="328.0" r="2.2"/>
<circle cx="131.7" cy="330.4" r="2.2"/>
<circle cx="156.8" cy="255.3" r="2.2"/>
<circle cx="137.0" cy="317.9" r="2.2"/>
<circle cx="137.7" cy="316.1" r="2.2"/>
<circle cx="133.9" cy="327.6" r="2.2"/>
<circle cx="127.9" cy="313.5" r="2.2"/>
<circle cx="134.8" cy="318.4" r="2.2"/>
<circle cx="138.3" cy="324.8" r="2.2"/>
<circle cx="136.4" cy="317.5" r="2.2"/>
<circle cx="135.6" cy="323.1" r="2.2"/>
<circle cx="122.6" cy="296.4" r="2.2"/>
<circle cx="130.0" cy="325.3" r="2.2"/>
<circle cx="133.3" cy="325.9" r="2.2"/>
<circle cx="127.0" cy="327.1" r="2.2"/>
<circle cx="122.8" cy="295.5" r="2.2"/>
<circle cx="120.9" cy="289.2" r="2.2"/>
<circle cx="131.3" cy="329.6" r="2.2"/>
<circle cx="140.3" cy="304.2" r="2.2"/>
<circle cx="122.7" cy="290.8" r="2.2"/>
<circle cx="136.2" cy="320.3" r="2.2"/>
<circle cx="131.4" cy="329.9" r="2.2"/>
<circle cx="143.3" cy="301.4" r="2.2"/>
<circle cx="135.4" cy="327.5" r="2.2"/>
<circle cx="147.4" cy="309.6" r="2.2"/>
<circle cx="131.4" cy="330.3" r="2.2"/>
<circle cx="140.8" cy="314.2" r="2.2"/>
<circle cx="129.3" cy="321.9" r="2.2"/>
<circle cx="127.0" cy="316.2" r="2.2"/>
<circle cx="130.3" cy="326.5" r="2.2"/>
<circle cx="126.8" cy="325.8" r="2.2"/>
<circle cx="126.1" cy="309.5" r="2.2"/>
<circle cx="124.9" cy="311.5" r="2.2"/>
<circle cx="130.6" cy="326.7" r="2.2"/>
<circle cx="135.7" cy="317.0" r="2.2"/>
<circle cx="137.0" cy="319.8" r="2.2"/>
<circle cx="127.2" cy="324.8" r="2.2"/>
<circle cx="149.2" cy="275.4" r="2.2"/>
<circle cx="137.7" cy="307.9" r="2.2"/>
<circle cx="125.1" cy="295.9" r="2.2"/>
<circle cx="135.9" cy="318.0" r="2.2"/>
<circle cx="150.0" cy="311.7" r="2.2"/>
<circle cx="137.7" cy="323.2" r="2.2"/>
<circle cx="137.2" cy="304.9" r="2.2"/>
<circle cx="129.4" cy="326.1" r="2.2"/>
<circle cx="129.7" cy="324.3" r="2.2"/>
<circle cx="110.5" cy="312.6" r="2.2"/>
<circle cx="131.1" cy="328.4" r="2.2"/>
<circle cx="148.3" cy="277.9" r="2.2"/>
<circle cx="101.2" cy="285.2" r="2.2"/>
<circle cx="110.8" cy="292.4" r="2.2"/>
<circle cx="137.9" cy="325.6" r="2.2"/>
<circle cx="117.6" cy="283.4" r="2.2"/>
<circle cx="131.4" cy="330.4" r="2.2"/>
<circle cx="133.4" cy="328.5" r="2.2"/>
<circle cx="125.1" cy="299.8" r="2.2"/>
<circle cx="126.0" cy="311.5" r="2.2"/>
<circle cx="129.0" cy="324.3" r="2.2"/>
<circle cx="127.6" cy="314.2" r="2.2"/>
<circle cx="124.9" cy="303.5" r="2.2"/>
<circle cx="127.1" cy="309.7" r="2.2"/>
<circle cx="120.0" cy="283.5" r="2.2"/>
<circle cx="132.8" cy="329.9" r="2.2"/>
<circle cx="135.5" cy="319.2" r="2.2"/>
<circle cx="134.9" cy="324.3" r="2.2"/>
<circle cx="126.6" cy="321.8" r="2.2"/>
<circle cx="127.3" cy="318.0" r="2.2"/>
<circle cx="121.4" cy="281.5" r="2.2"/>
<circle cx="129.0" cy="326.3" r="2.2"/>
<circle cx="128.1" cy="313.8" r="2.2"/>
<circle cx="135.7" cy="324.2" r="2.2"/>
<circle cx="138.0" cy="324.0" r="2.2"/>
<circle cx="124.2" cy="294.5" r="2.2"/>
<circle cx="128.2" cy="315.7" r="2.2"/>
<circle cx="136.5" cy="329.0" r="2.2"/>
<circle cx="129.4" cy="321.9" r="2.2"/>
<circle cx="143.6" cy="276.7" r="2.2"/>
<circle cx="134.4" cy="323.4" r="2.2"/>
<circle cx="129.5" cy="323.8" r="2.2"/>
<circle cx="122.6" cy="307.1" r="2.2"/>
<circle cx="157.7" cy="276.8" r="2.2"/>
<circle cx="132.7" cy="329.8" r="2.2"/>
<circle cx="134.8" cy="318.4" r="2.2"/>
<circle cx="132.7" cy="329.6" r="2.2"/>
<circle cx="129.5" cy="319.0" r="2.2"/>
<circle cx="135.3" cy="317.9" r="2.2"/>
<circle cx="127.9" cy="314.1" r="2.2"/>
<circle cx="128.1" cy="318.5" r="2.2"/>
<circle cx="135.6" cy="322.9" r="2.2"/>
<circle cx="132.9" cy="327.2" r="2.2"/>
<circle cx="140.0" cy="294.0" r="2.2"/>
<circle cx="132.5" cy="330.1" r="2.2"/>
<circle cx="146.8" cy="315.6" r="2.2"/>
<circle cx="128.9" cy="323.8" r="2.2"/>
<circle cx="147.9" cy="314.1" r="2.2"/>
<circle cx="115.8" cy="301.7" r="2.2"/>
<circle cx="139.9" cy="317.2" r="2.2"/>
<circle cx="147.7" cy="266.6" r="2.2"/>
<circle cx="130.0" cy="329.5" r="2.2"/>
<circle cx="134.1" cy="325.2" r="2.2"/>
<circle cx="130.6" cy="325.5" r="2.2"/>
<circle cx="136.0" cy="320.8" r="2.2"/>
<circle cx="130.8" cy="329.3" r="2.2"/>
<circle cx="142.4" cy="311.2" r="2.2"/>
<circle cx="140.0" cy="299.5" r="2.2"/>
<circle cx="129.5" cy="324.7" r="2.2"/>
<circle cx="140.3" cy="294.0" r="2.2"/>
<circle cx="123.4" cy="296.3" r="2.2"/>
<circle cx="134.2" cy="324.1" r="2.2"/>
<circle cx="129.2" cy="321.4" r="2.2"/>
<circle cx="130.5" cy="326.7" r="2.2"/>
<circle cx="150.6" cy="305.8" r="2.2"/>
<circle cx="117.6" cy="287.2" r="2.2"/>
<circle cx="136.5" cy="315.6" r="2.2"/>
<circle cx="130.7" cy="325.6" r="2.2"/>
<circle cx="124.2" cy="311.1" r="2.2"/>
<circle cx="134.2" cy="325.2" r="2.2"/>
<circle cx="134.4" cy="328.0" r="2.2"/>
<circle cx="138.7" cy="320.5" r="2.2"/>
<circle cx="125.0" cy="308.7" r="2.2"/>
<circle cx="146.7" cy="260.7" r="2.2"/>
<circle cx="131.0" cy="329.1" r="2.2"/>
<circle cx="154.2" cy="277.0" r="2.2"/>
<circle cx="131.1" cy="329.8" r="2.2"/>
<circle cx="145.7" cy="283.1" r="2.2"/>
<circle cx="154.3" cy="274.8" r="2.2"/>
<circle cx="132.7" cy="331.0" r="2.2"/>
<circle cx="130.4" cy="324.7" r="2.2"/>
<circle cx="117.2" cy="295.0" r="2.2"/>
<circle cx="128.1" cy="312.3" r="2.2"/>
<circle cx="126.5" cy="325.0" r="2.2"/>
<circle cx="132.8" cy="327.7" r="2.2"/>
<circle cx="132.4" cy="330.7" r="2.2"/>
<circle cx="127.0" cy="310.8" r="2.2"/>
<circle cx="128.3" cy="326.5" r="2.2"/>
<circle cx="125.8" cy="315.9" r="2.2"/>
<circle cx="133.8" cy="330.1" r="2.2"/>
<circle cx="129.0" cy="322.2" r="2.2"/>
<circle cx="119.7" cy="314.0" r="2.2"/>
<circle cx="132.6" cy="327.9" r="2.2"/>
<circle cx="116.2" cy="320.4" r="2.2"/>
<circle cx="134.5" cy="323.0" r="2.2"/>
<circle cx="137.2" cy="316.7" r="2.2"/>
<circle cx="122.9" cy="292.0" r="2.2"/>
<circle cx="127.3" cy="317.6" r="2.2"/>
<circle cx="116.4" cy="303.4" r="2.2"/>
<circle cx="145.1" cy="298.2" r="2.2"/>
<circle cx="133.9" cy="323.8" r="2.2"/>
<circle cx="123.7" cy="304.1" r="2.2"/>
<circle cx="130.6" cy="326.2" r="2.2"/>
<circle cx="136.4" cy="316.7" r="2.2"/>
<circle cx="134.3" cy="323.0" r="2.2"/>
<circle cx="130.0" cy="324.6" r="2.2"/>
<circle cx="140.4" cy="314.2" r="2.2"/>
<circle cx="125.1" cy="303.7" r="2.2"/>
<circle cx="136.9" cy="311.9" r="2.2"/>
<circle cx="139.2" cy="312.2" r="2.2"/>
<circle cx="128.4" cy="320.5" r="2.2"/>
<circle cx="133.1" cy="329.3" r="2.2"/>
<circle cx="124.7" cy="296.8" r="2.2"/>
<circle cx="134.8" cy="322.2" r="2.2"/>
<circle cx="120.9" cy="304.0" r="2.2"/>
<circle cx="140.0" cy="315.0" r="2.2"/>
<circle cx="132.9" cy="330.1" r="2.2"/>
<circle cx="136.1" cy="317.9" r="2.2"/>
<circle cx="145.9" cy="275.5" r="2.2"/>
<circle cx="130.1" cy="325.8" r="2.2"/>
<circle cx="126.3" cy="310.6" r="2.2"/>
<circle cx="129.4" cy="319.7" r="2.2"/>
<circle cx="137.5" cy="312.0" r="2.2"/>
<circle cx="114.5" cy="270.5" r="2.2"/>
<circle cx="132.6" cy="330.0" r="2.2"/>
<circle cx="130.3" cy="324.6" r="2.2"/>
<circle cx="122.1" cy="294.4" r="2.2"/>
<circle cx="143.6" cy="300.2" r="2.2"/>
<circle cx="137.5" cy="308.3" r="2.2"/>
<circle cx="124.7" cy="311.2" r="2.2"/>
<circle cx="125.9" cy="323.1" r="2.2"/>
<circle cx="134.0" cy="325.6" r="2.2"/>
<circle cx="143.2" cy="299.7" r="2.2"/>
<circle cx="129.6" cy="322.7" r="2.2"/>
<circle cx="134.6" cy="321.9" r="2.2"/>
<circle cx="117.6" cy="276.6" r="2.2"/>
<circle cx="128.9" cy="321.8" r="2.2"/>
<circle cx="126.4" cy="316.1" r="2.2"/>
<circle cx="134.6" cy="320.0" r="2.2"/>
<circle cx="128.0" cy="315.5" r="2.2"/>
<circle cx="130.2" cy="323.8" r="2.2"/>
<circle cx="139.5" cy="292.3" r="2.2"/>
<circle cx="135.3" cy="328.9" r="2.2"/>
<circle cx="144.0" cy="315.4" r="2.2"/>
<circle cx="124.2" cy="301.5" r="2.2"/>
<circle cx="137.2" cy="321.6" r="2.2"/>
<circle cx="130.7" cy="327.6" r="2.2"/>
<circle cx="129.0" cy="316.4" r="2.2"/>
<circle cx="133.0" cy="326.7" r="2.2"/>
<circle cx="144.0" cy="306.9" r="2.2"/>
<circle cx="133.0" cy="329.0" r="2.2"/>
<circle cx="126.7" cy="309.6" r="2.2"/>
<circle cx="133.2" cy="325.6" r="2.2"/>
<circle cx="130.7" cy="324.9" r="2.2"/>
<circle cx="123.9" cy="306.4" r="2.2"/>
<circle cx="132.9" cy="327.3" r="2.2"/>
<circle cx="132.9" cy="328.6" r="2.2"/>
<circle cx="133.7" cy="323.7" r="2.2"/>
<circle cx="133.1" cy="328.2" r="2.2"/>
<circle cx="130.6" cy="330.0" r="2.2"/>
<circle cx="128.1" cy="317.4" r="2.2"/>
<circle cx="123.0" cy="292.2" r="2.2"/>
<circle cx="130.5" cy="330.0" r="2.2"/>
<circle cx="136.5" cy="314.5" r="2.2"/>
<circle cx="126.0" cy="304.1" r="2.2"/>
<circle cx="138.7" cy="318.7" r="2.2"/>
<circle cx="114.2" cy="300.9" r="2.2"/>
<circle cx="128.3" cy="313.7" r="2.2"/>
<circle cx="139.7" cy="316.0" r="2.2"/>
<circle cx="126.2" cy="320.6" r="2.2"/>
<circle cx="134.3" cy="322.9" r="2.2"/>
<circle cx="116.3" cy="306.3" r="2.2"/>
<circle cx="129.7" cy="325.7" r="2.2"/>
<circle cx="155.1" cy="296.9" r="2.2"/>
<circle cx="137.9" cy="306.8" r="2.2"/>
<circle cx="124.3" cy="296.3" r="2.2"/>
<circle cx="135.4" cy="314.7" r="2.2"/>
<circle cx="121.3" cy="276.6" r="2.2"/>
<circle cx="134.9" cy="320.4" r="2.2"/>
<circle cx="128.1" cy="318.4" r="2.2"/>
<circle cx="136.9" cy="309.1" r="2.2"/>
<circle cx="144.9" cy="306.1" r="2.2"/>
<circle cx="133.4" cy="326.8" r="2.2"/>
<circle cx="114.0" cy="276.3" r="2.2"/>
<circle cx="160.5" cy="282.6" r="2.2"/>
<circle cx="133.2" cy="329.7" r="2.2"/>
<circle cx="123.7" cy="290.0" r="2.2"/>
<circle cx="125.9" cy="306.6" r="2.2"/>
<circle cx="118.2" cy="305.3" r="2.2"/>
<circle cx="135.2" cy="322.1" r="2.2"/>
<circle cx="106.0" cy="297.1" r="2.2"/>
<circle cx="129.1" cy="322.6" r="2.2"/>
<circle cx="136.4" cy="309.5" r="2.2"/>
<circle cx="133.5" cy="327.3" r="2.2"/>
<circle cx="131.4" cy="327.9" r="2.2"/>
<circle cx="131.2" cy="329.3" r="2.2"/>
<circle cx="138.9" cy="317.6" r="2.2"/>
<circle cx="129.0" cy="325.1" r="2.2"/>
<circle cx="116.6" cy="272.8" r="2.2"/>
<circle cx="139.2" cy="298.5" r="2.2"/>
<circle cx="118.2" cy="295.1" r="2.2"/>
<circle cx="122.0" cy="298.9" r="2.2"/>
<circle cx="130.6" cy="329.9" r="2.2"/>
<circle cx="133.1" cy="327.8" r="2.2"/>
<circle cx="130.4" cy="324.9" r="2.2"/>
<circle cx="135.1" cy="328.2" r="2.2"/>
<circle cx="119.6" cy="269.9" r="2.2"/>
<circle cx="116.8" cy="312.1" r="2.2"/>
<circle cx="141.1" cy="296.6" r="2.2"/>
<circle cx="129.8" cy="322.9" r="2.2"/>
<circle cx="137.3" cy="317.0" r="2.2"/>
<circle cx="131.5" cy="330.0" r="2.2"/>
<circle cx="138.6" cy="317.7" r="2.2"/>
<circle cx="135.2" cy="317.9" r="2.2"/>
<circle cx="121.2" cy="300.1" r="2.2"/>
<circle cx="131.5" cy="330.7" r="2.2"/>
<circle cx="143.8" cy="290.3" r="2.2"/>
<circle cx="130.7" cy="326.8" r="2.2"/>
<circle cx="117.8" cy="295.9" r="2.2"/>
<circle cx="119.2" cy="301.0" r="2.2"/>
<circle cx="101.1" cy="297.2" r="2.2"/>
<circle cx="127.5" cy="325.2" r="2.2"/>
<circle cx="129.2" cy="319.9" r="2.2"/>
<circle cx="129.7" cy="323.6" r="2.2"/>
<circle cx="116.6" cy="295.4" r="2.2"/>
<circle cx="136.9" cy="324.1" r="2.2"/>
<circle cx="144.2" cy="298.8" r="2.2"/>
<circle cx="129.5" cy="328.0" r="2.2"/>
<circle cx="139.6" cy="299.3" r="2.2"/>
<circle cx="145.3" cy="275.5" r="2.2"/>
<circle cx="117.6" cy="281.4" r="2.2"/>
<circle cx="137.0" cy="313.4" r="2.2"/>
<circle cx="131.1" cy="327.9" r="2.2"/>
<circle cx="123.3" cy="293.2" r="2.2"/>
<circle cx="139.7" cy="312.5" r="2.2"/>
<circle cx="131.2" cy="330.2" r="2.2"/>
<circle cx="133.9" cy="323.6" r="2.2"/>
<circle cx="138.4" cy="300.9" r="2.2"/>
<circle cx="146.2" cy="307.3" r="2.2"/>
<circle cx="132.9" cy="328.0" r="2.2"/>
<circle cx="135.0" cy="323.6" r="2.2"/>
<circle cx="125.5" cy="318.0" r="2.2"/>
<circle cx="128.6" cy="320.1" r="2.2"/>
<circle cx="138.9" cy="312.8" r="2.2"/>
<circle cx="133.0" cy="329.1" r="2.2"/>
<circle cx="125.1" cy="302.8" r="2.2"/>
<circle cx="133.4" cy="329.0" r="2.2"/>
<circle cx="139.2" cy="314.7" r="2.2"/>
<circle cx="137.9" cy="319.7" r="2.2"/>
<circle cx="155.7" cy="300.1" r="2.2"/>
<circle cx="134.1" cy="327.2" r="2.2"/>
<circle cx="136.4" cy="313.1" r="2.2"/>
<circle cx="129.8" cy="325.5" r="2.2"/>
<circle cx="102.6" cy="275.9" r="2.2"/>
<circle cx="135.4" cy="325.6" r="2.2"/>
<circle cx="137.8" cy="309.7" r="2.2"/>
<circle cx="135.7" cy="317.8" r="2.2"/>
<circle cx="136.6" cy="311.8" r="2.2"/>
<circle cx="148.2" cy="272.0" r="2.2"/>
<circle cx="138.7" cy="311.9" r="2.2"/>
<circle cx="136.3" cy="324.3" r="2.2"/>
<circle cx="136.9" cy="320.1" r="2.2"/>
<circle cx="143.2" cy="298.5" r="2.2"/>
<circle cx="139.9" cy="322.8" r="2.2"/>
<circle cx="129.0" cy="323.3" r="2.2"/>
<circle cx="122.1" cy="313.4" r="2.2"/>
<circle cx="135.6" cy="318.5" r="2.2"/>
<circle cx="146.3" cy="286.5" r="2.2"/>
<circle cx="133.4" cy="326.1" r="2.2"/>
<circle cx="121.5" cy="284.1" r="2.2"/>
<circle cx="131.5" cy="330.0" r="2.2"/>
<circle cx="133.3" cy="327.1" r="2.2"/>
<circle cx="134.1" cy="327.6" r="2.2"/>
<circle cx="129.3" cy="316.9" r="2.2"/>
<circle cx="127.8" cy="316.8" r="2.2"/>
<circle cx="141.9" cy="295.7" r="2.2"/>
<circle cx="138.3" cy="298.9" r="2.2"/>
<circle cx="108.3" cy="292.5" r="2.2"/>
<circle cx="130.8" cy="325.2" r="2.2"/>
<circle cx="135.9" cy="320.5" r="2.2"/>
<circle cx="140.5" cy="306.8" r="2.2"/>
<circle cx="143.0" cy="288.8" r="2.2"/>
<circle cx="131.6" cy="330.1" r="2.2"/>
<circle cx="128.0" cy="314.6" r="2.2"/>
<circle cx="125.3" cy="317.4" r="2.2"/>
<circle cx="134.7" cy="321.5" r="2.2"/>
<circle cx="130.3" cy="326.0" r="2.2"/>
<circle cx="126.8" cy="321.2" r="2.2"/>
<circle cx="152.0" cy="277.1" r="2.2"/>
<circle cx="120.5" cy="300.7" r="2.2"/>
<circle cx="120.5" cy="320.5" r="2.2"/>
<circle cx="143.7" cy="282.8" r="2.2"/>
<circle cx="132.6" cy="330.1" r="2.2"/>
<circle cx="134.5" cy="323.5" r="2.2"/>
<circle cx="139.6" cy="303.1" r="2.2"/>
<circle cx="119.6" cy="302.3" r="2.2"/>
<circle cx="131.4" cy="328.5" r="2.2"/>
<circle cx="156.2" cy="307.0" r="2.2"/>
<circle cx="130.5" cy="327.8" r="2.2"/>
<circle cx="133.7" cy="326.5" r="2.2"/>
<circle cx="130.9" cy="329.1" r="2.2"/>
<circle cx="128.3" cy="317.2" r="2.2"/>
<circle cx="132.4" cy="330.7" r="2.2"/>
<circle cx="138.6" cy="307.2" r="2.2"/>
<circle cx="129.1" cy="320.2" r="2.2"/>
<circle cx="132.9" cy="328.2" r="2.2"/>
<circle cx="160.9" cy="230.6" r="2.2"/>
<circle cx="125.7" cy="319.8" r="2.2"/>
<circle cx="144.2" cy="316.3" r="2.2"/>
<circle cx="130.0" cy="327.0" r="2.2"/>
<circle cx="138.2" cy="316.8" r="2.2"/>
<circle cx="122.4" cy="298.3" r="2.2"/>
<circle cx="137.0" cy="322.8" r="2.2"/>
<circle cx="134.1" cy="324.2" r="2.2"/>
<circle cx="120.4" cy="275.5" r="2.2"/>
<circle cx="139.0" cy="321.0" r="2.2"/>
<circle cx="146.0" cy="293.1" r="2.2"/>
<circle cx="129.1" cy="321.7" r="2.2"/>
<circle cx="131.1" cy="328.4" r="2.2"/>
<circle cx="137.5" cy="314.5" r="2.2"/>
<circle cx="131.8" cy="330.5" r="2.2"/>
<circle cx="131.7" cy="330.9" r="2.2"/>
<circle cx="128.5" cy="317.3" r="2.2"/>
<circle cx="147.2" cy="321.4" r="2.2"/>
<circle cx="131.4" cy="330.5" r="2.2"/>
<circle cx="145.0" cy="297.5" r="2.2"/>
<circle cx="128.0" cy="317.5" r="2.2"/>
<circle cx="121.5" cy="312.1" r="2.2"/>
<circle cx="130.8" cy="329.9" r="2.2"/>
<circle cx="126.6" cy="323.5" r="2.2"/>
<circle cx="129.1" cy="325.6" r="2.2"/>
<circle cx="135.7" cy="319.9" r="2.2"/>
<circle cx="136.9" cy="317.4" r="2.2"/>
<circle cx="140.3" cy="291.6" r="2.2"/>
<circle cx="123.5" cy="307.9" r="2.2"/>
<circle cx="113.2" cy="275.6" r="2.2"/>
<circle cx="130.3" cy="327.9" r="2.2"/>
<circle cx="134.4" cy="319.5" r="2.2"/>
<circle cx="129.2" cy="319.4" r="2.2"/>
<circle cx="134.2" cy="327.5" r="2.2"/>
<circle cx="133.0" cy="330.3" r="2.2"/>
<circle cx="136.7" cy="311.9" r="2.2"/>
<circle cx="121.0" cy="307.6" r="2.2"/>
<circle cx="133.0" cy="329.3" r="2.2"/>
<circle cx="126.1" cy="301.2" r="2.2"/>
<circle cx="124.1" cy="320.2" r="2.2"/>
<circle cx="119.2" cy="297.7" r="2.2"/>
<circle cx="133.5" cy="325.0" r="2.2"/>
<circle cx="135.3" cy="319.1" r="2.2"/>
<circle cx="129.8" cy="328.0" r="2.2"/>
<circle cx="136.5" cy="313.3" r="2.2"/>
<circle cx="150.5" cy="301.8" r="2.2"/>
<circle cx="137.0" cy="304.6" r="2.2"/>
<circle cx="129.8" cy="321.5" r="2.2"/>
<circle cx="135.4" cy="321.2" r="2.2"/>
<circle cx="132.8" cy="329.5" r="2.2"/>
<circle cx="130.2" cy="326.7" r="2.2"/>
<circle cx="129.8" cy="323.5" r="2.2"/>
<circle cx="124.6" cy="308.8" r="2.2"/>
<circle cx="129.4" cy="324.2" r="2.2"/>
<circle cx="142.0" cy="318.0" r="2.2"/>
<circle cx="132.8" cy="330.1" r="2.2"/>
<circle cx="138.8" cy="301.6" r="2.2"/>
<circle cx="127.2" cy="314.3" r="2.2"/>
<circle cx="116.4" cy="304.2" r="2.2"/>
<circle cx="144.9" cy="303.7" r="2.2"/>
<circle cx="126.5" cy="311.7" r="2.2"/>
<circle cx="135.6" cy="322.5" r="2.2"/>
<circle cx="128.9" cy="320.5" r="2.2"/>
<circle cx="155.6" cy="307.4" r="2.2"/>
<circle cx="140.9" cy="301.1" r="2.2"/>
<circle cx="133.1" cy="329.9" r="2.2"/>
<circle cx="133.0" cy="327.5" r="2.2"/>
<circle cx="145.6" cy="267.0" r="2.2"/>
<circle cx="139.9" cy="303.9" r="2.2"/>
<circle cx="115.1" cy="264.3" r="2.2"/>
<circle cx="125.9" cy="310.6" r="2.2"/>
<circle cx="136.7" cy="318.5" r="2.2"/>
<circle cx="143.1" cy="297.6" r="2.2"/>
<circle cx="131.5" cy="330.4" r="2.2"/>
<circle cx="111.3" cy="285.3" r="2.2"/>
<circle cx="131.2" cy="329.5" r="2.2"/>
<circle cx="126.2" cy="307.3" r="2.2"/>
<circle cx="128.5" cy="316.1" r="2.2"/>
<circle cx="130.3" cy="325.7" r="2.2"/>
<circle cx="146.0" cy="283.0" r="2.2"/>
<circle cx="137.0" cy="321.2" r="2.2"/>
<circle cx="137.4" cy="322.5" r="2.2"/>
<circle cx="123.8" cy="320.4" r="2.2"/>
<circle cx="133.8" cy="325.8" r="2.2"/>
<circle cx="139.2" cy="312.7" r="2.2"/>
<circle cx="134.3" cy="324.2" r="2.2"/>
<circle cx="141.2" cy="292.7" r="2.2"/>
<circle cx="137.4" cy="317.0" r="2.2"/>
<circle cx="116.0" cy="300.7" r="2.2"/>
<circle cx="128.0" cy="310.8" r="2.2"/>
<circle cx="119.8" cy="291.7" r="2.2"/>
<circle cx="129.8" cy="328.2" r="2.2"/>
<circle cx="122.3" cy="317.8" r="2.2"/>
<circle cx="131.2" cy="328.6" r="2.2"/>
<circle cx="143.2" cy="310.1" r="2.2"/>
<circle cx="127.0" cy="305.5" r="2.2"/>
<circle cx="134.6" cy="323.2" r="2.2"/>
<circle cx="126.9" cy="324.4" r="2.2"/>
<circle cx="112.6" cy="291.5" r="2.2"/>
<circle cx="120.0" cy="307.0" r="2.2"/>
<circle cx="136.3" cy="316.4" r="2.2"/>
<circle cx="115.8" cy="306.0" r="2.2"/>
<circle cx="132.5" cy="330.2" r="2.2"/>
<circle cx="129.6" cy="326.6" r="2.2"/>
<circle cx="127.8" cy="321.6" r="2.2"/>
<circle cx="121.9" cy="292.2" r="2.2"/>
<circle cx="125.3" cy="312.9" r="2.2"/>
<circle cx="123.2" cy="318.5" r="2.2"/>
<circle cx="137.7" cy="309.8" r="2.2"/>
<circle cx="131.3" cy="329.2" r="2.2"/>
<circle cx="112.7" cy="280.0" r="2.2"/>
<circle cx="119.5" cy="320.3" r="2.2"/>
<circle cx="137.3" cy="313.9" r="2.2"/>
<circle cx="125.9" cy="310.3" r="2.2"/>
<circle cx="133.8" cy="325.5" r="2.2"/>
<circle cx="120.1" cy="317.0" r="2.2"/>
<circle cx="146.0" cy="268.2" r="2.2"/>
<circle cx="133.2" cy="327.2" r="2.2"/>
<circle cx="127.6" cy="327.5" r="2.2"/>
<circle cx="133.7" cy="327.5" r="2.2"/>
<circle cx="136.2" cy="318.0" r="2.2"/>
<circle cx="130.3" cy="324.5" r="2.2"/>
<circle cx="134.6" cy="319.1" r="2.2"/>
<circle cx="129.7" cy="324.4" r="2.2"/>
<circle cx="136.7" cy="311.4" r="2.2"/>
<circle cx="124.6" cy="319.4" r="2.2"/>
<circle cx="127.0" cy="310.0" r="2.2"/>
<circle cx="130.8" cy="326.0" r="2.2"/>
<circle cx="133.3" cy="327.9" r="2.2"/>
<circle cx="142.9" cy="306.3" r="2.2"/>
<circle cx="129.2" cy="322.8" r="2.2"/>
<circle cx="131.2" cy="329.9" r="2.2"/>
<circle cx="109.9" cy="283.0" r="2.2"/>
<circle cx="133.2" cy="329.5" r="2.2"/>
<circle cx="116.5" cy="270.1" r="2.2"/>
<circle cx="143.8" cy="319.6" r="2.2"/>
<circle cx="133.0" cy="329.5" r="2.2"/>
<circle cx="142.0" cy="322.9" r="2.2"/>
<circle cx="128.3" cy="324.1" r="2.2"/>
<circle cx="135.9" cy="314.8" r="2.2"/>
<circle cx="134.9" cy="327.8" r="2.2"/>
<circle cx="121.2" cy="320.2" r="2.2"/>
<circle cx="140.2" cy="287.2" r="2.2"/>
<circle cx="130.3" cy="323.2" r="2.2"/>
<circle cx="128.7" cy="327.1" r="2.2"/>
<circle cx="132.5" cy="329.7" r="2.2"/>
<circle cx="135.3" cy="319.5" r="2.2"/>
<circle cx="135.6" cy="327.6" r="2.2"/>
<circle cx="126.0" cy="324.1" r="2.2"/>
<circle cx="128.6" cy="324.5" r="2.2"/>
<circle cx="116.8" cy="285.0" r="2.2"/>
<circle cx="146.2" cy="286.8" r="2.2"/>
<circle cx="127.2" cy="309.7" r="2.2"/>
<circle cx="140.6" cy="291.8" r="2.2"/>
<circle cx="131.5" cy="330.0" r="2.2"/>
<circle cx="134.2" cy="323.4" r="2.2"/>
<circle cx="140.9" cy="289.7" r="2.2"/>
<circle cx="111.2" cy="282.8" r="2.2"/>
<circle cx="123.8" cy="308.5" r="2.2"/>
<circle cx="131.1" cy="327.3" r="2.2"/>
<circle cx="111.9" cy="272.1" r="2.2"/>
<circle cx="124.9" cy="304.4" r="2.2"/>
<circle cx="113.9" cy="322.5" r="2.2"/>
<circle cx="128.4" cy="321.3" r="2.2"/>
<circle cx="126.5" cy="313.9" r="2.2"/>
<circle cx="121.8" cy="306.6" r="2.2"/>
<circle cx="162.0" cy="266.6" r="2.2"/>
<circle cx="144.9" cy="289.4" r="2.2"/>
<circle cx="126.6" cy="315.1" r="2.2"/>
<circle cx="129.0" cy="320.4" r="2.2"/>
<circle cx="138.9" cy="320.1" r="2.2"/>
<circle cx="141.0" cy="310.5" r="2.2"/>
<circle cx="136.6" cy="312.9" r="2.2"/>
<circle cx="123.3" cy="291.6" r="2.2"/>
<circle cx="124.1" cy="304.4" r="2.2"/>
<circle cx="132.8" cy="328.7" r="2.2"/>
<circle cx="121.1" cy="306.7" r="2.2"/>
<circle cx="133.5" cy="328.3" r="2.2"/>
<circle cx="138.0" cy="322.1" r="2.2"/>
<circle cx="138.2" cy="299.3" r="2.2"/>
<circle cx="153.7" cy="278.7" r="2.2"/>
<circle cx="132.1" cy="330.6" r="2.2"/>
<circle cx="125.9" cy="320.3" r="2.2"/>
<circle cx="131.4" cy="330.3" r="2.2"/>
<circle cx="144.6" cy="302.8" r="2.2"/>
<circle cx="132.2" cy="330.9" r="2.2"/>
<circle cx="125.5" cy="308.7" r="2.2"/>
<circle cx="142.3" cy="317.0" r="2.2"/>
<circle cx="125.0" cy="306.0" r="2.2"/>
<circle cx="136.1" cy="310.4" r="2.2"/>
<circle cx="137.1" cy="313.9" r="2.2"/>
<circle cx="133.1" cy="329.2" r="2.2"/>
<circle cx="129.3" cy="319.0" r="2.2"/>
<circle cx="133.6" cy="324.4" r="2.2"/>
<circle cx="120.0" cy="298.7" r="2.2"/>
<circle cx="137.0" cy="318.7" r="2.2"/>
<circle cx="123.8" cy="312.9" r="2.2"/>
<circle cx="144.3" cy="294.4" r="2.2"/>
<circle cx="133.1" cy="328.1" r="2.2"/>
<circle cx="110.8" cy="318.1" r="2.2"/>
<circle cx="152.9" cy="306.7" r="2.2"/>
<circle cx="130.9" cy="326.9" r="2.2"/>
<circle cx="130.6" cy="326.4" r="2.2"/>
<circle cx="128.9" cy="320.2" r="2.2"/>
<circle cx="122.6" cy="310.8" r="2.2"/>
<circle cx="124.7" cy="313.7" r="2.2"/>
<circle cx="139.1" cy="298.7" r="2.2"/>
<circle cx="141.7" cy="294.4" r="2.2"/>
<circle cx="128.6" cy="320.6" r="2.2"/>
<circle cx="137.9" cy="314.8" r="2.2"/>
<circle cx="129.8" cy="324.0" r="2.2"/>
<circle cx="133.6" cy="325.0" r="2.2"/>
<circle cx="139.6" cy="317.5" r="2.2"/>
<circle cx="133.7" cy="326.9" r="2.2"/>
<circle cx="131.6" cy="330.0" r="2.2"/>
<circle cx="138.3" cy="300.7" r="2.2"/>
<circle cx="133.6" cy="325.8" r="2.2"/>
<circle cx="153.1" cy="316.0" r="2.2"/>
<circle cx="140.4" cy="305.6" r="2.2"/>
<circle cx="127.0" cy="307.7" r="2.2"/>
<circle cx="129.7" cy="323.3" r="2.2"/>
<circle cx="122.9" cy="290.2" r="2.2"/>
<circle cx="157.4" cy="285.6" r="2.2"/>
<circle cx="120.1" cy="271.1" r="2.2"/>
<circle cx="141.7" cy="307.7" r="2.2"/>
<circle cx="135.5" cy="315.9" r="2.2"/>
<circle cx="128.1" cy="316.7" r="2.2"/>
<circle cx="122.5" cy="316.4" r="2.2"/>
<circle cx="131.2" cy="329.3" r="2.2"/>
<circle cx="147.7" cy="275.4" r="2.2"/>
<circle cx="120.3" cy="306.1" r="2.2"/>
<circle cx="124.0" cy="315.8" r="2.2"/>
<circle cx="116.7" cy="268.9" r="2.2"/>
<circle cx="130.5" cy="326.7" r="2.2"/>
<circle cx="138.7" cy="305.7" r="2.2"/>
<circle cx="127.7" cy="312.8" r="2.2"/>
<circle cx="113.5" cy="290.4" r="2.2"/>
<circle cx="115.5" cy="308.0" r="2.2"/>
<circle cx="129.9" cy="324.0" r="2.2"/>
<circle cx="132.8" cy="328.4" r="2.2"/>
<circle cx="130.8" cy="329.2" r="2.2"/>
<circle cx="135.6" cy="322.5" r="2.2"/>
<circle cx="123.0" cy="315.2" r="2.2"/>
<circle cx="124.6" cy="292.5" r="2.2"/>
<circle cx="132.9" cy="329.6" r="2.2"/>
<circle cx="139.8" cy="294.5" r="2.2"/>
<circle cx="127.7" cy="318.5" r="2.2"/>
<circle cx="136.5" cy="307.4" r="2.2"/>
<circle cx="136.1" cy="321.8" r="2.2"/>
<circle cx="127.9" cy="310.2" r="2.2"/>
<circle cx="130.6" cy="326.8" r="2.2"/>
<circle cx="122.9" cy="283.3" r="2.2"/>
<circle cx="128.3" cy="322.7" r="2.2"/>
<circle cx="129.6" cy="319.9" r="2.2"/>
<circle cx="125.5" cy="303.7" r="2.2"/>
<circle cx="133.5" cy="324.2" r="2.2"/>
<circle cx="132.7" cy="330.2" r="2.2"/>
<circle cx="112.6" cy="264.3" r="2.2"/>
<circle cx="139.8" cy="306.4" r="2.2"/>
<circle cx="139.1" cy="294.6" r="2.2"/>
<circle cx="137.0" cy="312.9" r="2.2"/>
<circle cx="129.0" cy="316.6" r="2.2"/>
<circle cx="143.0" cy="303.6" r="2.2"/>
<circle cx="133.7" cy="327.4" r="2.2"/>
<circle cx="163.0" cy="284.7" r="2.2"/>
<circle cx="124.5" cy="321.3" r="2.2"/>
<circle cx="130.6" cy="328.9" r="2.2"/>
<circle cx="119.9" cy="284.6" r="2.2"/>
<circle cx="128.0" cy="324.1" r="2.2"/>
<circle cx="135.5" cy="320.5" r="2.2"/>
<circle cx="118.0" cy="305.6" r="2.2"/>
<circle cx="135.2" cy="322.4" r="2.2"/>
<circle cx="133.2" cy="328.6" r="2.2"/>
<circle cx="130.4" cy="327.0" r="2.2"/>
<circle cx="137.0" cy="312.5" r="2.2"/>
<circle cx="135.6" cy="314.0" r="2.2"/>
<circle cx="138.0" cy="307.3" r="2.2"/>
<circle cx="157.1" cy="302.0" r="2.2"/>
<circle cx="148.4" cy="317.8" r="2.2"/>
<circle cx="139.7" cy="297.3" r="2.2"/>
<circle cx="145.6" cy="266.7" r="2.2"/>
<circle cx="136.0" cy="320.7" r="2.2"/>
<circle cx="149.1" cy="287.2" r="2.2"/>
<circle cx="121.8" cy="302.5" r="2.2"/>
<circle cx="130.5" cy="326.6" r="2.2"/>
<circle cx="130.2" cy="325.7" r="2.2"/>
<circle cx="137.0" cy="326.0" r="2.2"/>
<circle cx="131.5" cy="330.5" r="2.2"/>
<circle cx="129.6" cy="322.2" r="2.2"/>
<circle cx="137.1" cy="323.6" r="2.2"/>
<circle cx="158.0" cy="289.9" r="2.2"/>
<circle cx="139.3" cy="293.2" r="2.2"/>
<circle cx="150.7" cy="282.7" r="2.2"/>
<circle cx="109.9" cy="295.2" r="2.2"/>
<circle cx="135.8" cy="318.8" r="2.2"/>
<circle cx="134.0" cy="325.2" r="2.2"/>
<circle cx="130.4" cy="329.4" r="2.2"/>
<circle cx="130.8" cy="326.9" r="2.2"/>
<circle cx="109.5" cy="318.7" r="2.2"/>
<circle cx="128.8" cy="317.9" r="2.2"/>
<circle cx="112.3" cy="290.2" r="2.2"/>
<circle cx="138.6" cy="298.5" r="2.2"/>
<circle cx="128.1" cy="314.4" r="2.2"/>
<circle cx="129.6" cy="323.4" r="2.2"/>
<circle cx="126.5" cy="309.5" r="2.2"/>
<circle cx="135.7" cy="315.5" r="2.2"/>
<circle cx="126.1" cy="308.6" r="2.2"/>
<circle cx="127.9" cy="322.9" r="2.2"/>
<circle cx="140.0" cy="314.2" r="2.2"/>
<circle cx="137.3" cy="321.1" r="2.2"/>
<circle cx="136.0" cy="319.5" r="2.2"/>
<circle cx="135.3" cy="322.0" r="2.2"/>
<circle cx="125.7" cy="310.5" r="2.2"/>
<circle cx="127.9" cy="321.9" r="2.2"/>
<circle cx="112.5" cy="300.5" r="2.2"/>
<circle cx="123.5" cy="303.9" r="2.2"/>
<circle cx="120.3" cy="291.1" r="2.2"/>
<circle cx="127.6" cy="318.8" r="2.2"/>
<circle cx="131.2" cy="329.1" r="2.2"/>
<circle cx="135.3" cy="323.2" r="2.2"/>
<circle cx="124.5" cy="316.5" r="2.2"/>
<circle cx="125.4" cy="318.0" r="2.2"/>
<circle cx="126.3" cy="309.7" r="2.2"/>
<circle cx="121.2" cy="282.1" r="2.2"/>
<circle cx="108.5" cy="310.0" r="2.2"/>
<circle cx="117.4" cy="283.7" r="2.2"/>
<circle cx="158.9" cy="258.9" r="2.2"/>
<circle cx="117.3" cy="295.7" r="2.2"/>
<circle cx="126.5" cy="313.2" r="2.2"/>
<circle cx="138.6" cy="303.0" r="2.2"/>
<circle cx="124.8" cy="309.9" r="2.2"/>
<circle cx="130.2" cy="325.5" r="2.2"/>
<circle cx="122.1" cy="311.0" r="2.2"/>
<circle cx="134.6" cy="324.1" r="2.2"/>
<circle cx="125.1" cy="312.1" r="2.2"/>
<circle cx="132.3" cy="330.0" r="2.2"/>
<circle cx="136.7" cy="313.9" r="2.2"/>
<circle cx="130.8" cy="326.0" r="2.2"/>
<circle cx="139.9" cy="314.5" r="2.2"/>
<circle cx="128.2" cy="317.5" r="2.2"/>
<circle cx="115.5" cy="309.9" r="2.2"/>
<circle cx="139.0" cy="297.8" r="2.2"/>
<circle cx="136.6" cy="323.5" r="2.2"/>
<circle cx="128.3" cy="314.3" r="2.2"/>
<circle cx="121.3" cy="320.9" r="2.2"/>
<circle cx="143.1" cy="288.3" r="2.2"/>
<circle cx="120.4" cy="281.3" r="2.2"/>
<circle cx="133.1" cy="328.2" r="2.2"/>
<circle cx="127.1" cy="318.3" r="2.2"/>
<circle cx="126.1" cy="313.0" r="2.2"/>
<circle cx="127.4" cy="310.1" r="2.2"/>
<circle cx="145.7" cy="314.2" r="2.2"/>
<circle cx="127.3" cy="323.0" r="2.2"/>
<circle cx="131.0" cy="328.1" r="2.2"/>
<circle cx="127.4" cy="328.0" r="2.2"/>
<circle cx="134.5" cy="321.8" r="2.2"/>
<circle cx="135.5" cy="314.2" r="2.2"/>
<circle cx="129.0" cy="324.5" r="2.2"/>
<circle cx="134.6" cy="323.3" r="2.2"/>
<circle cx="136.3" cy="318.8" r="2.2"/>
<circle cx="139.9" cy="324.3" r="2.2"/>
<circle cx="123.5" cy="299.3" r="2.2"/>
<circle cx="137.6" cy="315.8" r="2.2"/>
<circle cx="163.1" cy="280.1" r="2.2"/>
<circle cx="142.7" cy="286.3" r="2.2"/>
<circle cx="131.9" cy="330.5" r="2.2"/>
<circle cx="127.2" cy="317.3" r="2.2"/>
<circle cx="135.4" cy="314.6" r="2.2"/>
<circle cx="136.2" cy="315.3" r="2.2"/>
<circle cx="107.2" cy="301.4" r="2.2"/>
<circle cx="133.8" cy="326.0" r="2.2"/>
<circle cx="154.4" cy="310.3" r="2.2"/>
<circle cx="133.8" cy="327.9" r="2.2"/>
<circle cx="135.6" cy="314.8" r="2.2"/>
<circle cx="133.8" cy="324.4" r="2.2"/>
<circle cx="134.8" cy="317.9" r="2.2"/>
<circle cx="133.2" cy="329.4" r="2.2"/>
<circle cx="122.2" cy="318.8" r="2.2"/>
<circle cx="136.7" cy="316.2" r="2.2"/>
<circle cx="130.6" cy="324.5" r="2.2"/>
<circle cx="136.6" cy="314.1" r="2.2"/>
<circle cx="135.0" cy="321.9" r="2.2"/>
<circle cx="136.7" cy="309.3" r="2.2"/>
<circle cx="129.1" cy="320.9" r="2.2"/>
<circle cx="129.9" cy="327.7" r="2.2"/>
<circle cx="127.5" cy="321.9" r="2.2"/>
<circle cx="123.5" cy="301.8" r="2.2"/>
<circle cx="122.5" cy="285.4" r="2.2"/>
<circle cx="142.2" cy="315.2" r="2.2"/>
<circle cx="102.3" cy="271.5" r="2.2"/>
<circle cx="145.7" cy="309.0" r="2.2"/>
<circle cx="129.1" cy="321.1" r="2.2"/>
<circle cx="125.8" cy="320.4" r="2.2"/>
<circle cx="134.9" cy="322.6" r="2.2"/>
<circle cx="109.0" cy="278.3" r="2.2"/>
<circle cx="135.9" cy="320.5" r="2.2"/>
<circle cx="132.7" cy="328.0" r="2.2"/>
<circle cx="133.6" cy="328.0" r="2.2"/>
<circle cx="136.5" cy="307.2" r="2.2"/>
<circle cx="139.0" cy="317.3" r="2.2"/>
<circle cx="138.7" cy="323.6" r="2.2"/>
<circle cx="133.1" cy="327.0" r="2.2"/>
<circle cx="132.8" cy="330.1" r="2.2"/>
<circle cx="134.5" cy="320.4" r="2.2"/>
<circle cx="133.1" cy="327.9" r="2.2"/>
<circle cx="139.4" cy="319.5" r="2.2"/>
<circle cx="147.5" cy="286.5" r="2.2"/>
<circle cx="135.1" cy="317.8" r="2.2"/>
<circle cx="138.6" cy="302.2" r="2.2"/>
<circle cx="135.7" cy="320.7" r="2.2"/>
<circle cx="135.6" cy="322.1" r="2.2"/>
<circle cx="129.9" cy="323.2" r="2.2"/>
<circle cx="144.1" cy="299.0" r="2.2"/>
<circle cx="127.9" cy="317.9" r="2.2"/>
<circle cx="124.4" cy="318.6" r="2.2"/>
<circle cx="132.4" cy="329.5" r="2.2"/>
<circle cx="142.8" cy="307.9" r="2.2"/>
<circle cx="131.2" cy="329.0" r="2.2"/>
<circle cx="143.8" cy="323.0" r="2.2"/>
<circle cx="130.3" cy="323.2" r="2.2"/>
<circle cx="135.6" cy="324.5" r="2.2"/>
<circle cx="121.2" cy="287.3" r="2.2"/>
<circle cx="133.9" cy="324.7" r="2.2"/>
<circle cx="135.6" cy="320.8" r="2.2"/>
<circle cx="125.5" cy="301.1" r="2.2"/>
<circle cx="161.3" cy="274.1" r="2.2"/>
<circle cx="140.9" cy="314.6" r="2.2"/>
<circle cx="132.6" cy="329.5" r="2.2"/>
<circle cx="130.9" cy="329.2" r="2.2"/>
<circle cx="128.5" cy="318.9" r="2.2"/>
<circle cx="130.9" cy="326.3" r="2.2"/>
<circle cx="124.6" cy="298.1" r="2.2"/>
<circle cx="141.2" cy="292.1" r="2.2"/>
<circle cx="130.5" cy="326.0" r="2.2"/>
<circle cx="143.4" cy="287.9" r="2.2"/>
<circle cx="142.7" cy="304.8" r="2.2"/>
<circle cx="130.2" cy="324.7" r="2.2"/>
<circle cx="129.5" cy="321.7" r="2.2"/>
<circle cx="132.2" cy="330.4" r="2.2"/>
<circle cx="137.9" cy="306.8" r="2.2"/>
<circle cx="105.5" cy="294.8" r="2.2"/>
<circle cx="124.5" cy="307.9" r="2.2"/>
<circle cx="132.6" cy="328.9" r="2.2"/>
<circle cx="132.8" cy="328.9" r="2.2"/>
<circle cx="150.9" cy="274.1" r="2.2"/>
<circle cx="136.2" cy="323.2" r="2.2"/>
<circle cx="143.3" cy="316.4" r="2.2"/>
<circle cx="114.4" cy="296.1" r="2.2"/>
<circle cx="130.9" cy="327.9" r="2.2"/>
<circle cx="135.7" cy="324.1" r="2.2"/>
<circle cx="134.2" cy="321.1" r="2.2"/>
<circle cx="127.3" cy="315.7" r="2.2"/>
<circle cx="122.2" cy="305.1" r="2.2"/>
<circle cx="136.9" cy="312.2" r="2.2"/>
<circle cx="129.7" cy="321.4" r="2.2"/>
<circle cx="137.2" cy="315.7" r="2.2"/>
<circle cx="140.8" cy="318.6" r="2.2"/>
<circle cx="122.3" cy="304.3" r="2.2"/>
<circle cx="125.8" cy="315.9" r="2.2"/>
<circle cx="123.2" cy="322.1" r="2.2"/>
<circle cx="137.0" cy="313.1" r="2.2"/>
<circle cx="124.7" cy="314.0" r="2.2"/>
<circle cx="146.7" cy="303.3" r="2.2"/>
<circle cx="127.9" cy="318.2" r="2.2"/>
<circle cx="125.9" cy="310.7" r="2.2"/>
<circle cx="139.8" cy="322.7" r="2.2"/>
<circle cx="143.0" cy="319.5" r="2.2"/>
<circle cx="142.1" cy="305.4" r="2.2"/>
<circle cx="125.2" cy="324.5" r="2.2"/>
<circle cx="132.7" cy="329.4" r="2.2"/>
<circle cx="134.4" cy="326.4" r="2.2"/>
<circle cx="127.1" cy="307.5" r="2.2"/>
<circle cx="137.7" cy="314.9" r="2.2"/>
<circle cx="132.6" cy="330.4" r="2.2"/>
<circle cx="127.5" cy="314.6" r="2.2"/>
<circle cx="134.5" cy="323.0" r="2.2"/>
<circle cx="116.5" cy="308.9" r="2.2"/>
<circle cx="119.3" cy="290.7" r="2.2"/>
<circle cx="134.5" cy="322.8" r="2.2"/>
<circle cx="124.5" cy="316.3" r="2.2"/>
<circle cx="123.4" cy="300.9" r="2.2"/>
<circle cx="137.5" cy="318.4" r="2.2"/>
<circle cx="119.3" cy="288.3" r="2.2"/>
<circle cx="136.7" cy="319.8" r="2.2"/>
<circle cx="119.8" cy="273.7" r="2.2"/>
<circle cx="135.8" cy="321.6" r="2.2"/>
<circle cx="136.4" cy="313.6" r="2.2"/>
<circle cx="140.2" cy="298.0" r="2.2"/>
<circle cx="132.8" cy="329.8" r="2.2"/>
<circle cx="135.5" cy="316.8" r="2.2"/>
<circle cx="134.9" cy="321.1" r="2.2"/>
<circle cx="139.7" cy="299.8" r="2.2"/>
<circle cx="131.1" cy="330.2" r="2.2"/>
<circle cx="132.9" cy="327.5" r="2.2"/>
<circle cx="147.6" cy="294.5" r="2.2"/>
<circle cx="126.0" cy="324.8" r="2.2"/>
<circle cx="124.5" cy="307.5" r="2.2"/>
<circle cx="124.3" cy="298.5" r="2.2"/>
<circle cx="137.6" cy="308.3" r="2.2"/>
<circle cx="143.7" cy="307.3" r="2.2"/>
<circle cx="140.2" cy="292.8" r="2.2"/>
<circle cx="137.1" cy="309.0" r="2.2"/>
<circle cx="130.9" cy="330.7" r="2.2"/>
<circle cx="130.2" cy="325.6" r="2.2"/>
<circle cx="139.2" cy="313.0" r="2.2"/>
<circle cx="126.5" cy="315.6" r="2.2"/>
<circle cx="134.5" cy="325.6" r="2.2"/>
<circle cx="131.5" cy="329.7" r="2.2"/>
<circle cx="127.3" cy="310.3" r="2.2"/>
<circle cx="136.8" cy="315.4" r="2.2"/>
<circle cx="122.0" cy="304.8" r="2.2"/>
<circle cx="133.1" cy="327.6" r="2.2"/>
<circle cx="116.3" cy="255.7" r="2.2"/>
<circle cx="131.2" cy="329.2" r="2.2"/>
<circle cx="123.5" cy="308.1" r="2.2"/>
<circle cx="138.7" cy="299.1" r="2.2"/>
<circle cx="141.0" cy="311.1" r="2.2"/>
<circle cx="128.9" cy="322.3" r="2.2"/>
<circle cx="120.8" cy="323.9" r="2.2"/>
<circle cx="136.1" cy="322.5" r="2.2"/>
<circle cx="122.0" cy="301.8" r="2.2"/>
<circle cx="129.0" cy="325.6" r="2.2"/>
<circle cx="110.3" cy="308.3" r="2.2"/>
<circle cx="111.5" cy="262.6" r="2.2"/>
<circle cx="118.2" cy="295.2" r="2.2"/>
<circle cx="101.1" cy="296.2" r="2.2"/>
<circle cx="130.1" cy="321.1" r="2.2"/>
<circle cx="146.6" cy="294.1" r="2.2"/>
<circle cx="117.1" cy="281.8" r="2.2"/>
<circle cx="133.5" cy="326.1" r="2.2"/>
<circle cx="135.2" cy="314.8" r="2.2"/>
<circle cx="134.3" cy="319.8" r="2.2"/>
<circle cx="131.0" cy="330.2" r="2.2"/>
<circle cx="138.8" cy="303.8" r="2.2"/>
<circle cx="130.8" cy="325.7" r="2.2"/>
<circle cx="130.9" cy="330.2" r="2.2"/>
<circle cx="130.3" cy="324.3" r="2.2"/>
<circle cx="133.9" cy="325.8" r="2.2"/>
<circle cx="126.5" cy="317.4" r="2.2"/>
<circle cx="129.1" cy="320.0" r="2.2"/>
<circle cx="135.2" cy="318.3" r="2.2"/>
<circle cx="138.0" cy="317.4" r="2.2"/>
<circle cx="115.3" cy="272.9" r="2.2"/>
<circle cx="135.5" cy="319.9" r="2.2"/>
<circle cx="154.9" cy="306.8" r="2.2"/>
<circle cx="134.2" cy="319.9" r="2.2"/>
<circle cx="155.9" cy="290.3" r="2.2"/>
<circle cx="121.7" cy="307.9" r="2.2"/>
<circle cx="129.9" cy="327.4" r="2.2"/>
<circle cx="136.7" cy="308.9" r="2.2"/>
<circle cx="144.0" cy="300.3" r="2.2"/>
<circle cx="135.9" cy="322.7" r="2.2"/>
<circle cx="123.0" cy="317.5" r="2.2"/>
<circle cx="136.9" cy="309.4" r="2.2"/>
<circle cx="135.2" cy="326.7" r="2.2"/>
<circle cx="139.3" cy="303.0" r="2.2"/>
<circle cx="129.6" cy="328.1" r="2.2"/>
<circle cx="127.6" cy="320.7" r="2.2"/>
<circle cx="127.5" cy="325.7" r="2.2"/>
<circle cx="130.5" cy="325.6" r="2.2"/>
<circle cx="134.2" cy="326.8" r="2.2"/>
<circle cx="126.0" cy="300.6" r="2.2"/>
<circle cx="127.4" cy="326.1" r="2.2"/>
<circle cx="131.3" cy="329.8" r="2.2"/>
<circle cx="121.1" cy="316.7" r="2.2"/>
<circle cx="133.8" cy="327.6" r="2.2"/>
<circle cx="123.5" cy="318.0" r="2.2"/>
<circle cx="130.2" cy="323.3" r="2.2"/>
<circle cx="133.0" cy="329.3" r="2.2"/>
<circle cx="139.3" cy="307.4" r="2.2"/>
<circle cx="146.8" cy="294.3" r="2.2"/>
<circle cx="129.6" cy="327.5" r="2.2"/>
<circle cx="135.7" cy="317.6" r="2.2"/>
<circle cx="123.7" cy="305.5" r="2.2"/>
<circle cx="122.3" cy="294.4" r="2.2"/>
<circle cx="128.9" cy="321.5" r="2.2"/>
<circle cx="139.6" cy="317.0" r="2.2"/>
<circle cx="134.5" cy="326.2" r="2.2"/>
<circle cx="126.7" cy="317.7" r="2.2"/>
<circle cx="128.8" cy="326.3" r="2.2"/>
<circle cx="104.7" cy="286.5" r="2.2"/>
<circle cx="126.9" cy="321.6" r="2.2"/>
<circle cx="135.0" cy="318.6" r="2.2"/>
<circle cx="135.1" cy="319.1" r="2.2"/>
<circle cx="130.2" cy="329.8" r="2.2"/>
<circle cx="141.0" cy="294.9" r="2.2"/>
<circle cx="135.5" cy="318.7" r="2.2"/>
<circle cx="131.4" cy="329.6" r="2.2"/>
<circle cx="142.6" cy="296.2" r="2.2"/>
<circle cx="142.0" cy="291.9" r="2.2"/>
<circle cx="139.1" cy="308.7" r="2.2"/>
<circle cx="136.8" cy="311.2" r="2.2"/>
<circle cx="112.4" cy="295.4" r="2.2"/>
<circle cx="124.2" cy="298.3" r="2.2"/>
<circle cx="155.8" cy="313.0" r="2.2"/>
<circle cx="125.9" cy="303.7" r="2.2"/>
<circle cx="136.4" cy="319.8" r="2.2"/>
<circle cx="134.5" cy="320.4" r="2.2"/>
<circle cx="133.0" cy="328.9" r="2.2"/>
<circle cx="128.8" cy="318.0" r="2.2"/>
<circle cx="136.0" cy="316.0" r="2.2"/>
<circle cx="132.9" cy="329.2" r="2.2"/>
<circle cx="130.3" cy="324.7" r="2.2"/>
<circle cx="140.6" cy="294.8" r="2.2"/>
<circle cx="139.3" cy="294.3" r="2.2"/>
<circle cx="147.0" cy="296.9" r="2.2"/>
<circle cx="130.0" cy="323.2" r="2.2"/>
<circle cx="125.4" cy="302.2" r="2.2"/>
<circle cx="132.5" cy="329.1" r="2.2"/>
<circle cx="130.2" cy="326.8" r="2.2"/>
<circle cx="131.3" cy="330.6" r="2.2"/>
<circle cx="136.9" cy="310.5" r="2.2"/>
<circle cx="138.9" cy="318.9" r="2.2"/>
<circle cx="154.7" cy="301.0" r="2.2"/>
<circle cx="132.8" cy="327.8" r="2.2"/>
<circle cx="135.0" cy="318.2" r="2.2"/>
<circle cx="137.9" cy="318.2" r="2.2"/>
<circle cx="125.6" cy="318.3" r="2.2"/>
<circle cx="133.1" cy="328.5" r="2.2"/>
<circle cx="131.1" cy="330.1" r="2.2"/>
<circle cx="106.2" cy="292.6" r="2.2"/>
<circle cx="157.5" cy="306.3" r="2.2"/>
<circle cx="135.4" cy="320.0" r="2.2"/>
<circle cx="114.3" cy="286.5" r="2.2"/>
<circle cx="130.5" cy="326.7" r="2.2"/>
<circle cx="140.6" cy="322.0" r="2.2"/>
<circle cx="138.0" cy="314.4" r="2.2"/>
<circle cx="141.5" cy="324.6" r="2.2"/>
<circle cx="129.7" cy="329.1" r="2.2"/>
<circle cx="138.5" cy="322.1" r="2.2"/>
<circle cx="124.9" cy="318.8" r="2.2"/>
<circle cx="136.1" cy="320.1" r="2.2"/>
<circle cx="131.2" cy="329.4" r="2.2"/>
<circle cx="132.9" cy="329.3" r="2.2"/>
<circle cx="126.9" cy="309.0" r="2.2"/>
<circle cx="137.0" cy="313.8" r="2.2"/>
<circle cx="139.3" cy="307.7" r="2.2"/>
<circle cx="127.3" cy="308.3" r="2.2"/>
<circle cx="119.8" cy="307.6" r="2.2"/>
<circle cx="128.2" cy="323.7" r="2.2"/>
<circle cx="127.5" cy="313.1" r="2.2"/>
<circle cx="136.1" cy="320.5" r="2.2"/>
<circle cx="136.2" cy="326.2" r="2.2"/>
<circle cx="130.9" cy="327.0" r="2.2"/>
<circle cx="153.2" cy="301.6" r="2.2"/>
<circle cx="129.8" cy="321.4" r="2.2"/>
<circle cx="135.3" cy="319.6" r="2.2"/>
<circle cx="134.6" cy="320.6" r="2.2"/>
<circle cx="138.5" cy="305.3" r="2.2"/>
<circle cx="122.6" cy="289.9" r="2.2"/>
<circle cx="133.0" cy="326.7" r="2.2"/>
<circle cx="145.6" cy="322.7" r="2.2"/>
<circle cx="130.3" cy="326.8" r="2.2"/>
<circle cx="127.6" cy="323.0" r="2.2"/>
<circle cx="131.0" cy="329.6" r="2.2"/>
<circle cx="133.2" cy="327.4" r="2.2"/>
<circle cx="136.1" cy="319.2" r="2.2"/>
<circle cx="133.0" cy="330.6" r="2.2"/>
<circle cx="123.6" cy="302.3" r="2.2"/>
<circle cx="139.5" cy="314.9" r="2.2"/>
<circle cx="130.9" cy="328.1" r="2.2"/>
<circle cx="127.7" cy="325.2" r="2.2"/>
<circle cx="129.8" cy="327.9" r="2.2"/>
<circle cx="129.5" cy="321.1" r="2.2"/>
<circle cx="139.0" cy="301.6" r="2.2"/>
<circle cx="133.6" cy="326.9" r="2.2"/>
<circle cx="130.9" cy="327.4" r="2.2"/>
<circle cx="137.6" cy="318.7" r="2.2"/>
<circle cx="133.8" cy="326.9" r="2.2"/>
<circle cx="138.6" cy="300.4" r="2.2"/>
<circle cx="130.3" cy="329.3" r="2.2"/>
<circle cx="116.5" cy="308.7" r="2.2"/>
<circle cx="107.1" cy="293.4" r="2.2"/>
<circle cx="122.8" cy="302.5" r="2.2"/>
<circle cx="136.6" cy="311.0" r="2.2"/>
<circle cx="131.2" cy="329.3" r="2.2"/>
<circle cx="141.7" cy="310.0" r="2.2"/>
<circle cx="144.7" cy="294.4" r="2.2"/>
<circle cx="139.9" cy="301.6" r="2.2"/>
<circle cx="130.0" cy="321.0" r="2.2"/>
<circle cx="130.1" cy="323.1" r="2.2"/>
<circle cx="132.6" cy="329.7" r="2.2"/>
<circle cx="133.3" cy="326.7" r="2.2"/>
<circle cx="141.0" cy="317.0" r="2.2"/>
<circle cx="136.7" cy="306.3" r="2.2"/>
<circle cx="135.6" cy="316.3" r="2.2"/>
<circle cx="135.5" cy="314.0" r="2.2"/>
<circle cx="136.9" cy="311.4" r="2.2"/>
<circle cx="128.0" cy="316.6" r="2.2"/>
<circle cx="136.7" cy="319.5" r="2.2"/>
<circle cx="134.4" cy="328.1" r="2.2"/>
<circle cx="119.5" cy="299.3" r="2.2"/>
<circle cx="156.0" cy="312.7" r="2.2"/>
<circle cx="108.4" cy="279.7" r="2.2"/>
<circle cx="127.2" cy="317.9" r="2.2"/>
<circle cx="141.3" cy="288.1" r="2.2"/>
<circle cx="135.3" cy="324.8" r="2.2"/>
<circle cx="119.5" cy="321.6" r="2.2"/>
<circle cx="132.7" cy="330.8" r="2.2"/>
<circle cx="140.7" cy="296.0" r="2.2"/>
<circle cx="128.8" cy="323.4" r="2.2"/>
<circle cx="131.6" cy="330.5" r="2.2"/>
<circle cx="109.4" cy="288.2" r="2.2"/>
<circle cx="150.2" cy="301.9" r="2.2"/>
<circle cx="136.0" cy="314.8" r="2.2"/>
<circle cx="128.5" cy="326.8" r="2.2"/>
<circle cx="128.9" cy="327.3" r="2.2"/>
<circle cx="145.2" cy="290.1" r="2.2"/>
<circle cx="126.4" cy="309.4" r="2.2"/>
<circle cx="139.0" cy="300.0" r="2.2"/>
<circle cx="135.2" cy="321.9" r="2.2"/>
<circle cx="132.9" cy="329.0" r="2.2"/>
<circle cx="137.4" cy="325.4" r="2.2"/>
<circle cx="134.3" cy="324.9" r="2.2"/>
<circle cx="140.0" cy="291.4" r="2.2"/>
<circle cx="138.7" cy="301.9" r="2.2"/>
<circle cx="143.4" cy="277.9" r="2.2"/>
<circle cx="138.2" cy="311.3" r="2.2"/>
<circle cx="120.2" cy="307.8" r="2.2"/>
<circle cx="133.8" cy="326.8" r="2.2"/>
<circle cx="131.5" cy="328.8" r="2.2"/>
<circle cx="132.8" cy="330.9" r="2.2"/>
<circle cx="136.9" cy="311.6" r="2.2"/>
<circle cx="121.2" cy="296.1" r="2.2"/>
<circle cx="120.9" cy="284.2" r="2.2"/>
<circle cx="110.3" cy="297.2" r="2.2"/>
<circle cx="134.0" cy="326.8" r="2.2"/>
<circle cx="129.2" cy="317.7" r="2.2"/>
<circle cx="125.7" cy="315.8" r="2.2"/>
<circle cx="138.2" cy="315.9" r="2.2"/>
<circle cx="128.3" cy="320.4" r="2.2"/>
<circle cx="137.4" cy="323.7" r="2.2"/>
<circle cx="111.6" cy="290.5" r="2.2"/>
<circle cx="137.4" cy="310.3" r="2.2"/>
<circle cx="137.2" cy="323.5" r="2.2"/>
<circle cx="142.7" cy="295.6" r="2.2"/>
<circle cx="138.5" cy="299.4" r="2.2"/>
<circle cx="109.7" cy="291.0" r="2.2"/>
<circle cx="122.7" cy="294.1" r="2.2"/>
<circle cx="132.9" cy="330.5" r="2.2"/>
<circle cx="133.8" cy="323.2" r="2.2"/>
<circle cx="133.2" cy="326.4" r="2.2"/>
<circle cx="117.3" cy="307.1" r="2.2"/>
<circle cx="126.4" cy="301.1" r="2.2"/>
<circle cx="127.0" cy="305.4" r="2.2"/>
<circle cx="132.9" cy="327.3" r="2.2"/>
<circle cx="128.9" cy="315.6" r="2.2"/>
<circle cx="124.9" cy="314.8" r="2.2"/>
<circle cx="135.0" cy="324.1" r="2.2"/>
<circle cx="138.5" cy="300.0" r="2.2"/>
<circle cx="154.2" cy="285.5" r="2.2"/>
<circle cx="148.7" cy="302.7" r="2.2"/>
<circle cx="135.7" cy="320.9" r="2.2"/>
<circle cx="135.9" cy="313.3" r="2.2"/>
<circle cx="128.6" cy="327.8" r="2.2"/>
<circle cx="128.4" cy="322.3" r="2.2"/>
<circle cx="135.2" cy="318.3" r="2.2"/>
<circle cx="139.8" cy="300.9" r="2.2"/>
<circle cx="129.6" cy="321.3" r="2.2"/>
<circle cx="158.1" cy="306.8" r="2.2"/>
<circle cx="146.0" cy="316.1" r="2.2"/>
<circle cx="123.1" cy="311.9" r="2.2"/>
<circle cx="134.9" cy="326.8" r="2.2"/>
<circle cx="138.8" cy="301.9" r="2.2"/>
<circle cx="158.2" cy="302.4" r="2.2"/>
<circle cx="146.8" cy="295.4" r="2.2"/>
<circle cx="136.7" cy="314.9" r="2.2"/>
<circle cx="135.3" cy="319.9" r="2.2"/>
<circle cx="130.4" cy="325.3" r="2.2"/>
<circle cx="144.4" cy="312.4" r="2.2"/>
<circle cx="129.6" cy="319.7" r="2.2"/>
<circle cx="141.3" cy="291.9" r="2.2"/>
<circle cx="142.2" cy="309.3" r="2.2"/>
<circle cx="125.9" cy="310.4" r="2.2"/>
<circle cx="129.2" cy="327.4" r="2.2"/>
<circle cx="127.4" cy="314.9" r="2.2"/>
<circle cx="125.1" cy="310.0" r="2.2"/>
<circle cx="132.5" cy="330.3" r="2.2"/>
<circle cx="120.6" cy="289.1" r="2.2"/>
<circle cx="126.1" cy="308.8" r="2.2"/>
<circle cx="123.3" cy="289.1" r="2.2"/>
<circle cx="127.4" cy="315.5" r="2.2"/>
<circle cx="106.7" cy="301.2" r="2.2"/>
<circle cx="126.6" cy="311.2" r="2.2"/>
<circle cx="133.2" cy="326.8" r="2.2"/>
<circle cx="135.8" cy="314.2" r="2.2"/>
<circle cx="130.6" cy="325.2" r="2.2"/>
<circle cx="129.9" cy="328.5" r="2.2"/>
<circle cx="132.7" cy="330.8" r="2.2"/>
<circle cx="137.4" cy="317.7" r="2.2"/>
<circle cx="134.5" cy="322.9" r="2.2"/>
<circle cx="129.9" cy="326.6" r="2.2"/>
<circle cx="129.6" cy="321.6" r="2.2"/>
<circle cx="142.6" cy="284.8" r="2.2"/>
<circle cx="129.5" cy="320.6" r="2.2"/>
<circle cx="127.0" cy="312.5" r="2.2"/>
<circle cx="132.6" cy="328.3" r="2.2"/>
<circle cx="128.8" cy="326.2" r="2.2"/>
<circle cx="131.7" cy="330.9" r="2.2"/>
<circle cx="110.7" cy="294.6" r="2.2"/>
<circle cx="133.4" cy="325.3" r="2.2"/>
<circle cx="118.8" cy="302.1" r="2.2"/>
<circle cx="136.9" cy="313.9" r="2.2"/>
<circle cx="131.2" cy="329.7" r="2.2"/>
<circle cx="127.9" cy="317.2" r="2.2"/>
<circle cx="126.7" cy="303.3" r="2.2"/>
<circle cx="136.9" cy="311.2" r="2.2"/>
<circle cx="104.2" cy="307.4" r="2.2"/>
<circle cx="129.6" cy="320.6" r="2.2"/>
<circle cx="131.3" cy="330.8" r="2.2"/>
<circle cx="146.5" cy="301.7" r="2.2"/>
<circle cx="133.3" cy="326.0" r="2.2"/>
<circle cx="132.9" cy="330.1" r="2.2"/>
<circle cx="140.9" cy="290.7" r="2.2"/>
<circle cx="140.8" cy="303.7" r="2.2"/>
<circle cx="115.5" cy="304.3" r="2.2"/>
<circle cx="126.6" cy="316.2" r="2.2"/>
<circle cx="136.5" cy="321.9" r="2.2"/>
<circle cx="133.2" cy="326.7" r="2.2"/>
<circle cx="132.6" cy="330.0" r="2.2"/>
<circle cx="124.8" cy="297.4" r="2.2"/>
<circle cx="134.4" cy="324.5" r="2.2"/>
<circle cx="126.9" cy="307.2" r="2.2"/>
<circle cx="139.0" cy="313.2" r="2.2"/>
<circle cx="125.9" cy="307.0" r="2.2"/>
<circle cx="145.9" cy="279.0" r="2.2"/>
<circle cx="129.1" cy="323.7" r="2.2"/>
<circle cx="132.5" cy="330.4" r="2.2"/>
<circle cx="146.7" cy="302.9" r="2.2"/>
<circle cx="123.6" cy="311.0" r="2.2"/>
<circle cx="135.1" cy="322.6" r="2.2"/>
<circle cx="131.8" cy="330.1" r="2.2"/>
<circle cx="129.8" cy="326.6" r="2.2"/>
<circle cx="136.9" cy="311.8" r="2.2"/>
<circle cx="157.5" cy="238.4" r="2.2"/>
<circle cx="142.5" cy="277.8" r="2.2"/>
<circle cx="132.8" cy="330.6" r="2.2"/>
<circle cx="147.1" cy="291.0" r="2.2"/>
<circle cx="140.8" cy="304.0" r="2.2"/>
<circle cx="137.3" cy="318.1" r="2.2"/>
<circle cx="116.1" cy="307.9" r="2.2"/>
<circle cx="114.4" cy="291.8" r="2.2"/>
<circle cx="130.4" cy="327.4" r="2.2"/>
<circle cx="138.5" cy="317.8" r="2.2"/>
<circle cx="139.4" cy="308.8" r="2.2"/>
<circle cx="139.0" cy="313.4" r="2.2"/>
<circle cx="140.1" cy="312.3" r="2.2"/>
<circle cx="139.3" cy="298.8" r="2.2"/>
<circle cx="129.1" cy="324.7" r="2.2"/>
<circle cx="140.0" cy="311.1" r="2.2"/>
<circle cx="134.1" cy="322.3" r="2.2"/>
<circle cx="129.3" cy="324.0" r="2.2"/>
<circle cx="132.9" cy="329.3" r="2.2"/>
<circle cx="136.8" cy="314.9" r="2.2"/>
<circle cx="131.3" cy="327.8" r="2.2"/>
<circle cx="149.1" cy="287.7" r="2.2"/>
<circle cx="129.4" cy="323.3" r="2.2"/>
<circle cx="127.2" cy="306.6" r="2.2"/>
<circle cx="135.3" cy="324.0" r="2.2"/>
<circle cx="128.3" cy="326.8" r="2.2"/>
<circle cx="128.3" cy="316.7" r="2.2"/>
<circle cx="128.7" cy="322.5" r="2.2"/>
<circle cx="134.8" cy="327.6" r="2.2"/>
<circle cx="127.7" cy="315.6" r="2.2"/>
<circle cx="114.9" cy="313.5" r="2.2"/>
<circle cx="135.2" cy="317.0" r="2.2"/>
<circle cx="141.7" cy="289.2" r="2.2"/>
<circle cx="134.9" cy="324.3" r="2.2"/>
<circle cx="138.3" cy="303.5" r="2.2"/>
<circle cx="131.0" cy="329.3" r="2.2"/>
<circle cx="125.9" cy="304.3" r="2.2"/>
<circle cx="133.9" cy="324.2" r="2.2"/>
<circle cx="136.3" cy="323.4" r="2.2"/>
<circle cx="153.6" cy="295.1" r="2.2"/>
<circle cx="129.5" cy="321.5" r="2.2"/>
<circle cx="115.8" cy="274.3" r="2.2"/>
<circle cx="134.9" cy="326.9" r="2.2"/>
<circle cx="129.6" cy="321.4" r="2.2"/>
<circle cx="135.6" cy="322.7" r="2.2"/>
<circle cx="133.1" cy="329.1" r="2.2"/>
<circle cx="127.5" cy="313.6" r="2.2"/>
<circle cx="130.1" cy="324.3" r="2.2"/>
<circle cx="125.9" cy="326.7" r="2.2"/>
<circle cx="135.1" cy="323.1" r="2.2"/>
<circle cx="114.9" cy="294.4" r="2.2"/>
<circle cx="138.1" cy="310.7" r="2.2"/>
<circle cx="135.2" cy="316.3" r="2.2"/>
<circle cx="123.8" cy="307.3" r="2.2"/>
<circle cx="135.6" cy="313.5" r="2.2"/>
<circle cx="126.2" cy="309.2" r="2.2"/>
<circle cx="132.9" cy="326.6" r="2.2"/>
<circle cx="142.2" cy="319.9" r="2.2"/>
<circle cx="129.6" cy="323.1" r="2.2"/>
<circle cx="134.1" cy="328.2" r="2.2"/>
<circle cx="137.4" cy="308.9" r="2.2"/>
<circle cx="142.9" cy="284.4" r="2.2"/>
<circle cx="138.4" cy="319.3" r="2.2"/>
<circle cx="125.2" cy="316.7" r="2.2"/>
<circle cx="127.8" cy="313.0" r="2.2"/>
<circle cx="134.1" cy="324.9" r="2.2"/>
<circle cx="124.8" cy="307.3" r="2.2"/>
<circle cx="134.4" cy="323.6" r="2.2"/>
<circle cx="127.3" cy="321.5" r="2.2"/>
<circle cx="126.5" cy="309.7" r="2.2"/>
<circle cx="139.9" cy="308.4" r="2.2"/>
<circle cx="132.7" cy="329.1" r="2.2"/>
<circle cx="127.3" cy="311.5" r="2.2"/>
<circle cx="106.9" cy="294.6" r="2.2"/>
<circle cx="148.7" cy="289.7" r="2.2"/>
<circle cx="133.9" cy="326.3" r="2.2"/>
<circle cx="138.5" cy="303.2" r="2.2"/>
<circle cx="131.0" cy="329.4" r="2.2"/>
<circle cx="140.4" cy="318.6" r="2.2"/>
<circle cx="133.6" cy="327.9" r="2.2"/>
<circle cx="153.6" cy="276.5" r="2.2"/>
<circle cx="136.0" cy="320.2" r="2.2"/>
<circle cx="142.0" cy="287.1" r="2.2"/>
<circle cx="148.2" cy="300.1" r="2.2"/>
<circle cx="124.0" cy="304.9" r="2.2"/>
<circle cx="118.5" cy="278.0" r="2.2"/>
<circle cx="142.7" cy="306.1" r="2.2"/>
<circle cx="125.7" cy="312.8" r="2.2"/>
<circle cx="139.8" cy="306.8" r="2.2"/>
<circle cx="129.4" cy="323.6" r="2.2"/>
<circle cx="121.7" cy="319.9" r="2.2"/>
<circle cx="127.6" cy="313.8" r="2.2"/>
<circle cx="139.6" cy="321.2" r="2.2"/>
<circle cx="130.4" cy="323.6" r="2.2"/>
<circle cx="140.7" cy="321.5" r="2.2"/>
<circle cx="141.2" cy="302.7" r="2.2"/>
<circle cx="147.1" cy="307.9" r="2.2"/>
<circle cx="131.1" cy="330.0" r="2.2"/>
<circle cx="128.9" cy="322.0" r="2.2"/>
<circle cx="136.9" cy="314.8" r="2.2"/>
<circle cx="123.8" cy="304.3" r="2.2"/>
<circle cx="123.8" cy="311.9" r="2.2"/>
<circle cx="141.8" cy="308.9" r="2.2"/>
<circle cx="120.4" cy="310.6" r="2.2"/>
<circle cx="131.2" cy="327.8" r="2.2"/>
<circle cx="130.2" cy="325.2" r="2.2"/>
<circle cx="128.8" cy="325.5" r="2.2"/>
<circle cx="121.1" cy="315.6" r="2.2"/>
<circle cx="129.1" cy="322.5" r="2.2"/>
<circle cx="138.3" cy="313.6" r="2.2"/>
<circle cx="133.2" cy="327.2" r="2.2"/>
<circle cx="136.0" cy="321.6" r="2.2"/>
<circle cx="152.8" cy="303.7" r="2.2"/>
<circle cx="128.1" cy="317.5" r="2.2"/>
<circle cx="129.6" cy="319.6" r="2.2"/>
<circle cx="129.4" cy="318.9" r="2.2"/>
<circle cx="135.5" cy="313.0" r="2.2"/>
<circle cx="131.6" cy="330.7" r="2.2"/>
<circle cx="109.7" cy="298.8" r="2.2"/>
<circle cx="131.8" cy="330.6" r="2.2"/>
<circle cx="133.7" cy="324.0" r="2.2"/>
<circle cx="128.8" cy="317.9" r="2.2"/>
<circle cx="102.8" cy="287.1" r="2.2"/>
<circle cx="133.5" cy="329.0" r="2.2"/>
<circle cx="130.5" cy="329.7" r="2.2"/>
<circle cx="143.6" cy="271.8" r="2.2"/>
<circle cx="138.9" cy="299.5" r="2.2"/>
<circle cx="133.6" cy="326.5" r="2.2"/>
<circle cx="128.4" cy="319.1" r="2.2"/>
<circle cx="127.5" cy="310.5" r="2.2"/>
<circle cx="135.4" cy="326.2" r="2.2"/>
<circle cx="135.7" cy="319.5" r="2.2"/>
<circle cx="126.1" cy="307.1" r="2.2"/>
<circle cx="134.2" cy="321.1" r="2.2"/>
<circle cx="105.0" cy="297.8" r="2.2"/>
<circle cx="129.3" cy="318.7" r="2.2"/>
<circle cx="140.0" cy="298.2" r="2.2"/>
<circle cx="111.4" cy="291.1" r="2.2"/>
<circle cx="133.6" cy="324.3" r="2.2"/>
<circle cx="130.7" cy="325.3" r="2.2"/>
<circle cx="134.4" cy="323.3" r="2.2"/>
<circle cx="143.2" cy="299.0" r="2.2"/>
<circle cx="126.5" cy="320.6" r="2.2"/>
<circle cx="139.0" cy="314.4" r="2.2"/>
<circle cx="117.8" cy="269.3" r="2.2"/>
<circle cx="141.6" cy="302.8" r="2.2"/>
<circle cx="135.6" cy="327.1" r="2.2"/>
<circle cx="132.4" cy="330.4" r="2.2"/>
<circle cx="134.8" cy="321.8" r="2.2"/>
<circle cx="123.3" cy="300.7" r="2.2"/>
<circle cx="123.2" cy="292.7" r="2.2"/>
<circle cx="133.3" cy="329.8" r="2.2"/>
<circle cx="133.9" cy="329.1" r="2.2"/>
<circle cx="132.8" cy="329.0" r="2.2"/>
<circle cx="117.5" cy="284.5" r="2.2"/>
<circle cx="130.3" cy="326.6" r="2.2"/>
<circle cx="133.8" cy="327.1" r="2.2"/>
<circle cx="132.4" cy="329.8" r="2.2"/>
<circle cx="129.9" cy="322.3" r="2.2"/>
<circle cx="130.7" cy="326.2" r="2.2"/>
<circle cx="151.9" cy="290.4" r="2.2"/>
<circle cx="135.5" cy="316.4" r="2.2"/>
<circle cx="108.4" cy="272.0" r="2.2"/>
<circle cx="142.2" cy="297.7" r="2.2"/>
<circle cx="131.6" cy="329.9" r="2.2"/>
<circle cx="115.4" cy="292.2" r="2.2"/>
<circle cx="131.3" cy="329.3" r="2.2"/>
<circle cx="128.6" cy="315.4" r="2.2"/>
<circle cx="131.2" cy="328.6" r="2.2"/>
<circle cx="133.9" cy="325.1" r="2.2"/>
<circle cx="119.7" cy="300.9" r="2.2"/>
<circle cx="116.7" cy="305.5" r="2.2"/>
<circle cx="137.8" cy="320.7" r="2.2"/>
<circle cx="152.2" cy="255.0" r="2.2"/>
<circle cx="126.6" cy="325.5" r="2.2"/>
<circle cx="124.3" cy="290.8" r="2.2"/>
<circle cx="129.7" cy="322.9" r="2.2"/>
<circle cx="129.9" cy="324.3" r="2.2"/>
<circle cx="134.0" cy="320.4" r="2.2"/>
<circle cx="130.9" cy="327.6" r="2.2"/>
<circle cx="102.8" cy="309.1" r="2.2"/>
<circle cx="107.8" cy="297.5" r="2.2"/>
<circle cx="135.0" cy="323.1" r="2.2"/>
<circle cx="139.8" cy="302.2" r="2.2"/>
<circle cx="134.9" cy="322.0" r="2.2"/>
<circle cx="129.9" cy="322.7" r="2.2"/>
<circle cx="134.3" cy="320.6" r="2.2"/>
<circle cx="137.5" cy="313.5" r="2.2"/>
<circle cx="134.8" cy="325.3" r="2.2"/>
<circle cx="127.6" cy="313.6" r="2.2"/>
<circle cx="137.7" cy="322.1" r="2.2"/>
<circle cx="119.5" cy="290.3" r="2.2"/>
<circle cx="134.9" cy="318.6" r="2.2"/>
<circle cx="129.3" cy="320.4" r="2.2"/>
<circle cx="134.2" cy="326.8" r="2.2"/>
<circle cx="130.6" cy="324.2" r="2.2"/>
<circle cx="129.6" cy="323.5" r="2.2"/>
<circle cx="132.5" cy="330.7" r="2.2"/>
<circle cx="136.4" cy="317.3" r="2.2"/>
<circle cx="125.3" cy="299.7" r="2.2"/>
<circle cx="128.5" cy="320.8" r="2.2"/>
<circle cx="132.3" cy="330.1" r="2.2"/>
<circle cx="133.4" cy="328.5" r="2.2"/>
<circle cx="133.8" cy="323.5" r="2.2"/>
<circle cx="140.7" cy="317.2" r="2.2"/>
<circle cx="131.3" cy="330.2" r="2.2"/>
<circle cx="137.1" cy="307.4" r="2.2"/>
<circle cx="134.7" cy="322.3" r="2.2"/>
<circle cx="137.7" cy="304.5" r="2.2"/>
<circle cx="137.9" cy="309.3" r="2.2"/>
<circle cx="135.6" cy="314.2" r="2.2"/>
<circle cx="135.3" cy="318.2" r="2.2"/>
<circle cx="112.7" cy="319.4" r="2.2"/>
<circle cx="133.1" cy="326.2" r="2.2"/>
<circle cx="135.5" cy="318.7" r="2.2"/>
<circle cx="127.7" cy="325.1" r="2.2"/>
<circle cx="131.6" cy="329.5" r="2.2"/>
<circle cx="120.0" cy="308.7" r="2.2"/>
<circle cx="137.0" cy="310.8" r="2.2"/>
<circle cx="126.7" cy="313.6" r="2.2"/>
<circle cx="129.8" cy="325.2" r="2.2"/>
<circle cx="130.4" cy="325.9" r="2.2"/>
<circle cx="138.2" cy="301.9" r="2.2"/>
<circle cx="133.2" cy="327.9" r="2.2"/>
<circle cx="130.4" cy="324.7" r="2.2"/>
<circle cx="136.3" cy="315.9" r="2.2"/>
<circle cx="157.2" cy="303.9" r="2.2"/>
<circle cx="126.8" cy="309.5" r="2.2"/>
<circle cx="135.8" cy="326.6" r="2.2"/>
<circle cx="149.5" cy="302.8" r="2.2"/>
<circle cx="135.4" cy="320.9" r="2.2"/>
<circle cx="139.7" cy="324.0" r="2.2"/>
<circle cx="118.7" cy="280.5" r="2.2"/>
<circle cx="131.3" cy="331.0" r="2.2"/>
<circle cx="158.9" cy="299.4" r="2.2"/>
<circle cx="127.5" cy="314.2" r="2.2"/>
<circle cx="132.9" cy="329.4" r="2.2"/>
<circle cx="120.1" cy="310.8" r="2.2"/>
<circle cx="134.9" cy="322.6" r="2.2"/>
<circle cx="142.1" cy="304.5" r="2.2"/>
<circle cx="128.5" cy="316.1" r="2.2"/>
<circle cx="127.5" cy="321.8" r="2.2"/>
<circle cx="117.7" cy="287.9" r="2.2"/>
<circle cx="133.3" cy="326.9" r="2.2"/>
<circle cx="125.0" cy="297.8" r="2.2"/>
<circle cx="121.3" cy="323.1" r="2.2"/>
<circle cx="130.5" cy="326.8" r="2.2"/>
<circle cx="125.3" cy="308.8" r="2.2"/>
<circle cx="109.6" cy="301.4" r="2.2"/>
<circle cx="125.2" cy="308.2" r="2.2"/>
<circle cx="130.6" cy="326.7" r="2.2"/>
<circle cx="135.5" cy="323.6" r="2.2"/>
<circle cx="132.6" cy="329.1" r="2.2"/>
<circle cx="123.1" cy="294.7" r="2.2"/>
<circle cx="114.0" cy="279.8" r="2.2"/>
<circle cx="125.9" cy="306.8" r="2.2"/>
<circle cx="151.5" cy="300.2" r="2.2"/>
<circle cx="139.7" cy="299.3" r="2.2"/>
<circle cx="143.9" cy="304.0" r="2.2"/>
<circle cx="130.0" cy="324.9" r="2.2"/>
<circle cx="130.6" cy="327.2" r="2.2"/>
<circle cx="121.3" cy="302.5" r="2.2"/>
<circle cx="131.1" cy="329.1" r="2.2"/>
<circle cx="134.9" cy="317.0" r="2.2"/>
<circle cx="133.5" cy="326.8" r="2.2"/>
<circle cx="139.0" cy="308.5" r="2.2"/>
<circle cx="127.2" cy="316.7" r="2.2"/>
<circle cx="128.7" cy="322.9" r="2.2"/>
<circle cx="134.1" cy="324.9" r="2.2"/>
<circle cx="141.6" cy="292.0" r="2.2"/>
<circle cx="146.4" cy="293.1" r="2.2"/>
<circle cx="111.1" cy="303.9" r="2.2"/>
<circle cx="124.0" cy="309.3" r="2.2"/>
<circle cx="144.1" cy="306.1" r="2.2"/>
<circle cx="139.4" cy="296.5" r="2.2"/>
<circle cx="124.2" cy="292.7" r="2.2"/>
<circle cx="120.4" cy="306.7" r="2.2"/>
<circle cx="125.2" cy="316.1" r="2.2"/>
<circle cx="131.4" cy="330.8" r="2.2"/>
<circle cx="142.2" cy="306.1" r="2.2"/>
<circle cx="130.1" cy="322.7" r="2.2"/>
<circle cx="130.4" cy="322.8" r="2.2"/>
<circle cx="128.9" cy="322.0" r="2.2"/>
<circle cx="132.3" cy="330.0" r="2.2"/>
<circle cx="112.9" cy="297.5" r="2.2"/>
<circle cx="112.8" cy="296.7" r="2.2"/>
<circle cx="116.5" cy="278.0" r="2.2"/>
<circle cx="141.9" cy="309.4" r="2.2"/>
<circle cx="130.7" cy="327.9" r="2.2"/>
<circle cx="129.9" cy="324.8" r="2.2"/>
<circle cx="130.5" cy="326.5" r="2.2"/>
<circle cx="145.7" cy="293.7" r="2.2"/>
<circle cx="139.7" cy="320.2" r="2.2"/>
<circle cx="124.2" cy="289.9" r="2.2"/>
<circle cx="135.0" cy="317.3" r="2.2"/>
<circle cx="130.6" cy="326.2" r="2.2"/>
<circle cx="128.2" cy="321.4" r="2.2"/>
<circle cx="143.0" cy="282.5" r="2.2"/>
<circle cx="132.7" cy="327.6" r="2.2"/>
<circle cx="131.4" cy="329.7" r="2.2"/>
<circle cx="125.6" cy="321.8" r="2.2"/>
<circle cx="135.5" cy="314.0" r="2.2"/>
<circle cx="137.0" cy="319.3" r="2.2"/>
<circle cx="125.7" cy="299.4" r="2.2"/>
<circle cx="136.4" cy="314.8" r="2.2"/>
<circle cx="123.2" cy="317.7" r="2.2"/>
<circle cx="142.5" cy="291.1" r="2.2"/>
<circle cx="124.4" cy="313.0" r="2.2"/>
<circle cx="130.0" cy="329.0" r="2.2"/>
<circle cx="124.5" cy="306.3" r="2.2"/>
<circle cx="102.0" cy="271.1" r="2.2"/>
<circle cx="116.3" cy="257.0" r="2.2"/>
<circle cx="131.4" cy="330.1" r="2.2"/>
<circle cx="161.1" cy="301.3" r="2.2"/>
<circle cx="116.9" cy="288.5" r="2.2"/>
<circle cx="133.8" cy="324.1" r="2.2"/>
<circle cx="133.7" cy="328.5" r="2.2"/>
<circle cx="130.5" cy="327.9" r="2.2"/>
<circle cx="127.3" cy="323.3" r="2.2"/>
<circle cx="133.7" cy="325.5" r="2.2"/>
<circle cx="162.2" cy="315.6" r="2.2"/>
<circle cx="136.4" cy="319.6" r="2.2"/>
<circle cx="127.3" cy="313.4" r="2.2"/>
<circle cx="138.6" cy="309.5" r="2.2"/>
<circle cx="120.8" cy="303.3" r="2.2"/>
<circle cx="122.6" cy="298.8" r="2.2"/>
<circle cx="131.4" cy="328.7" r="2.2"/>
<circle cx="131.7" cy="331.0" r="2.2"/>
<circle cx="121.1" cy="275.0" r="2.2"/>
<circle cx="110.1" cy="284.0" r="2.2"/>
<circle cx="132.3" cy="330.3" r="2.2"/>
<circle cx="131.4" cy="329.4" r="2.2"/>
<circle cx="129.8" cy="328.3" r="2.2"/>
<circle cx="122.1" cy="287.4" r="2.2"/>
<circle cx="122.6" cy="291.1" r="2.2"/>
<circle cx="131.6" cy="330.5" r="2.2"/>
<circle cx="137.7" cy="313.2" r="2.2"/>
<circle cx="132.7" cy="329.0" r="2.2"/>
<circle cx="135.7" cy="313.3" r="2.2"/>
<circle cx="111.2" cy="277.1" r="2.2"/>
<circle cx="135.3" cy="322.5" r="2.2"/>
<circle cx="129.1" cy="320.3" r="2.2"/>
<circle cx="137.4" cy="320.5" r="2.2"/>
<circle cx="130.6" cy="328.6" r="2.2"/>
<circle cx="142.6" cy="288.4" r="2.2"/>
<circle cx="134.1" cy="325.1" r="2.2"/>
<circle cx="142.0" cy="292.6" r="2.2"/>
<circle cx="136.1" cy="315.1" r="2.2"/>
<circle cx="131.0" cy="330.4" r="2.2"/>
<circle cx="134.4" cy="324.5" r="2.2"/>
<circle cx="129.5" cy="324.5" r="2.2"/>
<circle cx="151.1" cy="298.9" r="2.2"/>
<circle cx="140.9" cy="312.5" r="2.2"/>
<circle cx="139.9" cy="298.2" r="2.2"/>
<circle cx="129.0" cy="327.0" r="2.2"/>
<circle cx="133.9" cy="322.4" r="2.2"/>
<circle cx="137.6" cy="305.3" r="2.2"/>
<circle cx="130.1" cy="328.1" r="2.2"/>
<circle cx="120.5" cy="302.7" r="2.2"/>
<circle cx="100.5" cy="218.0" r="2.2"/>
<circle cx="140.8" cy="304.5" r="2.2"/>
<circle cx="120.2" cy="295.4" r="2.2"/>
<circle cx="136.9" cy="323.9" r="2.2"/>
<circle cx="132.9" cy="329.9" r="2.2"/>
<circle cx="128.9" cy="323.0" r="2.2"/>
<circle cx="123.9" cy="307.5" r="2.2"/>
<circle cx="126.7" cy="322.8" r="2.2"/>
<circle cx="120.7" cy="273.1" r="2.2"/>
<circle cx="126.5" cy="306.4" r="2.2"/>
<circle cx="129.4" cy="320.3" r="2.2"/>
<circle cx="128.8" cy="320.6" r="2.2"/>
<circle cx="132.5" cy="330.1" r="2.2"/>
<circle cx="128.5" cy="320.0" r="2.2"/>
<circle cx="126.2" cy="310.2" r="2.2"/>
<circle cx="149.3" cy="310.2" r="2.2"/>
<circle cx="137.5" cy="313.1" r="2.2"/>
<circle cx="136.1" cy="321.4" r="2.2"/>
<circle cx="129.4" cy="320.9" r="2.2"/>
<circle cx="133.5" cy="328.3" r="2.2"/>
<circle cx="114.3" cy="315.6" r="2.2"/>
<circle cx="140.9" cy="311.6" r="2.2"/>
<circle cx="127.4" cy="321.5" r="2.2"/>
<circle cx="133.4" cy="329.2" r="2.2"/>
<circle cx="130.2" cy="326.7" r="2.2"/>
<circle cx="133.5" cy="329.2" r="2.2"/>
<circle cx="123.9" cy="321.0" r="2.2"/>
<circle cx="155.1" cy="282.7" r="2.2"/>
<circle cx="133.2" cy="328.4" r="2.2"/>
<circle cx="123.8" cy="298.7" r="2.2"/>
<circle cx="128.3" cy="326.3" r="2.2"/>
<circle cx="133.3" cy="324.7" r="2.2"/>
<circle cx="126.1" cy="313.1" r="2.2"/>
<circle cx="143.7" cy="290.6" r="2.2"/>
<circle cx="126.0" cy="312.0" r="2.2"/>
<circle cx="136.3" cy="311.3" r="2.2"/>
<circle cx="122.5" cy="314.4" r="2.2"/>
<circle cx="137.0" cy="308.9" r="2.2"/>
<circle cx="136.2" cy="315.6" r="2.2"/>
<circle cx="130.1" cy="325.9" r="2.2"/>
<circle cx="149.0" cy="270.5" r="2.2"/>
<circle cx="159.5" cy="291.9" r="2.2"/>
<circle cx="129.8" cy="326.0" r="2.2"/>
<circle cx="142.4" cy="291.3" r="2.2"/>
<circle cx="125.6" cy="318.2" r="2.2"/>
<circle cx="121.1" cy="306.0" r="2.2"/>
<circle cx="130.4" cy="327.7" r="2.2"/>
<circle cx="134.9" cy="322.9" r="2.2"/>
<circle cx="119.6" cy="316.4" r="2.2"/>
<circle cx="140.1" cy="319.1" r="2.2"/>
<circle cx="134.3" cy="323.6" r="2.2"/>
<circle cx="137.7" cy="319.1" r="2.2"/>
<circle cx="152.3" cy="306.2" r="2.2"/>
<circle cx="131.6" cy="329.5" r="2.2"/>
<circle cx="132.8" cy="328.9" r="2.2"/>
<circle cx="134.0" cy="323.8" r="2.2"/>
<circle cx="127.9" cy="315.8" r="2.2"/>
<circle cx="133.6" cy="324.8" r="2.2"/>
<circle cx="135.5" cy="322.6" r="2.2"/>
<circle cx="128.7" cy="327.5" r="2.2"/>
<circle cx="124.5" cy="302.6" r="2.2"/>
<circle cx="131.7" cy="329.6" r="2.2"/>
<circle cx="141.1" cy="320.0" r="2.2"/>
<circle cx="126.7" cy="311.4" r="2.2"/>
<circle cx="145.8" cy="293.2" r="2.2"/>
<circle cx="131.4" cy="328.6" r="2.2"/>
<circle cx="145.7" cy="288.4" r="2.2"/>
<circle cx="128.5" cy="323.9" r="2.2"/>
<circle cx="120.6" cy="308.9" r="2.2"/>
<circle cx="132.6" cy="329.0" r="2.2"/>
<circle cx="139.5" cy="297.2" r="2.2"/>
<circle cx="134.0" cy="327.0" r="2.2"/>
<circle cx="145.1" cy="302.8" r="2.2"/>
<circle cx="120.6" cy="308.5" r="2.2"/>
<circle cx="126.8" cy="306.3" r="2.2"/>
<circle cx="136.1" cy="320.4" r="2.2"/>
<circle cx="117.5" cy="295.4" r="2.2"/>
<circle cx="129.5" cy="323.5" r="2.2"/>
<circle cx="140.3" cy="293.6" r="2.2"/>
<circle cx="130.5" cy="323.5" r="2.2"/>
<circle cx="124.8" cy="302.8" r="2.2"/>
<circle cx="130.2" cy="328.5" r="2.2"/>
<circle cx="137.4" cy="315.4" r="2.2"/>
<circle cx="135.0" cy="324.2" r="2.2"/>
<circle cx="157.0" cy="299.5" r="2.2"/>
<circle cx="130.4" cy="325.9" r="2.2"/>
<circle cx="139.1" cy="307.4" r="2.2"/>
<circle cx="118.6" cy="282.7" r="2.2"/>
<circle cx="130.1" cy="325.5" r="2.2"/>
<circle cx="125.5" cy="321.7" r="2.2"/>
<circle cx="140.0" cy="311.5" r="2.2"/>
<circle cx="109.6" cy="313.3" r="2.2"/>
<circle cx="139.0" cy="306.7" r="2.2"/>
<circle cx="132.4" cy="330.7" r="2.2"/>
<circle cx="127.8" cy="314.8" r="2.2"/>
<circle cx="127.3" cy="314.0" r="2.2"/>
<circle cx="131.7" cy="330.9" r="2.2"/>
<circle cx="130.3" cy="325.9" r="2.2"/>
<circle cx="139.1" cy="307.6" r="2.2"/>
<circle cx="131.5" cy="329.5" r="2.2"/>
<circle cx="124.5" cy="306.2" r="2.2"/>
<circle cx="139.1" cy="315.5" r="2.2"/>
<circle cx="133.4" cy="325.4" r="2.2"/>
<circle cx="112.1" cy="300.3" r="2.2"/>
<circle cx="129.1" cy="322.6" r="2.2"/>
<circle cx="133.3" cy="326.1" r="2.2"/>
<circle cx="147.7" cy="295.6" r="2.2"/>
<circle cx="133.7" cy="326.3" r="2.2"/>
<circle cx="122.2" cy="323.6" r="2.2"/>
<circle cx="124.6" cy="292.8" r="2.2"/>
<circle cx="118.5" cy="303.5" r="2.2"/>
<circle cx="137.8" cy="321.9" r="2.2"/>
<circle cx="129.2" cy="325.0" r="2.2"/>
<circle cx="102.2" cy="305.8" r="2.2"/>
<circle cx="140.0" cy="293.3" r="2.2"/>
<circle cx="124.2" cy="316.3" r="2.2"/>
<circle cx="126.2" cy="308.7" r="2.2"/>
<circle cx="125.0" cy="312.0" r="2.2"/>
<circle cx="130.3" cy="324.1" r="2.2"/>
<circle cx="133.1" cy="329.6" r="2.2"/>
<circle cx="133.1" cy="325.8" r="2.2"/>
<circle cx="122.2" cy="283.5" r="2.2"/>
<circle cx="138.0" cy="313.3" r="2.2"/>
<circle cx="143.6" cy="306.0" r="2.2"/>
<circle cx="128.3" cy="322.5" r="2.2"/>
<circle cx="134.2" cy="323.9" r="2.2"/>
<circle cx="126.4" cy="315.2" r="2.2"/>
<circle cx="138.7" cy="325.1" r="2.2"/>
<circle cx="129.4" cy="324.5" r="2.2"/>
<circle cx="138.4" cy="309.0" r="2.2"/>
<circle cx="131.1" cy="328.1" r="2.2"/>
<circle cx="128.3" cy="318.8" r="2.2"/>
<circle cx="133.1" cy="328.0" r="2.2"/>
<circle cx="125.0" cy="295.4" r="2.2"/>
<circle cx="126.1" cy="304.4" r="2.2"/>
<circle cx="132.7" cy="328.5" r="2.2"/>
<circle cx="115.5" cy="307.0" r="2.2"/>
<circle cx="130.3" cy="327.0" r="2.2"/>
<circle cx="122.5" cy="283.3" r="2.2"/>
<circle cx="126.7" cy="316.6" r="2.2"/>
<circle cx="150.2" cy="286.3" r="2.2"/>
<circle cx="127.9" cy="311.6" r="2.2"/>
<circle cx="135.1" cy="316.7" r="2.2"/>
<circle cx="124.3" cy="309.4" r="2.2"/>
<circle cx="127.0" cy="313.4" r="2.2"/>
<circle cx="134.7" cy="323.5" r="2.2"/>
<circle cx="143.0" cy="298.2" r="2.2"/>
<circle cx="134.9" cy="320.6" r="2.2"/>
<circle cx="130.4" cy="326.4" r="2.2"/>
<circle cx="142.2" cy="322.9" r="2.2"/>
<circle cx="134.4" cy="320.4" r="2.2"/>
<circle cx="128.5" cy="317.4" r="2.2"/>
<circle cx="120.2" cy="300.6" r="2.2"/>
<circle cx="136.6" cy="316.4" r="2.2"/>
<circle cx="129.4" cy="321.9" r="2.2"/>
<circle cx="147.4" cy="282.8" r="2.2"/>
<circle cx="133.9" cy="323.7" r="2.2"/>
<circle cx="134.4" cy="323.9" r="2.2"/>
<circle cx="124.4" cy="293.9" r="2.2"/>
<circle cx="115.3" cy="282.7" r="2.2"/>
<circle cx="133.5" cy="323.3" r="2.2"/>
<circle cx="131.0" cy="327.8" r="2.2"/>
<circle cx="135.3" cy="319.0" r="2.2"/>
<circle cx="137.2" cy="313.2" r="2.2"/>
<circle cx="138.5" cy="322.3" r="2.2"/>
<circle cx="131.1" cy="327.5" r="2.2"/>
<circle cx="124.6" cy="316.8" r="2.2"/>
<circle cx="139.0" cy="319.3" r="2.2"/>
<circle cx="130.5" cy="325.8" r="2.2"/>
<circle cx="132.5" cy="328.7" r="2.2"/>
<circle cx="116.5" cy="296.1" r="2.2"/>
<circle cx="117.5" cy="310.1" r="2.2"/>
<circle cx="130.7" cy="330.9" r="2.2"/>
<circle cx="128.6" cy="327.2" r="2.2"/>
<circle cx="130.8" cy="329.3" r="2.2"/>
<circle cx="128.9" cy="316.9" r="2.2"/>
<circle cx="136.8" cy="319.1" r="2.2"/>
<circle cx="130.9" cy="328.9" r="2.2"/>
<circle cx="152.4" cy="306.8" r="2.2"/>
<circle cx="131.7" cy="330.2" r="2.2"/>
<circle cx="125.0" cy="309.1" r="2.2"/>
<circle cx="126.1" cy="300.9" r="2.2"/>
<circle cx="123.5" cy="322.9" r="2.2"/>
<circle cx="136.9" cy="310.2" r="2.2"/>
<circle cx="129.8" cy="322.4" r="2.2"/>
<circle cx="102.4" cy="286.0" r="2.2"/>
<circle cx="134.1" cy="323.7" r="2.2"/>
<circle cx="122.8" cy="320.0" r="2.2"/>
<circle cx="138.3" cy="321.8" r="2.2"/>
<circle cx="149.7" cy="304.4" r="2.2"/>
<circle cx="125.6" cy="301.1" r="2.2"/>
<circle cx="134.9" cy="322.2" r="2.2"/>
<circle cx="135.0" cy="321.4" r="2.2"/>
<circle cx="134.7" cy="321.1" r="2.2"/>
<circle cx="137.6" cy="317.0" r="2.2"/>
<circle cx="141.4" cy="297.5" r="2.2"/>
<circle cx="130.8" cy="327.5" r="2.2"/>
<circle cx="120.8" cy="315.5" r="2.2"/>
<circle cx="113.3" cy="294.7" r="2.2"/>
<circle cx="133.3" cy="329.5" r="2.2"/>
<circle cx="129.8" cy="325.7" r="2.2"/>
<circle cx="140.5" cy="302.9" r="2.2"/>
<circle cx="132.4" cy="330.2" r="2.2"/>
<circle cx="136.4" cy="313.8" r="2.2"/>
<circle cx="119.4" cy="274.7" r="2.2"/>
<circle cx="127.3" cy="318.6" r="2.2"/>
<circle cx="138.5" cy="311.0" r="2.2"/>
<circle cx="133.7" cy="326.3" r="2.2"/>
<circle cx="136.8" cy="309.5" r="2.2"/>
<circle cx="136.5" cy="317.0" r="2.2"/>
<circle cx="118.8" cy="307.7" r="2.2"/>
<circle cx="140.4" cy="312.6" r="2.2"/>
<circle cx="133.1" cy="326.4" r="2.2"/>
<circle cx="132.4" cy="329.9" r="2.2"/>
<circle cx="129.4" cy="321.8" r="2.2"/>
<circle cx="133.4" cy="326.2" r="2.2"/>
<circle cx="123.3" cy="300.3" r="2.2"/>
<circle cx="137.3" cy="317.7" r="2.2"/>
<circle cx="131.3" cy="329.8" r="2.2"/>
<circle cx="138.6" cy="297.2" r="2.2"/>
<circle cx="133.8" cy="324.9" r="2.2"/>
<circle cx="133.0" cy="326.6" r="2.2"/>
<circle cx="138.1" cy="303.0" r="2.2"/>
<circle cx="130.5" cy="323.4" r="2.2"/>
<circle cx="136.4" cy="314.8" r="2.2"/>
<circle cx="143.9" cy="310.9" r="2.2"/>
<circle cx="115.3" cy="308.6" r="2.2"/>
<circle cx="124.8" cy="300.7" r="2.2"/>
<circle cx="134.7" cy="320.1" r="2.2"/>
<circle cx="130.5" cy="327.4" r="2.2"/>
<circle cx="120.7" cy="282.0" r="2.2"/>
<circle cx="126.0" cy="305.1" r="2.2"/>
<circle cx="133.1" cy="326.8" r="2.2"/>
<circle cx="132.3" cy="330.5" r="2.2"/>
<circle cx="134.2" cy="322.1" r="2.2"/>
<circle cx="139.5" cy="301.2" r="2.2"/>
<circle cx="133.6" cy="326.6" r="2.2"/>
<circle cx="140.5" cy="319.7" r="2.2"/>
<circle cx="144.8" cy="300.4" r="2.2"/>
<circle cx="124.0" cy="312.2" r="2.2"/>
<circle cx="126.0" cy="310.4" r="2.2"/>
<circle cx="138.7" cy="308.9" r="2.2"/>
<circle cx="129.4" cy="319.9" r="2.2"/>
<circle cx="132.9" cy="329.0" r="2.2"/>
<circle cx="147.4" cy="296.7" r="2.2"/>
<circle cx="113.7" cy="284.7" r="2.2"/>
<circle cx="143.2" cy="310.1" r="2.2"/>
<circle cx="133.6" cy="326.9" r="2.2"/>
<circle cx="131.5" cy="329.0" r="2.2"/>
<circle cx="125.8" cy="312.5" r="2.2"/>
<circle cx="122.9" cy="319.0" r="2.2"/>
<circle cx="134.0" cy="327.1" r="2.2"/>
<circle cx="117.2" cy="288.6" r="2.2"/>
<circle cx="130.9" cy="329.5" r="2.2"/>
<circle cx="136.2" cy="315.2" r="2.2"/>
<circle cx="145.3" cy="280.0" r="2.2"/>
<circle cx="134.7" cy="323.7" r="2.2"/>
<circle cx="137.7" cy="320.2" r="2.2"/>
<circle cx="130.6" cy="325.9" r="2.2"/>
<circle cx="140.8" cy="320.2" r="2.2"/>
<circle cx="163.4" cy="289.1" r="2.2"/>
<circle cx="140.0" cy="307.2" r="2.2"/>
<circle cx="126.8" cy="313.8" r="2.2"/>
<circle cx="140.9" cy="315.4" r="2.2"/>
<circle cx="133.0" cy="329.0" r="2.2"/>
<circle cx="133.3" cy="327.5" r="2.2"/>
<circle cx="141.8" cy="297.3" r="2.2"/>
<circle cx="104.9" cy="290.8" r="2.2"/>
<circle cx="130.5" cy="329.7" r="2.2"/>
<circle cx="133.0" cy="328.1" r="2.2"/>
<circle cx="148.3" cy="295.3" r="2.2"/>
<circle cx="134.6" cy="324.4" r="2.2"/>
<circle cx="130.2" cy="323.4" r="2.2"/>
<circle cx="129.6" cy="320.4" r="2.2"/>
<circle cx="132.5" cy="329.7" r="2.2"/>
<circle cx="145.6" cy="291.1" r="2.2"/>
<circle cx="121.6" cy="308.8" r="2.2"/>
<circle cx="105.9" cy="292.8" r="2.2"/>
<circle cx="136.0" cy="311.8" r="2.2"/>
<circle cx="134.0" cy="321.3" r="2.2"/>
<circle cx="124.7" cy="307.9" r="2.2"/>
<circle cx="133.4" cy="325.0" r="2.2"/>
<circle cx="146.4" cy="295.8" r="2.2"/>
<circle cx="124.3" cy="303.3" r="2.2"/>
<circle cx="134.1" cy="323.3" r="2.2"/>
<circle cx="141.7" cy="319.5" r="2.2"/>
<circle cx="144.5" cy="293.3" r="2.2"/>
<circle cx="131.8" cy="330.7" r="2.2"/>
<circle cx="146.1" cy="299.1" r="2.2"/>
<circle cx="129.3" cy="327.8" r="2.2"/>
<circle cx="119.8" cy="298.0" r="2.2"/>
<circle cx="126.9" cy="313.2" r="2.2"/>
<circle cx="139.4" cy="306.9" r="2.2"/>
<circle cx="135.3" cy="329.2" r="2.2"/>
<circle cx="125.1" cy="306.0" r="2.2"/>
<circle cx="127.0" cy="305.4" r="2.2"/>
<circle cx="131.7" cy="330.6" r="2.2"/>
<circle cx="129.2" cy="320.0" r="2.2"/>
<circle cx="120.3" cy="307.0" r="2.2"/>
<circle cx="134.5" cy="324.0" r="2.2"/>
<circle cx="142.9" cy="296.8" r="2.2"/>
<circle cx="136.4" cy="318.7" r="2.2"/>
<circle cx="134.3" cy="320.8" r="2.2"/>
<circle cx="109.5" cy="287.6" r="2.2"/>
<circle cx="126.1" cy="309.8" r="2.2"/>
<circle cx="108.5" cy="270.8" r="2.2"/>
<circle cx="129.4" cy="328.4" r="2.2"/>
<circle cx="125.4" cy="306.6" r="2.2"/>
<circle cx="128.5" cy="318.7" r="2.2"/>
<circle cx="138.1" cy="310.5" r="2.2"/>
<circle cx="110.8" cy="288.3" r="2.2"/>
<circle cx="139.8" cy="300.1" r="2.2"/>
<circle cx="130.4" cy="330.1" r="2.2"/>
<circle cx="139.6" cy="293.9" r="2.2"/>
<circle cx="114.8" cy="272.1" r="2.2"/>
<circle cx="128.0" cy="311.5" r="2.2"/>
<circle cx="127.7" cy="314.4" r="2.2"/>
<circle cx="135.9" cy="325.5" r="2.2"/>
<circle cx="133.7" cy="326.9" r="2.2"/>
</g>
<g fill="#36ba26" fill-opacity="0.58">
<circle cx="97.5" cy="244.4" r="2.2"/>
<circle cx="90.5" cy="251.4" r="2.2"/>
<circle cx="93.7" cy="252.1" r="2.2"/>
<circle cx="96.2" cy="252.7" r="2.2"/>
<circle cx="90.5" cy="255.9" r="2.2"/>
<circle cx="98.1" cy="255.2" r="2.2"/>
<circle cx="92.8" cy="259.3" r="2.2"/>
<circle cx="83.3" cy="261.9" r="2.2"/>
<circle cx="76.9" cy="261.9" r="2.2"/>
<circle cx="73.3" cy="264.8" r="2.2"/>
<circle cx="96.8" cy="262.9" r="2.2"/>
<circle cx="84.8" cy="267.3" r="2.2"/>
<circle cx="88" cy="267.3" r="2.2"/>
<circle cx="91.1" cy="268.6" r="2.2"/>
<circle cx="94.3" cy="266.7" r="2.2"/>
<circle cx="98.1" cy="268.6" r="2.2"/>
<circle cx="95" cy="273" r="2.2"/>
<circle cx="98.1" cy="274.3" r="2.2"/>
<circle cx="74" cy="276.2" r="2.2"/>
<circle cx="82.9" cy="275.6" r="2.2"/>
<circle cx="82.9" cy="278.8" r="2.2"/>
<circle cx="93.7" cy="278.1" r="2.2"/>
<circle cx="88" cy="280.7" r="2.2"/>
<circle cx="91.1" cy="281.9" r="2.2"/>
<circle cx="94.3" cy="281.3" r="2.2"/>
<circle cx="97.5" cy="280" r="2.2"/>
<circle cx="81" cy="283.8" r="2.2"/>
<circle cx="89.2" cy="283.8" r="2.2"/>
<circle cx="76.5" cy="286.4" r="2.2"/>
<circle cx="92.4" cy="285.1" r="2.2"/>
<circle cx="96.2" cy="285.7" r="2.2"/>
<circle cx="71.4" cy="289.8" r="2.2"/>
<circle cx="83.5" cy="290.6" r="2.2"/>
<circle cx="87.3" cy="288.9" r="2.2"/>
<circle cx="90.5" cy="288.9" r="2.2"/>
<circle cx="93.7" cy="290.6" r="2.2"/>
<circle cx="97.5" cy="290.2" r="2.2"/>
<circle cx="86.7" cy="293.4" r="2.2"/>
<circle cx="90.5" cy="294" r="2.2"/>
<circle cx="94.3" cy="293.4" r="2.2"/>
<circle cx="98.1" cy="293.4" r="2.2"/>
<circle cx="91.8" cy="296.5" r="2.2"/>
<circle cx="95.6" cy="297.2" r="2.2"/>
<circle cx="98.1" cy="298.5" r="2.2"/>
<circle cx="94.3" cy="299.7" r="2.2"/>
<circle cx="98.1" cy="302.3" r="2.2"/>
<circle cx="98.8" cy="304.2" r="2.2"/>
<circle cx="81" cy="212.7" r="2.2"/>
<circle cx="97" cy="229.5" r="2.2"/>
<circle cx="97.6" cy="244.8" r="2.2"/>
<circle cx="48.4" cy="258.4" r="2.2"/>
<circle cx="28.7" cy="267.8" r="2.2"/>
<circle cx="65.1" cy="266" r="2.2"/>
<circle cx="99" cy="250" r="2.2"/>
<circle cx="99.2" cy="258" r="2.2"/>
<circle cx="99" cy="263" r="2.2"/>
<circle cx="99.3" cy="270" r="2.2"/>
<circle cx="99" cy="285" r="2.2"/>
<circle cx="99.2" cy="296" r="2.2"/>
<circle cx="96" cy="300.5" r="2.2"/>
<circle cx="92" cy="302.5" r="2.2"/>
<circle cx="97" cy="306" r="2.2"/>
<circle cx="95.5" cy="288" r="2.2"/>
<circle cx="89" cy="276" r="2.2"/>
<circle cx="86" cy="286" r="2.2"/>
<circle cx="95" cy="270" r="2.2"/>
<circle cx="92" cy="264" r="2.2"/>
<circle cx="87" cy="257" r="2.2"/>
<circle cx="99.4" cy="279" r="2.2"/>
<circle cx="99.5" cy="291.5" r="2.2"/>
</g>
<g fill="#f8340f" fill-opacity="0.64">
<circle cx="173.3" cy="239.4" r="2.2"/>
<circle cx="175.2" cy="239" r="2.2"/>
<circle cx="186.3" cy="241.9" r="2.2"/>
<circle cx="166.7" cy="242.8" r="2.2"/>
<circle cx="176.2" cy="245.7" r="2.2"/>
<circle cx="179.5" cy="248.6" r="2.2"/>
<circle cx="178.3" cy="251.5" r="2.2"/>
<circle cx="168.2" cy="252.5" r="2.2"/>
<circle cx="164.5" cy="251.8" r="2.2"/>
<circle cx="173.7" cy="253" r="2.2"/>
<circle cx="171.8" cy="256.2" r="2.2"/>
<circle cx="179.1" cy="257.6" r="2.2"/>
<circle cx="166.7" cy="259.1" r="2.2"/>
<circle cx="168.9" cy="260.5" r="2.2"/>
<circle cx="172.5" cy="259.8" r="2.2"/>
<circle cx="182" cy="262.7" r="2.2"/>
<circle cx="179.1" cy="264.2" r="2.2"/>
<circle cx="183.4" cy="264.9" r="2.2"/>
<circle cx="174.7" cy="264.2" r="2.2"/>
<circle cx="170.4" cy="265.6" r="2.2"/>
<circle cx="166" cy="267.1" r="2.2"/>
<circle cx="176.2" cy="268.5" r="2.2"/>
<circle cx="181.3" cy="269.2" r="2.2"/>
<circle cx="167.4" cy="270" r="2.2"/>
<circle cx="171.8" cy="270.7" r="2.2"/>
<circle cx="198.8" cy="265.4" r="2.2"/>
<circle cx="184.9" cy="272.9" r="2.2"/>
<circle cx="175.4" cy="272.9" r="2.2"/>
<circle cx="165.3" cy="272.9" r="2.2"/>
<circle cx="169.6" cy="274.3" r="2.2"/>
<circle cx="178.3" cy="275.1" r="2.2"/>
<circle cx="168.2" cy="277.2" r="2.2"/>
<circle cx="176.2" cy="277.2" r="2.2"/>
<circle cx="180.5" cy="281.6" r="2.2"/>
<circle cx="173.3" cy="280.9" r="2.2"/>
<circle cx="166" cy="280.1" r="2.2"/>
<circle cx="176.9" cy="283.8" r="2.2"/>
<circle cx="165.3" cy="284.5" r="2.2"/>
<circle cx="169.6" cy="286" r="2.2"/>
<circle cx="166.7" cy="288.1" r="2.2"/>
<circle cx="175.4" cy="288.9" r="2.2"/>
<circle cx="180.5" cy="289.6" r="2.2"/>
<circle cx="171.1" cy="290.3" r="2.2"/>
<circle cx="187.1" cy="291.8" r="2.2"/>
<circle cx="165.3" cy="291.8" r="2.2"/>
<circle cx="169.6" cy="294" r="2.2"/>
<circle cx="174" cy="295.4" r="2.2"/>
<circle cx="179.1" cy="294" r="2.2"/>
<circle cx="166.7" cy="296.9" r="2.2"/>
<circle cx="179.8" cy="299" r="2.2"/>
<circle cx="171.1" cy="298.3" r="2.2"/>
<circle cx="168.9" cy="304.1" r="2.2"/>
<circle cx="165.3" cy="299.8" r="2.2"/>
<circle cx="166" cy="194.8" r="2.2"/>
<circle cx="179.7" cy="197.8" r="2.2"/>
<circle cx="164.7" cy="224.5" r="2.2"/>
<circle cx="217.3" cy="291.4" r="2.2"/>
<circle cx="165" cy="262" r="2.2"/>
<circle cx="167" cy="265" r="2.2"/>
<circle cx="170" cy="280" r="2.2"/>
<circle cx="165.5" cy="277" r="2.2"/>
<circle cx="168" cy="283" r="2.2"/>
<circle cx="172" cy="285" r="2.2"/>
<circle cx="165" cy="289" r="2.2"/>
<circle cx="167.5" cy="292" r="2.2"/>
<circle cx="170" cy="297" r="2.2"/>
<circle cx="165" cy="302" r="2.2"/>
<circle cx="167" cy="300" r="2.2"/>
<circle cx="165" cy="295" r="2.2"/>
<circle cx="168" cy="290" r="2.2"/>
<circle cx="172" cy="293" r="2.2"/>
<circle cx="166" cy="285" r="2.2"/>
<circle cx="169" cy="270" r="2.2"/>
<circle cx="165" cy="269" r="2.2"/>
<circle cx="170" cy="262" r="2.2"/>
<circle cx="174" cy="258" r="2.2"/>
<circle cx="165" cy="256" r="2.2"/>
<circle cx="165" cy="246" r="2.2"/>
</g>
<line x1="100.1" y1="189" x2="100.1" y2="340.3" stroke="#262626" stroke-width="1.0" stroke-dasharray="3.2,1.6,1,1.6"/>
<line x1="163.8" y1="189" x2="163.8" y2="340.3" stroke="#262626" stroke-width="1.0" stroke-dasharray="3.2,1.6,1,1.6"/>
<line x1="18.7" y1="311.2" x2="225.5" y2="311.2" stroke="#262626" stroke-width="1.0" stroke-dasharray="3.2,1.6,1,1.6"/>
<text x="37" y="264" font-size="7.6" font-weight="bold" text-anchor="start" fill="#222" stroke="#222" textLength="24.3" lengthAdjust="spacingAndGlyphs">CXCL1</text>
<text x="21" y="273.7" font-size="7.6" font-weight="bold" text-anchor="start" fill="#222" stroke="#222" textLength="24" lengthAdjust="spacingAndGlyphs">CXCL8</text>
<text x="54.2" y="271.6" font-size="7.6" font-weight="bold" text-anchor="start" fill="#222" stroke="#222" textLength="24.5" lengthAdjust="spacingAndGlyphs">CXCL6</text>
<text x="188.8" y="271.2" font-size="7.6" font-weight="bold" text-anchor="start" fill="#222" stroke="#222" textLength="19.7" lengthAdjust="spacingAndGlyphs">TBX5</text>
<text x="190.3" y="300.4" font-size="7.6" font-weight="bold" text-anchor="start" fill="#222" stroke="#222" textLength="35" lengthAdjust="spacingAndGlyphs">CCDC152</text>
<text x="238" y="186.6" font-size="8.7" font-weight="bold" text-anchor="start" fill="#000" stroke="#000">D</text>
<rect x="241.7" y="233" width="7.19" height="7.2" fill="#f8d8dc" stroke="#a09a9a" stroke-width="0.6"/>
<rect x="248.89" y="233" width="7.19" height="7.2" fill="#9b93c8" stroke="#a09a9a" stroke-width="0.6"/>
<rect x="256.08" y="233" width="7.19" height="7.2" fill="#f4a0a0" stroke="#a09a9a" stroke-width="0.6"/>
<rect x="263.27" y="233" width="7.19" height="7.2" fill="#eeeaf4" stroke="#a09a9a" stroke-width="0.6"/>
<rect x="270.46" y="233" width="7.19" height="7.2" fill="#ecebf5" stroke="#a09a9a" stroke-width="0.6"/>
<rect x="277.65" y="233" width="7.19" height="7.2" fill="#9088c0" stroke="#a09a9a" stroke-width="0.6"/>
<rect x="284.84" y="233" width="7.19" height="7.2" fill="#8e86c0" stroke="#a09a9a" stroke-width="0.6"/>
<rect x="292.03" y="233" width="7.19" height="7.2" fill="#a49ccc" stroke="#a09a9a" stroke-width="0.6"/>
<rect x="299.22" y="233" width="7.19" height="7.2" fill="#8a82bc" stroke="#a09a9a" stroke-width="0.6"/>
<rect x="306.41" y="233" width="7.19" height="7.2" fill="#d4d0e8" stroke="#a09a9a" stroke-width="0.6"/>
<rect x="313.6" y="233" width="7.19" height="7.2" fill="#f8d8dc" stroke="#a09a9a" stroke-width="0.6"/>
<rect x="320.79" y="233" width="7.19" height="7.2" fill="#d0cce6" stroke="#a09a9a" stroke-width="0.6"/>
<rect x="327.98" y="233" width="7.19" height="7.2" fill="#8e88c0" stroke="#a09a9a" stroke-width="0.6"/>
<rect x="335.17" y="233" width="7.19" height="7.2" fill="#f8c8cc" stroke="#a09a9a" stroke-width="0.6"/>
<rect x="342.36" y="233" width="7.19" height="7.2" fill="#a8a2d0" stroke="#a09a9a" stroke-width="0.6"/>
<rect x="349.55" y="233" width="7.19" height="7.2" fill="#8a84bc" stroke="#a09a9a" stroke-width="0.6"/>
<rect x="356.74" y="233" width="7.19" height="7.2" fill="#f4a8a8" stroke="#a09a9a" stroke-width="0.6"/>
<rect x="363.93" y="233" width="7.19" height="7.2" fill="#ec7070" stroke="#a09a9a" stroke-width="0.6"/>
<rect x="371.12" y="233" width="7.19" height="7.2" fill="#f09090" stroke="#a09a9a" stroke-width="0.6"/>
<rect x="378.31" y="233" width="7.19" height="7.2" fill="#ec7474" stroke="#a09a9a" stroke-width="0.6"/>
<rect x="385.5" y="233" width="7.19" height="7.2" fill="#f4a0a0" stroke="#a09a9a" stroke-width="0.6"/>
<rect x="392.69" y="233" width="7.19" height="7.2" fill="#dcd8ec" stroke="#a09a9a" stroke-width="0.6"/>
<rect x="399.88" y="233" width="7.19" height="7.2" fill="#f4a4a4" stroke="#a09a9a" stroke-width="0.6"/>
<rect x="407.07" y="233" width="7.19" height="7.2" fill="#f4a4a4" stroke="#a09a9a" stroke-width="0.6"/>
<rect x="241.7" y="240.2" width="7.19" height="7.2" fill="#4a2f8a" stroke="#a09a9a" stroke-width="0.6"/>
<rect x="248.89" y="240.2" width="7.19" height="7.2" fill="#aaa4d0" stroke="#a09a9a" stroke-width="0.6"/>
<rect x="256.08" y="240.2" width="7.19" height="7.2" fill="#8e88c0" stroke="#a09a9a" stroke-width="0.6"/>
<rect x="263.27" y="240.2" width="7.19" height="7.2" fill="#a8a2d0" stroke="#a09a9a" stroke-width="0.6"/>
<rect x="270.46" y="240.2" width="7.19" height="7.2" fill="#c4bedf" stroke="#a09a9a" stroke-width="0.6"/>
<rect x="277.65" y="240.2" width="7.19" height="7.2" fill="#a09ac8" stroke="#a09a9a" stroke-width="0.6"/>
<rect x="284.84" y="240.2" width="7.19" height="7.2" fill="#9a94c8" stroke="#a09a9a" stroke-width="0.6"/>
<rect x="292.03" y="240.2" width="7.19" height="7.2" fill="#a09ac8" stroke="#a09a9a" stroke-width="0.6"/>
<rect x="299.22" y="240.2" width="7.19" height="7.2" fill="#a09ac8" stroke="#a09a9a" stroke-width="0.6"/>
<rect x="306.41" y="240.2" width="7.19" height="7.2" fill="#f4a8a8" stroke="#a09a9a" stroke-width="0.6"/>
<rect x="313.6" y="240.2" width="7.19" height="7.2" fill="#b0aad4" stroke="#a09a9a" stroke-width="0.6"/>
<rect x="320.79" y="240.2" width="7.19" height="7.2" fill="#b0aad4" stroke="#a09a9a" stroke-width="0.6"/>
<rect x="327.98" y="240.2" width="7.19" height="7.2" fill="#fcfafc" stroke="#a09a9a" stroke-width="0.6"/>
<rect x="335.17" y="240.2" width="7.19" height="7.2" fill="#f4a4a4" stroke="#a09a9a" stroke-width="0.6"/>
<rect x="342.36" y="240.2" width="7.19" height="7.2" fill="#f6b0b0" stroke="#a09a9a" stroke-width="0.6"/>
<rect x="349.55" y="240.2" width="7.19" height="7.2" fill="#e45050" stroke="#a09a9a" stroke-width="0.6"/>
<rect x="356.74" y="240.2" width="7.19" height="7.2" fill="#f09898" stroke="#a09a9a" stroke-width="0.6"/>
<rect x="363.93" y="240.2" width="7.19" height="7.2" fill="#f09090" stroke="#a09a9a" stroke-width="0.6"/>
<rect x="371.12" y="240.2" width="7.19" height="7.2" fill="#f09898" stroke="#a09a9a" stroke-width="0.6"/>
<rect x="378.31" y="240.2" width="7.19" height="7.2" fill="#f09898" stroke="#a09a9a" stroke-width="0.6"/>
<rect x="385.5" y="240.2" width="7.19" height="7.2" fill="#f8d0d4" stroke="#a09a9a" stroke-width="0.6"/>
<rect x="392.69" y="240.2" width="7.19" height="7.2" fill="#f8d4d8" stroke="#a09a9a" stroke-width="0.6"/>
<rect x="399.88" y="240.2" width="7.19" height="7.2" fill="#fcfafc" stroke="#a09a9a" stroke-width="0.6"/>
<rect x="407.07" y="240.2" width="7.19" height="7.2" fill="#f6b4b4" stroke="#a09a9a" stroke-width="0.6"/>
<rect x="241.7" y="247.4" width="7.19" height="7.2" fill="#f8c8cc" stroke="#a09a9a" stroke-width="0.6"/>
<rect x="248.89" y="247.4" width="7.19" height="7.2" fill="#c8c2e0" stroke="#a09a9a" stroke-width="0.6"/>
<rect x="256.08" y="247.4" width="7.19" height="7.2" fill="#4c3590" stroke="#a09a9a" stroke-width="0.6"/>
<rect x="263.27" y="247.4" width="7.19" height="7.2" fill="#a09ac8" stroke="#a09a9a" stroke-width="0.6"/>
<rect x="270.46" y="247.4" width="7.19" height="7.2" fill="#8e88c0" stroke="#a09a9a" stroke-width="0.6"/>
<rect x="277.65" y="247.4" width="7.19" height="7.2" fill="#f8d0d0" stroke="#a09a9a" stroke-width="0.6"/>
<rect x="284.84" y="247.4" width="7.19" height="7.2" fill="#a8a2d0" stroke="#a09a9a" stroke-width="0.6"/>
<rect x="292.03" y="247.4" width="7.19" height="7.2" fill="#6850a0" stroke="#a09a9a" stroke-width="0.6"/>
<rect x="299.22" y="247.4" width="7.19" height="7.2" fill="#f8f6f8" stroke="#a09a9a" stroke-width="0.6"/>
<rect x="306.41" y="247.4" width="7.19" height="7.2" fill="#f8e6e8" stroke="#a09a9a" stroke-width="0.6"/>
<rect x="313.6" y="247.4" width="7.19" height="7.2" fill="#7a70b4" stroke="#a09a9a" stroke-width="0.6"/>
<rect x="320.79" y="247.4" width="7.19" height="7.2" fill="#faf8fa" stroke="#a09a9a" stroke-width="0.6"/>
<rect x="327.98" y="247.4" width="7.19" height="7.2" fill="#faf8fa" stroke="#a09a9a" stroke-width="0.6"/>
<rect x="335.17" y="247.4" width="7.19" height="7.2" fill="#8078b8" stroke="#a09a9a" stroke-width="0.6"/>
<rect x="342.36" y="247.4" width="7.19" height="7.2" fill="#c8c4e2" stroke="#a09a9a" stroke-width="0.6"/>
<rect x="349.55" y="247.4" width="7.19" height="7.2" fill="#f6b4b4" stroke="#a09a9a" stroke-width="0.6"/>
<rect x="356.74" y="247.4" width="7.19" height="7.2" fill="#f09090" stroke="#a09a9a" stroke-width="0.6"/>
<rect x="363.93" y="247.4" width="7.19" height="7.2" fill="#f09090" stroke="#a09a9a" stroke-width="0.6"/>
<rect x="371.12" y="247.4" width="7.19" height="7.2" fill="#fcfafc" stroke="#a09a9a" stroke-width="0.6"/>
<rect x="378.31" y="247.4" width="7.19" height="7.2" fill="#f09090" stroke="#a09a9a" stroke-width="0.6"/>
<rect x="385.5" y="247.4" width="7.19" height="7.2" fill="#e45858" stroke="#a09a9a" stroke-width="0.6"/>
<rect x="392.69" y="247.4" width="7.19" height="7.2" fill="#f8c8cc" stroke="#a09a9a" stroke-width="0.6"/>
<rect x="399.88" y="247.4" width="7.19" height="7.2" fill="#f4a8a8" stroke="#a09a9a" stroke-width="0.6"/>
<rect x="407.07" y="247.4" width="7.19" height="7.2" fill="#f6b8b8" stroke="#a09a9a" stroke-width="0.6"/>
<rect x="241.7" y="254.6" width="7.19" height="7.2" fill="#8a84bc" stroke="#a09a9a" stroke-width="0.6"/>
<rect x="248.89" y="254.6" width="7.19" height="7.2" fill="#8a84bc" stroke="#a09a9a" stroke-width="0.6"/>
<rect x="256.08" y="254.6" width="7.19" height="7.2" fill="#faf8fa" stroke="#a09a9a" stroke-width="0.6"/>
<rect x="263.27" y="254.6" width="7.19" height="7.2" fill="#ec6a6a" stroke="#a09a9a" stroke-width="0.6"/>
<rect x="270.46" y="254.6" width="7.19" height="7.2" fill="#ec6a6a" stroke="#a09a9a" stroke-width="0.6"/>
<rect x="277.65" y="254.6" width="7.19" height="7.2" fill="#f6b8b8" stroke="#a09a9a" stroke-width="0.6"/>
<rect x="284.84" y="254.6" width="7.19" height="7.2" fill="#f8f6f8" stroke="#a09a9a" stroke-width="0.6"/>
<rect x="292.03" y="254.6" width="7.19" height="7.2" fill="#f5b0b0" stroke="#a09a9a" stroke-width="0.6"/>
<rect x="299.22" y="254.6" width="7.19" height="7.2" fill="#b4b0d6" stroke="#a09a9a" stroke-width="0.6"/>
<rect x="306.41" y="254.6" width="7.19" height="7.2" fill="#7e76b6" stroke="#a09a9a" stroke-width="0.6"/>
<rect x="313.6" y="254.6" width="7.19" height="7.2" fill="#f09090" stroke="#a09a9a" stroke-width="0.6"/>
<rect x="320.79" y="254.6" width="7.19" height="7.2" fill="#f09090" stroke="#a09a9a" stroke-width="0.6"/>
<rect x="327.98" y="254.6" width="7.19" height="7.2" fill="#ee8080" stroke="#a09a9a" stroke-width="0.6"/>
<rect x="335.17" y="254.6" width="7.19" height="7.2" fill="#f4a8a8" stroke="#a09a9a" stroke-width="0.6"/>
<rect x="342.36" y="254.6" width="7.19" height="7.2" fill="#f09494" stroke="#a09a9a" stroke-width="0.6"/>
<rect x="349.55" y="254.6" width="7.19" height="7.2" fill="#8a84bc" stroke="#a09a9a" stroke-width="0.6"/>
<rect x="356.74" y="254.6" width="7.19" height="7.2" fill="#8a84bc" stroke="#a09a9a" stroke-width="0.6"/>
<rect x="363.93" y="254.6" width="7.19" height="7.2" fill="#8680ba" stroke="#a09a9a" stroke-width="0.6"/>
<rect x="371.12" y="254.6" width="7.19" height="7.2" fill="#b4b0d6" stroke="#a09a9a" stroke-width="0.6"/>
<rect x="378.31" y="254.6" width="7.19" height="7.2" fill="#a8a2d0" stroke="#a09a9a" stroke-width="0.6"/>
<rect x="385.5" y="254.6" width="7.19" height="7.2" fill="#faf8fa" stroke="#a09a9a" stroke-width="0.6"/>
<rect x="392.69" y="254.6" width="7.19" height="7.2" fill="#faf8fa" stroke="#a09a9a" stroke-width="0.6"/>
<rect x="399.88" y="254.6" width="7.19" height="7.2" fill="#f8c8cc" stroke="#a09a9a" stroke-width="0.6"/>
<rect x="407.07" y="254.6" width="7.19" height="7.2" fill="#d8d4ea" stroke="#a09a9a" stroke-width="0.6"/>
<rect x="241.7" y="261.8" width="7.19" height="7.2" fill="#f08a8a" stroke="#a09a9a" stroke-width="0.6"/>
<rect x="248.89" y="261.8" width="7.19" height="7.2" fill="#f8d0d0" stroke="#a09a9a" stroke-width="0.6"/>
<rect x="256.08" y="261.8" width="7.19" height="7.2" fill="#f4a4a4" stroke="#a09a9a" stroke-width="0.6"/>
<rect x="263.27" y="261.8" width="7.19" height="7.2" fill="#f4a8a8" stroke="#a09a9a" stroke-width="0.6"/>
<rect x="270.46" y="261.8" width="7.19" height="7.2" fill="#f8d0d0" stroke="#a09a9a" stroke-width="0.6"/>
<rect x="277.65" y="261.8" width="7.19" height="7.2" fill="#ee8080" stroke="#a09a9a" stroke-width="0.6"/>
<rect x="284.84" y="261.8" width="7.19" height="7.2" fill="#f2a0a0" stroke="#a09a9a" stroke-width="0.6"/>
<rect x="292.03" y="261.8" width="7.19" height="7.2" fill="#f2a0a0" stroke="#a09a9a" stroke-width="0.6"/>
<rect x="299.22" y="261.8" width="7.19" height="7.2" fill="#aaa4d0" stroke="#a09a9a" stroke-width="0.6"/>
<rect x="306.41" y="261.8" width="7.19" height="7.2" fill="#f8e4e8" stroke="#a09a9a" stroke-width="0.6"/>
<rect x="313.6" y="261.8" width="7.19" height="7.2" fill="#faf6f8" stroke="#a09a9a" stroke-width="0.6"/>
<rect x="320.79" y="261.8" width="7.19" height="7.2" fill="#7e76b6" stroke="#a09a9a" stroke-width="0.6"/>
<rect x="327.98" y="261.8" width="7.19" height="7.2" fill="#f6b0b0" stroke="#a09a9a" stroke-width="0.6"/>
<rect x="335.17" y="261.8" width="7.19" height="7.2" fill="#f4a4a4" stroke="#a09a9a" stroke-width="0.6"/>
<rect x="342.36" y="261.8" width="7.19" height="7.2" fill="#8680ba" stroke="#a09a9a" stroke-width="0.6"/>
<rect x="349.55" y="261.8" width="7.19" height="7.2" fill="#8a84bc" stroke="#a09a9a" stroke-width="0.6"/>
<rect x="356.74" y="261.8" width="7.19" height="7.2" fill="#8078b8" stroke="#a09a9a" stroke-width="0.6"/>
<rect x="363.93" y="261.8" width="7.19" height="7.2" fill="#f09090" stroke="#a09a9a" stroke-width="0.6"/>
<rect x="371.12" y="261.8" width="7.19" height="7.2" fill="#f8dcde" stroke="#a09a9a" stroke-width="0.6"/>
<rect x="378.31" y="261.8" width="7.19" height="7.2" fill="#faf8fa" stroke="#a09a9a" stroke-width="0.6"/>
<rect x="385.5" y="261.8" width="7.19" height="7.2" fill="#8078b8" stroke="#a09a9a" stroke-width="0.6"/>
<rect x="392.69" y="261.8" width="7.19" height="7.2" fill="#8a84bc" stroke="#a09a9a" stroke-width="0.6"/>
<rect x="399.88" y="261.8" width="7.19" height="7.2" fill="#b0aad4" stroke="#a09a9a" stroke-width="0.6"/>
<rect x="407.07" y="261.8" width="7.19" height="7.2" fill="#7a72b4" stroke="#a09a9a" stroke-width="0.6"/>
<rect x="241.7" y="269" width="7.19" height="7.2" fill="#d0cce4" stroke="#a09a9a" stroke-width="0.6"/>
<rect x="248.89" y="269" width="7.19" height="7.2" fill="#4a2f8a" stroke="#a09a9a" stroke-width="0.6"/>
<rect x="256.08" y="269" width="7.19" height="7.2" fill="#f8d8d8" stroke="#a09a9a" stroke-width="0.6"/>
<rect x="263.27" y="269" width="7.19" height="7.2" fill="#f8d4d4" stroke="#a09a9a" stroke-width="0.6"/>
<rect x="270.46" y="269" width="7.19" height="7.2" fill="#f2a0a0" stroke="#a09a9a" stroke-width="0.6"/>
<rect x="277.65" y="269" width="7.19" height="7.2" fill="#f09090" stroke="#a09a9a" stroke-width="0.6"/>
<rect x="284.84" y="269" width="7.19" height="7.2" fill="#f4a8a8" stroke="#a09a9a" stroke-width="0.6"/>
<rect x="292.03" y="269" width="7.19" height="7.2" fill="#f4a8a8" stroke="#a09a9a" stroke-width="0.6"/>
<rect x="299.22" y="269" width="7.19" height="7.2" fill="#f4b0b0" stroke="#a09a9a" stroke-width="0.6"/>
<rect x="306.41" y="269" width="7.19" height="7.2" fill="#f4a8a8" stroke="#a09a9a" stroke-width="0.6"/>
<rect x="313.6" y="269" width="7.19" height="7.2" fill="#f4a0a0" stroke="#a09a9a" stroke-width="0.6"/>
<rect x="320.79" y="269" width="7.19" height="7.2" fill="#f8c8cc" stroke="#a09a9a" stroke-width="0.6"/>
<rect x="327.98" y="269" width="7.19" height="7.2" fill="#b8b4d8" stroke="#a09a9a" stroke-width="0.6"/>
<rect x="335.17" y="269" width="7.19" height="7.2" fill="#b8b4d8" stroke="#a09a9a" stroke-width="0.6"/>
<rect x="342.36" y="269" width="7.19" height="7.2" fill="#b0aad4" stroke="#a09a9a" stroke-width="0.6"/>
<rect x="349.55" y="269" width="7.19" height="7.2" fill="#d8d4ea" stroke="#a09a9a" stroke-width="0.6"/>
<rect x="356.74" y="269" width="7.19" height="7.2" fill="#ec7474" stroke="#a09a9a" stroke-width="0.6"/>
<rect x="363.93" y="269" width="7.19" height="7.2" fill="#fcfafc" stroke="#a09a9a" stroke-width="0.6"/>
<rect x="371.12" y="269" width="7.19" height="7.2" fill="#aaa4d0" stroke="#a09a9a" stroke-width="0.6"/>
<rect x="378.31" y="269" width="7.19" height="7.2" fill="#7e76b6" stroke="#a09a9a" stroke-width="0.6"/>
<rect x="385.5" y="269" width="7.19" height="7.2" fill="#4a2f8a" stroke="#a09a9a" stroke-width="0.6"/>
<rect x="392.69" y="269" width="7.19" height="7.2" fill="#b8b4d8" stroke="#a09a9a" stroke-width="0.6"/>
<rect x="399.88" y="269" width="7.19" height="7.2" fill="#fcfafc" stroke="#a09a9a" stroke-width="0.6"/>
<rect x="407.07" y="269" width="7.19" height="7.2" fill="#f8c8cc" stroke="#a09a9a" stroke-width="0.6"/>
<rect x="241.7" y="276.2" width="7.19" height="7.2" fill="#f8d4d8" stroke="#a09a9a" stroke-width="0.6"/>
<rect x="248.89" y="276.2" width="7.19" height="7.2" fill="#ee8888" stroke="#a09a9a" stroke-width="0.6"/>
<rect x="256.08" y="276.2" width="7.19" height="7.2" fill="#a8a2d0" stroke="#a09a9a" stroke-width="0.6"/>
<rect x="263.27" y="276.2" width="7.19" height="7.2" fill="#eeeaf4" stroke="#a09a9a" stroke-width="0.6"/>
<rect x="270.46" y="276.2" width="7.19" height="7.2" fill="#f8e8ec" stroke="#a09a9a" stroke-width="0.6"/>
<rect x="277.65" y="276.2" width="7.19" height="7.2" fill="#f4b0b0" stroke="#a09a9a" stroke-width="0.6"/>
<rect x="284.84" y="276.2" width="7.19" height="7.2" fill="#f6b8b8" stroke="#a09a9a" stroke-width="0.6"/>
<rect x="292.03" y="276.2" width="7.19" height="7.2" fill="#e44a4a" stroke="#a09a9a" stroke-width="0.6"/>
<rect x="299.22" y="276.2" width="7.19" height="7.2" fill="#f09898" stroke="#a09a9a" stroke-width="0.6"/>
<rect x="306.41" y="276.2" width="7.19" height="7.2" fill="#f09898" stroke="#a09a9a" stroke-width="0.6"/>
<rect x="313.6" y="276.2" width="7.19" height="7.2" fill="#b8b4d8" stroke="#a09a9a" stroke-width="0.6"/>
<rect x="320.79" y="276.2" width="7.19" height="7.2" fill="#f8d0d4" stroke="#a09a9a" stroke-width="0.6"/>
<rect x="327.98" y="276.2" width="7.19" height="7.2" fill="#f09494" stroke="#a09a9a" stroke-width="0.6"/>
<rect x="335.17" y="276.2" width="7.19" height="7.2" fill="#f8eef0" stroke="#a09a9a" stroke-width="0.6"/>
<rect x="342.36" y="276.2" width="7.19" height="7.2" fill="#f8c8cc" stroke="#a09a9a" stroke-width="0.6"/>
<rect x="349.55" y="276.2" width="7.19" height="7.2" fill="#dcdaec" stroke="#a09a9a" stroke-width="0.6"/>
<rect x="356.74" y="276.2" width="7.19" height="7.2" fill="#f8e4e8" stroke="#a09a9a" stroke-width="0.6"/>
<rect x="363.93" y="276.2" width="7.19" height="7.2" fill="#aaa4d0" stroke="#a09a9a" stroke-width="0.6"/>
<rect x="371.12" y="276.2" width="7.19" height="7.2" fill="#7a72b4" stroke="#a09a9a" stroke-width="0.6"/>
<rect x="378.31" y="276.2" width="7.19" height="7.2" fill="#3c2a6c" stroke="#a09a9a" stroke-width="0.6"/>
<rect x="385.5" y="276.2" width="7.19" height="7.2" fill="#aaa4d0" stroke="#a09a9a" stroke-width="0.6"/>
<rect x="392.69" y="276.2" width="7.19" height="7.2" fill="#b8b4d8" stroke="#a09a9a" stroke-width="0.6"/>
<rect x="399.88" y="276.2" width="7.19" height="7.2" fill="#b0aad4" stroke="#a09a9a" stroke-width="0.6"/>
<rect x="407.07" y="276.2" width="7.19" height="7.2" fill="#aaa4d0" stroke="#a09a9a" stroke-width="0.6"/>
<rect x="241.7" y="283.4" width="7.19" height="7.2" fill="#aaa4d0" stroke="#a09a9a" stroke-width="0.6"/>
<rect x="248.89" y="283.4" width="7.19" height="7.2" fill="#f8d8dc" stroke="#a09a9a" stroke-width="0.6"/>
<rect x="256.08" y="283.4" width="7.19" height="7.2" fill="#dcd8ec" stroke="#a09a9a" stroke-width="0.6"/>
<rect x="263.27" y="283.4" width="7.19" height="7.2" fill="#a8a2d0" stroke="#a09a9a" stroke-width="0.6"/>
<rect x="270.46" y="283.4" width="7.19" height="7.2" fill="#c0bade" stroke="#a09a9a" stroke-width="0.6"/>
<rect x="277.65" y="283.4" width="7.19" height="7.2" fill="#e44848" stroke="#a09a9a" stroke-width="0.6"/>
<rect x="284.84" y="283.4" width="7.19" height="7.2" fill="#f8d0d0" stroke="#a09a9a" stroke-width="0.6"/>
<rect x="292.03" y="283.4" width="7.19" height="7.2" fill="#f8c8cc" stroke="#a09a9a" stroke-width="0.6"/>
<rect x="299.22" y="283.4" width="7.19" height="7.2" fill="#f09c9c" stroke="#a09a9a" stroke-width="0.6"/>
<rect x="306.41" y="283.4" width="7.19" height="7.2" fill="#ee8c8c" stroke="#a09a9a" stroke-width="0.6"/>
<rect x="313.6" y="283.4" width="7.19" height="7.2" fill="#ee8888" stroke="#a09a9a" stroke-width="0.6"/>
<rect x="320.79" y="283.4" width="7.19" height="7.2" fill="#f6b8b8" stroke="#a09a9a" stroke-width="0.6"/>
<rect x="327.98" y="283.4" width="7.19" height="7.2" fill="#f6b8b8" stroke="#a09a9a" stroke-width="0.6"/>
<rect x="335.17" y="283.4" width="7.19" height="7.2" fill="#f09a9a" stroke="#a09a9a" stroke-width="0.6"/>
<rect x="342.36" y="283.4" width="7.19" height="7.2" fill="#aca6d2" stroke="#a09a9a" stroke-width="0.6"/>
<rect x="349.55" y="283.4" width="7.19" height="7.2" fill="#3c2a6c" stroke="#a09a9a" stroke-width="0.6"/>
<rect x="356.74" y="283.4" width="7.19" height="7.2" fill="#f8d4d8" stroke="#a09a9a" stroke-width="0.6"/>
<rect x="363.93" y="283.4" width="7.19" height="7.2" fill="#b4b0d6" stroke="#a09a9a" stroke-width="0.6"/>
<rect x="371.12" y="283.4" width="7.19" height="7.2" fill="#dcd8ec" stroke="#a09a9a" stroke-width="0.6"/>
<rect x="378.31" y="283.4" width="7.19" height="7.2" fill="#d0cce6" stroke="#a09a9a" stroke-width="0.6"/>
<rect x="385.5" y="283.4" width="7.19" height="7.2" fill="#eceaf4" stroke="#a09a9a" stroke-width="0.6"/>
<rect x="392.69" y="283.4" width="7.19" height="7.2" fill="#aaa4d0" stroke="#a09a9a" stroke-width="0.6"/>
<rect x="399.88" y="283.4" width="7.19" height="7.2" fill="#b0aad4" stroke="#a09a9a" stroke-width="0.6"/>
<rect x="407.07" y="283.4" width="7.19" height="7.2" fill="#aaa4d0" stroke="#a09a9a" stroke-width="0.6"/>
<text x="415.9" y="238.79" font-size="6" font-weight="bold" text-anchor="start" fill="#111" stroke="#111">HMGB1</text>
<text x="415.9" y="245.99" font-size="6" font-weight="bold" text-anchor="start" fill="#111" stroke="#111">CASP6</text>
<text x="415.9" y="253.19" font-size="6" font-weight="bold" text-anchor="start" fill="#111" stroke="#111">PRKACA</text>
<text x="415.9" y="260.39" font-size="6" font-weight="bold" text-anchor="start" fill="#111" stroke="#111">CASP3</text>
<text x="415.9" y="267.59" font-size="6" font-weight="bold" text-anchor="start" fill="#111" stroke="#111">CASP7</text>
<text x="415.9" y="274.79" font-size="6" font-weight="bold" text-anchor="start" fill="#111" stroke="#111">CASP4</text>
<text x="415.9" y="281.99" font-size="6" font-weight="bold" text-anchor="start" fill="#111" stroke="#111">IL6</text>
<text x="415.9" y="289.19" font-size="6" font-weight="bold" text-anchor="start" fill="#111" stroke="#111">PDCD6</text>
<text transform="translate(242.82 293.4) rotate(90) scale(1.11 1)" font-size="6.8" font-weight="bold" fill="#111" stroke="#111">GSM517215</text>
<text transform="translate(250.01 293.4) rotate(90) scale(1.11 1)" font-size="6.8" font-weight="bold" fill="#111" stroke="#111">GSM517216</text>
<text transform="translate(257.2 293.4) rotate(90) scale(1.11 1)" font-size="6.8" font-weight="bold" fill="#111" stroke="#111">GSM517215</text>
<text transform="translate(264.39 293.4) rotate(90) scale(1.11 1)" font-size="6.8" font-weight="bold" fill="#111" stroke="#111">GSM517216</text>
<text transform="translate(271.58 293.4) rotate(90) scale(1.11 1)" font-size="6.8" font-weight="bold" fill="#111" stroke="#111">GSM517216</text>
<text transform="translate(278.77 293.4) rotate(90) scale(1.11 1)" font-size="6.8" font-weight="bold" fill="#111" stroke="#111">GSM517215</text>
<text transform="translate(285.96 293.4) rotate(90) scale(1.11 1)" font-size="6.8" font-weight="bold" fill="#111" stroke="#111">PA1217</text>
<text transform="translate(293.15 293.4) rotate(90) scale(1.11 1)" font-size="6.8" font-weight="bold" fill="#111" stroke="#111">CHPT1</text>
<text transform="translate(300.34 293.4) rotate(90) scale(1.11 1)" font-size="6.8" font-weight="bold" fill="#111" stroke="#111">PA1189</text>
<text transform="translate(307.53 293.4) rotate(90) scale(1.11 1)" font-size="6.8" font-weight="bold" fill="#111" stroke="#111">GSM517215</text>
<text transform="translate(314.72 293.4) rotate(90) scale(1.11 1)" font-size="6.8" font-weight="bold" fill="#111" stroke="#111">GSM517215</text>
<text transform="translate(321.91 293.4) rotate(90) scale(1.11 1)" font-size="6.8" font-weight="bold" fill="#111" stroke="#111">GSM517215</text>
<text transform="translate(329.1 293.4) rotate(90) scale(1.11 1)" font-size="6.8" font-weight="bold" fill="#111" stroke="#111">CHLONZA</text>
<text transform="translate(336.29 293.4) rotate(90) scale(1.11 1)" font-size="6.8" font-weight="bold" fill="#111" stroke="#111">GSM517215</text>
<text transform="translate(343.48 293.4) rotate(90) scale(1.11 1)" font-size="6.8" font-weight="bold" fill="#111" stroke="#111">GSM517215</text>
<text transform="translate(350.67 293.4) rotate(90) scale(1.11 1)" font-size="6.8" font-weight="bold" fill="#111" stroke="#111">GSM517217</text>
<text transform="translate(357.86 293.4) rotate(90) scale(1.11 1)" font-size="6.8" font-weight="bold" fill="#111" stroke="#111">GSM517216</text>
<text transform="translate(365.05 293.4) rotate(90) scale(1.11 1)" font-size="6.8" font-weight="bold" fill="#111" stroke="#111">GSM517216</text>
<text transform="translate(372.24 293.4) rotate(90) scale(1.11 1)" font-size="6.8" font-weight="bold" fill="#111" stroke="#111">IPAH4</text>
<text transform="translate(379.43 293.4) rotate(90) scale(1.11 1)" font-size="6.8" font-weight="bold" fill="#111" stroke="#111">IPAHCC014</text>
<text transform="translate(386.62 293.4) rotate(90) scale(1.11 1)" font-size="6.8" font-weight="bold" fill="#111" stroke="#111">GSM517216</text>
<text transform="translate(393.81 293.4) rotate(90) scale(1.11 1)" font-size="6.8" font-weight="bold" fill="#111" stroke="#111">GSM517216</text>
<text transform="translate(401 293.4) rotate(90) scale(1.11 1)" font-size="6.8" font-weight="bold" fill="#111" stroke="#111">IPAH1028</text>
<text transform="translate(408.19 293.4) rotate(90) scale(1.11 1)" font-size="6.8" font-weight="bold" fill="#111" stroke="#111">IPAH908</text>
<defs><linearGradient id="cb" x1="0" y1="0" x2="0" y2="1"><stop offset="0" stop-color="#d83030"/><stop offset="0.5" stop-color="#ffffff"/><stop offset="0.78" stop-color="#8c84c0"/><stop offset="1" stop-color="#33266a"/></linearGradient></defs>
<rect x="443.2" y="233" width="4.8" height="72.5" fill="url(#cb)"/>
<text x="449.8" y="243.41" font-size="6.6" font-weight="bold" text-anchor="start" fill="#222" stroke="#222">2</text>
<text x="449.8" y="257.61" font-size="6.6" font-weight="bold" text-anchor="start" fill="#222" stroke="#222">1</text>
<text x="449.8" y="271.51" font-size="6.6" font-weight="bold" text-anchor="start" fill="#222" stroke="#222">0</text>
<text x="449.8" y="285.41" font-size="6.6" font-weight="bold" text-anchor="start" fill="#222" stroke="#222">−1</text>
<text x="449.8" y="299.01" font-size="6.6" font-weight="bold" text-anchor="start" fill="#222" stroke="#222">−2</text>
<line x1="245.29" y1="221.4" x2="245.29" y2="233" stroke="#4a4a4a" stroke-width="0.8"/>
<line x1="252.48" y1="221.4" x2="252.48" y2="233" stroke="#4a4a4a" stroke-width="0.8"/>
<line x1="245.29" y1="221.4" x2="252.48" y2="221.4" stroke="#4a4a4a" stroke-width="0.8"/>
<line x1="266.87" y1="228.7" x2="266.87" y2="233" stroke="#4a4a4a" stroke-width="0.8"/>
<line x1="274.06" y1="228.7" x2="274.06" y2="233" stroke="#4a4a4a" stroke-width="0.8"/>
<line x1="266.87" y1="228.7" x2="274.06" y2="228.7" stroke="#4a4a4a" stroke-width="0.8"/>
<line x1="259.68" y1="223" x2="259.68" y2="233" stroke="#4a4a4a" stroke-width="0.8"/>
<line x1="270.46" y1="223" x2="270.46" y2="228.7" stroke="#4a4a4a" stroke-width="0.8"/>
<line x1="259.68" y1="223" x2="270.46" y2="223" stroke="#4a4a4a" stroke-width="0.8"/>
<line x1="288.44" y1="226" x2="288.44" y2="233" stroke="#4a4a4a" stroke-width="0.8"/>
<line x1="295.62" y1="226" x2="295.62" y2="233" stroke="#4a4a4a" stroke-width="0.8"/>
<line x1="288.44" y1="226" x2="295.62" y2="226" stroke="#4a4a4a" stroke-width="0.8"/>
<line x1="281.25" y1="222.6" x2="281.25" y2="233" stroke="#4a4a4a" stroke-width="0.8"/>
<line x1="292.03" y1="222.6" x2="292.03" y2="226" stroke="#4a4a4a" stroke-width="0.8"/>
<line x1="281.25" y1="222.6" x2="292.03" y2="222.6" stroke="#4a4a4a" stroke-width="0.8"/>
<line x1="302.81" y1="224.4" x2="302.81" y2="233" stroke="#4a4a4a" stroke-width="0.8"/>
<line x1="310" y1="224.4" x2="310" y2="233" stroke="#4a4a4a" stroke-width="0.8"/>
<line x1="302.81" y1="224.4" x2="310" y2="224.4" stroke="#4a4a4a" stroke-width="0.8"/>
<line x1="317.19" y1="225.4" x2="317.19" y2="233" stroke="#4a4a4a" stroke-width="0.8"/>
<line x1="324.38" y1="225.4" x2="324.38" y2="233" stroke="#4a4a4a" stroke-width="0.8"/>
<line x1="317.19" y1="225.4" x2="324.38" y2="225.4" stroke="#4a4a4a" stroke-width="0.8"/>
<line x1="331.57" y1="224.7" x2="331.57" y2="233" stroke="#4a4a4a" stroke-width="0.8"/>
<line x1="338.76" y1="224.7" x2="338.76" y2="233" stroke="#4a4a4a" stroke-width="0.8"/>
<line x1="331.57" y1="224.7" x2="338.76" y2="224.7" stroke="#4a4a4a" stroke-width="0.8"/>
<line x1="320.79" y1="222.3" x2="320.79" y2="225.4" stroke="#4a4a4a" stroke-width="0.8"/>
<line x1="335.17" y1="222.3" x2="335.17" y2="224.7" stroke="#4a4a4a" stroke-width="0.8"/>
<line x1="320.79" y1="222.3" x2="335.17" y2="222.3" stroke="#4a4a4a" stroke-width="0.8"/>
<line x1="306.41" y1="220.2" x2="306.41" y2="224.4" stroke="#4a4a4a" stroke-width="0.8"/>
<line x1="327.98" y1="220.2" x2="327.98" y2="222.3" stroke="#4a4a4a" stroke-width="0.8"/>
<line x1="306.41" y1="220.2" x2="327.98" y2="220.2" stroke="#4a4a4a" stroke-width="0.8"/>
<line x1="286.64" y1="219.4" x2="286.64" y2="222.6" stroke="#4a4a4a" stroke-width="0.8"/>
<line x1="317.19" y1="219.4" x2="317.19" y2="220.2" stroke="#4a4a4a" stroke-width="0.8"/>
<line x1="286.64" y1="219.4" x2="317.19" y2="219.4" stroke="#4a4a4a" stroke-width="0.8"/>
<line x1="265.07" y1="216.3" x2="265.07" y2="223" stroke="#4a4a4a" stroke-width="0.8"/>
<line x1="301.92" y1="216.3" x2="301.92" y2="219.4" stroke="#4a4a4a" stroke-width="0.8"/>
<line x1="265.07" y1="216.3" x2="301.92" y2="216.3" stroke="#4a4a4a" stroke-width="0.8"/>
<line x1="248.89" y1="215.7" x2="248.89" y2="221.4" stroke="#4a4a4a" stroke-width="0.8"/>
<line x1="283.49" y1="215.7" x2="283.49" y2="216.3" stroke="#4a4a4a" stroke-width="0.8"/>
<line x1="248.89" y1="215.7" x2="283.49" y2="215.7" stroke="#4a4a4a" stroke-width="0.8"/>
<line x1="345.95" y1="220.9" x2="345.95" y2="233" stroke="#4a4a4a" stroke-width="0.8"/>
<line x1="353.14" y1="220.9" x2="353.14" y2="233" stroke="#4a4a4a" stroke-width="0.8"/>
<line x1="345.95" y1="220.9" x2="353.14" y2="220.9" stroke="#4a4a4a" stroke-width="0.8"/>
<line x1="374.72" y1="226.3" x2="374.72" y2="233" stroke="#4a4a4a" stroke-width="0.8"/>
<line x1="381.9" y1="226.3" x2="381.9" y2="233" stroke="#4a4a4a" stroke-width="0.8"/>
<line x1="374.72" y1="226.3" x2="381.9" y2="226.3" stroke="#4a4a4a" stroke-width="0.8"/>
<line x1="367.52" y1="224.3" x2="367.52" y2="233" stroke="#4a4a4a" stroke-width="0.8"/>
<line x1="378.31" y1="224.3" x2="378.31" y2="226.3" stroke="#4a4a4a" stroke-width="0.8"/>
<line x1="367.52" y1="224.3" x2="378.31" y2="224.3" stroke="#4a4a4a" stroke-width="0.8"/>
<line x1="403.48" y1="227.7" x2="403.48" y2="233" stroke="#4a4a4a" stroke-width="0.8"/>
<line x1="410.66" y1="227.7" x2="410.66" y2="233" stroke="#4a4a4a" stroke-width="0.8"/>
<line x1="403.48" y1="227.7" x2="410.66" y2="227.7" stroke="#4a4a4a" stroke-width="0.8"/>
<line x1="396.28" y1="225.7" x2="396.28" y2="233" stroke="#4a4a4a" stroke-width="0.8"/>
<line x1="407.07" y1="225.7" x2="407.07" y2="227.7" stroke="#4a4a4a" stroke-width="0.8"/>
<line x1="396.28" y1="225.7" x2="407.07" y2="225.7" stroke="#4a4a4a" stroke-width="0.8"/>
<line x1="389.1" y1="222.3" x2="389.1" y2="233" stroke="#4a4a4a" stroke-width="0.8"/>
<line x1="401.68" y1="222.3" x2="401.68" y2="225.7" stroke="#4a4a4a" stroke-width="0.8"/>
<line x1="389.1" y1="222.3" x2="401.68" y2="222.3" stroke="#4a4a4a" stroke-width="0.8"/>
<line x1="372.92" y1="219.2" x2="372.92" y2="224.3" stroke="#4a4a4a" stroke-width="0.8"/>
<line x1="395.39" y1="219.2" x2="395.39" y2="222.3" stroke="#4a4a4a" stroke-width="0.8"/>
<line x1="372.92" y1="219.2" x2="395.39" y2="219.2" stroke="#4a4a4a" stroke-width="0.8"/>
<line x1="360.33" y1="217.5" x2="360.33" y2="233" stroke="#4a4a4a" stroke-width="0.8"/>
<line x1="384.15" y1="217.5" x2="384.15" y2="219.2" stroke="#4a4a4a" stroke-width="0.8"/>
<line x1="360.33" y1="217.5" x2="384.15" y2="217.5" stroke="#4a4a4a" stroke-width="0.8"/>
<line x1="349.55" y1="215.5" x2="349.55" y2="220.9" stroke="#4a4a4a" stroke-width="0.8"/>
<line x1="372.24" y1="215.5" x2="372.24" y2="217.5" stroke="#4a4a4a" stroke-width="0.8"/>
<line x1="349.55" y1="215.5" x2="372.24" y2="215.5" stroke="#4a4a4a" stroke-width="0.8"/>
<line x1="266.19" y1="207.9" x2="266.19" y2="215.7" stroke="#4a4a4a" stroke-width="0.8"/>
<line x1="360.9" y1="207.9" x2="360.9" y2="215.5" stroke="#4a4a4a" stroke-width="0.8"/>
<line x1="266.19" y1="207.9" x2="360.9" y2="207.9" stroke="#4a4a4a" stroke-width="0.8"/>
<text x="9" y="380.6" font-size="8.7" font-weight="bold" text-anchor="start" fill="#000" stroke="#000">E</text>
<text x="71.8" y="381" font-size="7.8" font-weight="bold" text-anchor="start" fill="#000" stroke="#000" textLength="139.3" lengthAdjust="spacingAndGlyphs">Sample dendrogram and trait heatmap</text>
<line x1="32.7" y1="391.2" x2="32.7" y2="448.7" stroke="#333" stroke-width="0.8"/>
<line x1="29.8" y1="391.19" x2="32.7" y2="391.19" stroke="#333" stroke-width="0.8"/>
<text x="26.86" y="390.89" font-size="6.2" font-weight="normal" text-anchor="middle" fill="#1a1a1a" stroke="#1a1a1a" textLength="7.4" lengthAdjust="spacingAndGlyphs" transform="rotate(-90 26.86 390.89)">3.5</text>
<line x1="29.8" y1="400.77" x2="32.7" y2="400.77" stroke="#333" stroke-width="0.8"/>
<line x1="29.8" y1="410.36" x2="32.7" y2="410.36" stroke="#333" stroke-width="0.8"/>
<text x="26.86" y="410.06" font-size="6.2" font-weight="normal" text-anchor="middle" fill="#1a1a1a" stroke="#1a1a1a" textLength="7.4" lengthAdjust="spacingAndGlyphs" transform="rotate(-90 26.86 410.06)">2.5</text>
<line x1="29.8" y1="419.94" x2="32.7" y2="419.94" stroke="#333" stroke-width="0.8"/>
<line x1="29.8" y1="429.53" x2="32.7" y2="429.53" stroke="#333" stroke-width="0.8"/>
<text x="26.86" y="429.23" font-size="6.2" font-weight="normal" text-anchor="middle" fill="#1a1a1a" stroke="#1a1a1a" textLength="7.4" lengthAdjust="spacingAndGlyphs" transform="rotate(-90 26.86 429.23)">1.5</text>
<line x1="29.8" y1="439.12" x2="32.7" y2="439.12" stroke="#333" stroke-width="0.8"/>
<line x1="29.8" y1="448.7" x2="32.7" y2="448.7" stroke="#333" stroke-width="0.8"/>
<text x="26.86" y="448.4" font-size="6.2" font-weight="normal" text-anchor="middle" fill="#1a1a1a" stroke="#1a1a1a" textLength="7.4" lengthAdjust="spacingAndGlyphs" transform="rotate(-90 26.86 448.4)">0.5</text>
<text x="13.5" y="428.6" font-size="7.4" font-weight="bold" text-anchor="middle" fill="#000" stroke="#000" textLength="23.4" lengthAdjust="spacingAndGlyphs" transform="rotate(-90 13.5 428.6)">Height</text>
<line x1="64.89" y1="440.6" x2="64.89" y2="446.1" stroke="#333" stroke-width="0.8"/>
<line x1="73.12" y1="440.6" x2="73.12" y2="446.1" stroke="#333" stroke-width="0.8"/>
<line x1="64.89" y1="440.6" x2="73.12" y2="440.6" stroke="#333" stroke-width="0.8"/>
<line x1="56.66" y1="431.7" x2="56.66" y2="437.2" stroke="#333" stroke-width="0.8"/>
<line x1="69" y1="431.7" x2="69" y2="440.6" stroke="#333" stroke-width="0.8"/>
<line x1="56.66" y1="431.7" x2="69" y2="431.7" stroke="#333" stroke-width="0.8"/>
<line x1="48.43" y1="424.3" x2="48.43" y2="429.8" stroke="#333" stroke-width="0.8"/>
<line x1="62.83" y1="424.3" x2="62.83" y2="431.7" stroke="#333" stroke-width="0.8"/>
<line x1="48.43" y1="424.3" x2="62.83" y2="424.3" stroke="#333" stroke-width="0.8"/>
<line x1="89.58" y1="431.7" x2="89.58" y2="437.2" stroke="#333" stroke-width="0.8"/>
<line x1="97.81" y1="431.7" x2="97.81" y2="437.2" stroke="#333" stroke-width="0.8"/>
<line x1="89.58" y1="431.7" x2="97.81" y2="431.7" stroke="#333" stroke-width="0.8"/>
<line x1="81.35" y1="428.4" x2="81.35" y2="433.9" stroke="#333" stroke-width="0.8"/>
<line x1="93.7" y1="428.4" x2="93.7" y2="431.7" stroke="#333" stroke-width="0.8"/>
<line x1="81.35" y1="428.4" x2="93.7" y2="428.4" stroke="#333" stroke-width="0.8"/>
<line x1="122.5" y1="441.5" x2="122.5" y2="447" stroke="#333" stroke-width="0.8"/>
<line x1="130.73" y1="441.5" x2="130.73" y2="447" stroke="#333" stroke-width="0.8"/>
<line x1="122.5" y1="441.5" x2="130.73" y2="441.5" stroke="#333" stroke-width="0.8"/>
<line x1="114.27" y1="434.7" x2="114.27" y2="440.2" stroke="#333" stroke-width="0.8"/>
<line x1="126.62" y1="434.7" x2="126.62" y2="441.5" stroke="#333" stroke-width="0.8"/>
<line x1="114.27" y1="434.7" x2="126.62" y2="434.7" stroke="#333" stroke-width="0.8"/>
<line x1="106.04" y1="426.1" x2="106.04" y2="431.6" stroke="#333" stroke-width="0.8"/>
<line x1="120.44" y1="426.1" x2="120.44" y2="434.7" stroke="#333" stroke-width="0.8"/>
<line x1="106.04" y1="426.1" x2="120.44" y2="426.1" stroke="#333" stroke-width="0.8"/>
<line x1="87.52" y1="423" x2="87.52" y2="428.4" stroke="#333" stroke-width="0.8"/>
<line x1="113.24" y1="423" x2="113.24" y2="426.1" stroke="#333" stroke-width="0.8"/>
<line x1="87.52" y1="423" x2="113.24" y2="423" stroke="#333" stroke-width="0.8"/>
<line x1="55.63" y1="416.6" x2="55.63" y2="424.3" stroke="#333" stroke-width="0.8"/>
<line x1="100.38" y1="416.6" x2="100.38" y2="423" stroke="#333" stroke-width="0.8"/>
<line x1="55.63" y1="416.6" x2="100.38" y2="416.6" stroke="#333" stroke-width="0.8"/>
<line x1="40.2" y1="414.3" x2="40.2" y2="419.8" stroke="#333" stroke-width="0.8"/>
<line x1="78.01" y1="414.3" x2="78.01" y2="416.6" stroke="#333" stroke-width="0.8"/>
<line x1="40.2" y1="414.3" x2="78.01" y2="414.3" stroke="#333" stroke-width="0.8"/>
<line x1="138.96" y1="409.8" x2="138.96" y2="415.3" stroke="#333" stroke-width="0.8"/>
<line x1="147.19" y1="409.8" x2="147.19" y2="415.3" stroke="#333" stroke-width="0.8"/>
<line x1="138.96" y1="409.8" x2="147.19" y2="409.8" stroke="#333" stroke-width="0.8"/>
<line x1="59.1" y1="402.4" x2="59.1" y2="414.3" stroke="#333" stroke-width="0.8"/>
<line x1="143.07" y1="402.4" x2="143.07" y2="409.8" stroke="#333" stroke-width="0.8"/>
<line x1="59.1" y1="402.4" x2="143.07" y2="402.4" stroke="#333" stroke-width="0.8"/>
<line x1="188.34" y1="439" x2="188.34" y2="444.5" stroke="#333" stroke-width="0.8"/>
<line x1="196.57" y1="439" x2="196.57" y2="444.5" stroke="#333" stroke-width="0.8"/>
<line x1="188.34" y1="439" x2="196.57" y2="439" stroke="#333" stroke-width="0.8"/>
<line x1="180.11" y1="435" x2="180.11" y2="440.5" stroke="#333" stroke-width="0.8"/>
<line x1="192.46" y1="435" x2="192.46" y2="439" stroke="#333" stroke-width="0.8"/>
<line x1="180.11" y1="435" x2="192.46" y2="435" stroke="#333" stroke-width="0.8"/>
<line x1="171.88" y1="430.6" x2="171.88" y2="436.1" stroke="#333" stroke-width="0.8"/>
<line x1="186.28" y1="430.6" x2="186.28" y2="435" stroke="#333" stroke-width="0.8"/>
<line x1="171.88" y1="430.6" x2="186.28" y2="430.6" stroke="#333" stroke-width="0.8"/>
<line x1="204.8" y1="426.8" x2="204.8" y2="432.3" stroke="#333" stroke-width="0.8"/>
<line x1="213.03" y1="426.8" x2="213.03" y2="432.3" stroke="#333" stroke-width="0.8"/>
<line x1="204.8" y1="426.8" x2="213.03" y2="426.8" stroke="#333" stroke-width="0.8"/>
<line x1="179.08" y1="423.6" x2="179.08" y2="430.6" stroke="#333" stroke-width="0.8"/>
<line x1="208.92" y1="423.6" x2="208.92" y2="426.8" stroke="#333" stroke-width="0.8"/>
<line x1="179.08" y1="423.6" x2="208.92" y2="423.6" stroke="#333" stroke-width="0.8"/>
<line x1="163.65" y1="417.6" x2="163.65" y2="423.1" stroke="#333" stroke-width="0.8"/>
<line x1="194" y1="417.6" x2="194" y2="423.6" stroke="#333" stroke-width="0.8"/>
<line x1="163.65" y1="417.6" x2="194" y2="417.6" stroke="#333" stroke-width="0.8"/>
<line x1="221.26" y1="413.8" x2="221.26" y2="419.3" stroke="#333" stroke-width="0.8"/>
<line x1="229.49" y1="413.8" x2="229.49" y2="419.3" stroke="#333" stroke-width="0.8"/>
<line x1="221.26" y1="413.8" x2="229.49" y2="413.8" stroke="#333" stroke-width="0.8"/>
<line x1="178.82" y1="409.8" x2="178.82" y2="417.6" stroke="#333" stroke-width="0.8"/>
<line x1="225.38" y1="409.8" x2="225.38" y2="413.8" stroke="#333" stroke-width="0.8"/>
<line x1="178.82" y1="409.8" x2="225.38" y2="409.8" stroke="#333" stroke-width="0.8"/>
<line x1="155.42" y1="396.2" x2="155.42" y2="401.7" stroke="#333" stroke-width="0.8"/>
<line x1="202.1" y1="396.2" x2="202.1" y2="409.8" stroke="#333" stroke-width="0.8"/>
<line x1="155.42" y1="396.2" x2="202.1" y2="396.2" stroke="#333" stroke-width="0.8"/>
<line x1="101.09" y1="391.3" x2="101.09" y2="402.4" stroke="#333" stroke-width="0.8"/>
<line x1="178.76" y1="391.3" x2="178.76" y2="396.2" stroke="#333" stroke-width="0.8"/>
<line x1="101.09" y1="391.3" x2="178.76" y2="391.3" stroke="#333" stroke-width="0.8"/>
<text x="42.15" y="420.5" font-size="5.35" font-weight="bold" text-anchor="end" fill="#1a1a1a" stroke="#1a1a1a" transform="rotate(-90 42.15 420.5)">GSM5172153</text>
<text x="50.38" y="430.5" font-size="5.35" font-weight="bold" text-anchor="end" fill="#1a1a1a" stroke="#1a1a1a" transform="rotate(-90 50.38 430.5)">GSM5172156</text>
<text x="58.61" y="437.9" font-size="5.35" font-weight="bold" text-anchor="end" fill="#1a1a1a" stroke="#1a1a1a" transform="rotate(-90 58.61 437.9)">PA1189</text>
<text x="66.84" y="446.8" font-size="5.35" font-weight="bold" text-anchor="end" fill="#1a1a1a" stroke="#1a1a1a" transform="rotate(-90 66.84 446.8)">PA1217</text>
<text x="75.07" y="446.8" font-size="5.35" font-weight="bold" text-anchor="end" fill="#1a1a1a" stroke="#1a1a1a" transform="rotate(-90 75.07 446.8)">GSM5172154</text>
<text x="83.3" y="434.6" font-size="5.35" font-weight="bold" text-anchor="end" fill="#1a1a1a" stroke="#1a1a1a" transform="rotate(-90 83.3 434.6)">CHLONZA</text>
<text x="91.53" y="437.9" font-size="5.35" font-weight="bold" text-anchor="end" fill="#1a1a1a" stroke="#1a1a1a" transform="rotate(-90 91.53 437.9)">GSM5172150</text>
<text x="99.76" y="437.9" font-size="5.35" font-weight="bold" text-anchor="end" fill="#1a1a1a" stroke="#1a1a1a" transform="rotate(-90 99.76 437.9)">GSM5172158</text>
<text x="107.99" y="432.3" font-size="5.35" font-weight="bold" text-anchor="end" fill="#1a1a1a" stroke="#1a1a1a" transform="rotate(-90 107.99 432.3)">GSM5172152</text>
<text x="116.22" y="440.9" font-size="5.35" font-weight="bold" text-anchor="end" fill="#1a1a1a" stroke="#1a1a1a" transform="rotate(-90 116.22 440.9)">GSM5172151</text>
<text x="124.45" y="447.7" font-size="5.35" font-weight="bold" text-anchor="end" fill="#1a1a1a" stroke="#1a1a1a" transform="rotate(-90 124.45 447.7)">GSM5172157</text>
<text x="132.68" y="447.7" font-size="5.35" font-weight="bold" text-anchor="end" fill="#1a1a1a" stroke="#1a1a1a" transform="rotate(-90 132.68 447.7)">GSM5172165</text>
<text x="140.91" y="416" font-size="5.35" font-weight="bold" text-anchor="end" fill="#1a1a1a" stroke="#1a1a1a" transform="rotate(-90 140.91 416)">CHPT1</text>
<text x="149.14" y="416" font-size="5.35" font-weight="bold" text-anchor="end" fill="#1a1a1a" stroke="#1a1a1a" transform="rotate(-90 149.14 416)">GSM5172168</text>
<text x="157.37" y="402.4" font-size="5.35" font-weight="bold" text-anchor="end" fill="#1a1a1a" stroke="#1a1a1a" transform="rotate(-90 157.37 402.4)">IPAHCC014</text>
<text x="165.6" y="423.8" font-size="5.35" font-weight="bold" text-anchor="end" fill="#1a1a1a" stroke="#1a1a1a" transform="rotate(-90 165.6 423.8)">GSM5172155</text>
<text x="173.83" y="436.8" font-size="5.35" font-weight="bold" text-anchor="end" fill="#1a1a1a" stroke="#1a1a1a" transform="rotate(-90 173.83 436.8)">GSM5172167</text>
<text x="182.06" y="441.2" font-size="5.35" font-weight="bold" text-anchor="end" fill="#1a1a1a" stroke="#1a1a1a" transform="rotate(-90 182.06 441.2)">GSM5172164</text>
<text x="190.29" y="445.2" font-size="5.35" font-weight="bold" text-anchor="end" fill="#1a1a1a" stroke="#1a1a1a" transform="rotate(-90 190.29 445.2)">IPAH1028</text>
<text x="198.52" y="445.2" font-size="5.35" font-weight="bold" text-anchor="end" fill="#1a1a1a" stroke="#1a1a1a" transform="rotate(-90 198.52 445.2)">IPAH908</text>
<text x="206.75" y="433" font-size="5.35" font-weight="bold" text-anchor="end" fill="#1a1a1a" stroke="#1a1a1a" transform="rotate(-90 206.75 433)">GSM5172166</text>
<text x="214.98" y="433" font-size="5.35" font-weight="bold" text-anchor="end" fill="#1a1a1a" stroke="#1a1a1a" transform="rotate(-90 214.98 433)">IPAH4</text>
<text x="223.21" y="420" font-size="5.35" font-weight="bold" text-anchor="end" fill="#1a1a1a" stroke="#1a1a1a" transform="rotate(-90 223.21 420)">GSM5172169</text>
<text x="231.44" y="420" font-size="5.35" font-weight="bold" text-anchor="end" fill="#1a1a1a" stroke="#1a1a1a" transform="rotate(-90 231.44 420)">GSM5172170</text>
<rect x="126.62" y="481.7" width="8.93" height="11.9" fill="#f4412b"/>
<rect x="143.08" y="481.7" width="8.93" height="11.9" fill="#f4412b"/>
<rect x="151.31" y="481.7" width="8.93" height="11.9" fill="#f4412b"/>
<rect x="167.76" y="481.7" width="8.93" height="11.9" fill="#f4412b"/>
<rect x="175.99" y="481.7" width="8.93" height="11.9" fill="#f4412b"/>
<rect x="184.22" y="481.7" width="8.93" height="11.9" fill="#f4412b"/>
<rect x="192.45" y="481.7" width="8.93" height="11.9" fill="#f4412b"/>
<rect x="200.68" y="481.7" width="8.93" height="11.9" fill="#f4412b"/>
<rect x="208.91" y="481.7" width="8.93" height="11.9" fill="#f4412b"/>
<rect x="217.14" y="481.7" width="8.93" height="11.9" fill="#f4412b"/>
<rect x="225.37" y="481.7" width="8.23" height="11.9" fill="#f4412b"/>
<text x="22.2" y="489.98" font-size="6.4" font-weight="bold" text-anchor="middle" fill="#1a1a1a" stroke="#1a1a1a" textLength="13.6" lengthAdjust="spacingAndGlyphs">IPAH</text>
<rect x="36.1" y="493.6" width="8.93" height="11.9" fill="#fa9b88"/>
<rect x="44.33" y="493.6" width="8.93" height="11.9" fill="#f5432e"/>
<rect x="52.56" y="493.6" width="8.93" height="11.9" fill="#f88068"/>
<rect x="60.79" y="493.6" width="8.93" height="11.9" fill="#f77c64"/>
<rect x="69.02" y="493.6" width="8.93" height="11.9" fill="#f5452f"/>
<rect x="77.25" y="493.6" width="8.93" height="11.9" fill="#f5492f"/>
<rect x="85.47" y="493.6" width="8.93" height="11.9" fill="#f77760"/>
<rect x="93.7" y="493.6" width="8.93" height="11.9" fill="#f77760"/>
<rect x="101.93" y="493.6" width="8.93" height="11.9" fill="#f54d35"/>
<rect x="110.16" y="493.6" width="8.93" height="11.9" fill="#f8856e"/>
<rect x="118.39" y="493.6" width="8.93" height="11.9" fill="#f8856e"/>
<rect x="126.62" y="493.6" width="8.93" height="11.9" fill="#f6654d"/>
<rect x="134.85" y="493.6" width="8.93" height="11.9" fill="#f6705a"/>
<rect x="143.08" y="493.6" width="8.93" height="11.9" fill="#fdd5cb"/>
<rect x="151.31" y="493.6" width="8.93" height="11.9" fill="#fdd8cc"/>
<rect x="159.53" y="493.6" width="8.93" height="11.9" fill="#fcd0c5"/>
<rect x="167.76" y="493.6" width="8.93" height="11.9" fill="#fde4dc"/>
<rect x="184.22" y="493.6" width="8.93" height="11.9" fill="#f9a796"/>
<rect x="192.45" y="493.6" width="8.93" height="11.9" fill="#fbbcae"/>
<rect x="200.68" y="493.6" width="8.93" height="11.9" fill="#f8907a"/>
<rect x="208.91" y="493.6" width="8.93" height="11.9" fill="#fdd4c8"/>
<rect x="217.14" y="493.6" width="8.93" height="11.9" fill="#f5533b"/>
<rect x="225.37" y="493.6" width="8.23" height="11.9" fill="#fbb6a6"/>
<text x="20.9" y="501.88" font-size="6.4" font-weight="bold" text-anchor="middle" fill="#1a1a1a" stroke="#1a1a1a" textLength="30.4" lengthAdjust="spacingAndGlyphs">pyroptosis</text>
<rect x="151.31" y="505.5" width="8.93" height="12.1" fill="#f4412b"/>
<rect x="159.53" y="505.5" width="8.93" height="12.1" fill="#f4412b"/>
<rect x="167.76" y="505.5" width="8.93" height="12.1" fill="#f4412b"/>
<rect x="175.99" y="505.5" width="8.93" height="12.1" fill="#f4412b"/>
<rect x="184.22" y="505.5" width="8.93" height="12.1" fill="#f4412b"/>
<rect x="192.45" y="505.5" width="8.93" height="12.1" fill="#f4412b"/>
<rect x="200.68" y="505.5" width="8.93" height="12.1" fill="#f4412b"/>
<rect x="208.91" y="505.5" width="8.93" height="12.1" fill="#f4412b"/>
<rect x="217.14" y="505.5" width="8.93" height="12.1" fill="#f4412b"/>
<rect x="225.37" y="505.5" width="8.23" height="12.1" fill="#f4412b"/>
<text x="21.1" y="513.88" font-size="6.4" font-weight="bold" text-anchor="middle" fill="#1a1a1a" stroke="#1a1a1a" textLength="27.6" lengthAdjust="spacingAndGlyphs">subgroup</text>
<rect x="44.33" y="517.6" width="8.93" height="12.2" fill="#f4412b"/>
<rect x="60.79" y="517.6" width="8.93" height="12.2" fill="#f4412b"/>
<rect x="77.25" y="517.6" width="8.93" height="12.2" fill="#f4412b"/>
<rect x="93.7" y="517.6" width="8.93" height="12.2" fill="#f4412b"/>
<rect x="118.39" y="517.6" width="8.93" height="12.2" fill="#f4412b"/>
<rect x="134.85" y="517.6" width="8.93" height="12.2" fill="#f4412b"/>
<rect x="143.08" y="517.6" width="8.93" height="12.2" fill="#f4412b"/>
<rect x="151.31" y="517.6" width="8.93" height="12.2" fill="#f4412b"/>
<rect x="159.53" y="517.6" width="8.93" height="12.2" fill="#f4412b"/>
<rect x="192.45" y="517.6" width="8.93" height="12.2" fill="#f4412b"/>
<rect x="217.14" y="517.6" width="8.93" height="12.2" fill="#f4412b"/>
<rect x="225.37" y="517.6" width="8.23" height="12.2" fill="#f4412b"/>
<text x="22.9" y="526.03" font-size="6.4" font-weight="bold" text-anchor="middle" fill="#1a1a1a" stroke="#1a1a1a" textLength="9.6" lengthAdjust="spacingAndGlyphs">sex</text>
<rect x="36.1" y="529.8" width="8.93" height="12.2" fill="#f55d45"/>
<rect x="44.33" y="529.8" width="8.93" height="12.2" fill="#f9a392"/>
<rect x="52.56" y="529.8" width="8.93" height="12.2" fill="#fbb1a2"/>
<rect x="60.79" y="529.8" width="8.93" height="12.2" fill="#f66a50"/>
<rect x="69.02" y="529.8" width="8.93" height="12.2" fill="#f54c35"/>
<rect x="77.25" y="529.8" width="8.93" height="12.2" fill="#f5533b"/>
<rect x="85.47" y="529.8" width="8.93" height="12.2" fill="#f77c64"/>
<rect x="93.7" y="529.8" width="8.93" height="12.2" fill="#f6725a"/>
<rect x="101.93" y="529.8" width="8.93" height="12.2" fill="#f6725a"/>
<rect x="110.16" y="529.8" width="8.93" height="12.2" fill="#f77a62"/>
<rect x="118.39" y="529.8" width="8.93" height="12.2" fill="#f6705a"/>
<rect x="126.62" y="529.8" width="8.93" height="12.2" fill="#fbb4a5"/>
<rect x="134.85" y="529.8" width="8.93" height="12.2" fill="#f9a090"/>
<rect x="143.08" y="529.8" width="8.93" height="12.2" fill="#f99a88"/>
<rect x="151.31" y="529.8" width="8.93" height="12.2" fill="#f6705a"/>
<rect x="167.76" y="529.8" width="8.93" height="12.2" fill="#f4442e"/>
<rect x="175.99" y="529.8" width="8.93" height="12.2" fill="#fcc8bc"/>
<rect x="184.22" y="529.8" width="8.93" height="12.2" fill="#f8907a"/>
<rect x="192.45" y="529.8" width="8.93" height="12.2" fill="#f78a73"/>
<rect x="200.68" y="529.8" width="8.93" height="12.2" fill="#f78a73"/>
<rect x="208.91" y="529.8" width="8.93" height="12.2" fill="#f54d35"/>
<rect x="217.14" y="529.8" width="8.93" height="12.2" fill="#f8886f"/>
<rect x="225.37" y="529.8" width="8.23" height="12.2" fill="#f55d44"/>
<text x="22.5" y="538.23" font-size="6.4" font-weight="bold" text-anchor="middle" fill="#1a1a1a" stroke="#1a1a1a" textLength="10.3" lengthAdjust="spacingAndGlyphs">age</text>
<line x1="36.1" y1="481.7" x2="233.6" y2="481.7" stroke="#6a6a6a" stroke-width="0.8" stroke-opacity="0.8"/>
<line x1="36.1" y1="493.6" x2="233.6" y2="493.6" stroke="#6a6a6a" stroke-width="0.8" stroke-opacity="0.8"/>
<line x1="36.1" y1="505.5" x2="233.6" y2="505.5" stroke="#6a6a6a" stroke-width="0.8" stroke-opacity="0.8"/>
<line x1="36.1" y1="517.6" x2="233.6" y2="517.6" stroke="#6a6a6a" stroke-width="0.8" stroke-opacity="0.8"/>
<line x1="36.1" y1="529.8" x2="233.6" y2="529.8" stroke="#6a6a6a" stroke-width="0.8" stroke-opacity="0.8"/>
<line x1="36.1" y1="542" x2="233.6" y2="542" stroke="#6a6a6a" stroke-width="0.8" stroke-opacity="0.8"/>
<text x="85.6" y="513.85" font-size="7" font-weight="bold" text-anchor="middle" fill="#111" stroke="#111">1</text>
<text x="194" y="513.85" font-size="7" font-weight="bold" text-anchor="middle" fill="#111" stroke="#111">2</text>
<text x="238.3" y="380.6" font-size="8.7" font-weight="bold" text-anchor="start" fill="#000" stroke="#000">F</text>
<rect x="318.3" y="393.5" width="5.4" height="4.6" fill="#62c7c8"/>
<rect x="319.2" y="394.4" width="3.6" height="2.8" fill="none" stroke="#27b3b6" stroke-width="0.6"/>
<line x1="321" y1="393.4" x2="321" y2="398.2" stroke="#27b3b6" stroke-width="0.6"/>
<line x1="319.2" y1="395.8" x2="322.8" y2="395.8" stroke="#27b3b6" stroke-width="0.6"/>
<rect x="371.3" y="393.5" width="5.4" height="4.6" fill="#f4c276"/>
<rect x="372.2" y="394.4" width="3.6" height="2.8" fill="none" stroke="#f0a53a" stroke-width="0.6"/>
<line x1="374" y1="393.4" x2="374" y2="398.2" stroke="#f0a53a" stroke-width="0.6"/>
<line x1="372.2" y1="395.8" x2="375.8" y2="395.8" stroke="#f0a53a" stroke-width="0.6"/>
<text x="324.2" y="398.3" font-size="6.2" font-weight="bold" text-anchor="start" fill="#111" stroke="#111" textLength="31" lengthAdjust="spacingAndGlyphs">subgroup1</text>
<text x="379" y="398.3" font-size="6.2" font-weight="bold" text-anchor="start" fill="#111" stroke="#111" textLength="31" lengthAdjust="spacingAndGlyphs">subgroup2</text>
<line x1="258.8" y1="405.8" x2="258.8" y2="536.5" stroke="#222" stroke-width="0.9"/>
<line x1="258.8" y1="536.5" x2="456" y2="536.5" stroke="#222" stroke-width="0.9"/>
<line x1="256.6" y1="436" x2="258.8" y2="436" stroke="#222" stroke-width="0.8"/>
<text x="256.2" y="438.19" font-size="6" font-weight="bold" text-anchor="end" fill="#222" stroke="#222" textLength="7" lengthAdjust="spacingAndGlyphs">1.8</text>
<line x1="256.6" y1="469.7" x2="258.8" y2="469.7" stroke="#222" stroke-width="0.8"/>
<text x="256.2" y="471.89" font-size="6" font-weight="bold" text-anchor="end" fill="#222" stroke="#222" textLength="7" lengthAdjust="spacingAndGlyphs">1.5</text>
<line x1="256.6" y1="503.3" x2="258.8" y2="503.3" stroke="#222" stroke-width="0.8"/>
<text x="256.2" y="505.49" font-size="6" font-weight="bold" text-anchor="end" fill="#222" stroke="#222" textLength="7" lengthAdjust="spacingAndGlyphs">1.2</text>
<line x1="312.7" y1="536.5" x2="312.7" y2="538.6" stroke="#222" stroke-width="0.8"/>
<line x1="402.6" y1="536.5" x2="402.6" y2="538.6" stroke="#222" stroke-width="0.8"/>
<text x="246.62" y="465.2" font-size="6.9" font-weight="bold" text-anchor="middle" fill="#000" stroke="#000" textLength="72.5" lengthAdjust="spacingAndGlyphs" transform="rotate(-90 246.62 465.2)">ES of cell pyroptosis</text>
<text x="295" y="544" font-size="7.5" font-weight="bold" text-anchor="start" fill="#111" stroke="#111" textLength="38.4" lengthAdjust="spacingAndGlyphs">subgroup1</text>
<text x="385" y="544" font-size="7.5" font-weight="bold" text-anchor="start" fill="#111" stroke="#111" textLength="39.2" lengthAdjust="spacingAndGlyphs">subgroup2</text>
<line x1="312.7" y1="417.7" x2="312.7" y2="434.3" stroke="#27b3b6" stroke-width="0.9"/>
<line x1="312.7" y1="467.8" x2="312.7" y2="513.5" stroke="#27b3b6" stroke-width="0.9"/>
<rect x="281" y="434.3" width="63.4" height="33.5" fill="none" stroke="#27b3b6" stroke-width="1.0"/>
<line x1="281" y1="453.7" x2="344.4" y2="453.7" stroke="#27b3b6" stroke-width="1.6"/>
<line x1="402.4" y1="463.8" x2="402.4" y2="485.1" stroke="#f0a53a" stroke-width="0.9"/>
<line x1="402.4" y1="517" x2="402.4" y2="531.3" stroke="#f0a53a" stroke-width="0.9"/>
<rect x="370.7" y="485.1" width="63.4" height="31.9" fill="none" stroke="#f0a53a" stroke-width="1.0"/>
<line x1="370.7" y1="506.8" x2="434.1" y2="506.8" stroke="#f0a53a" stroke-width="1.6"/>
<circle cx="297.6" cy="422" r="1.15" fill="#27b3b6"/>
<circle cx="317.6" cy="417.3" r="1.15" fill="#27b3b6"/>
<circle cx="308.9" cy="432.4" r="1.15" fill="#27b3b6"/>
<circle cx="310.6" cy="430.7" r="1.15" fill="#27b3b6"/>
<circle cx="325.4" cy="438.3" r="1.15" fill="#27b3b6"/>
<circle cx="300.6" cy="443.7" r="1.15" fill="#27b3b6"/>
<circle cx="296.4" cy="453.9" r="1.15" fill="#27b3b6"/>
<circle cx="318.8" cy="452.5" r="1.15" fill="#27b3b6"/>
<circle cx="312.9" cy="459.8" r="1.15" fill="#27b3b6"/>
<circle cx="312.9" cy="466.2" r="1.15" fill="#27b3b6"/>
<circle cx="323.1" cy="468.6" r="1.15" fill="#27b3b6"/>
<circle cx="317.6" cy="489.8" r="1.15" fill="#27b3b6"/>
<circle cx="316.9" cy="514" r="1.15" fill="#27b3b6"/>
<circle cx="399.6" cy="433.8" r="1.15" fill="#f0a53a"/>
<circle cx="416.1" cy="463.8" r="1.15" fill="#f0a53a"/>
<circle cx="412.1" cy="480.4" r="1.15" fill="#f0a53a"/>
<circle cx="390.8" cy="499.3" r="1.15" fill="#f0a53a"/>
<circle cx="410.9" cy="500" r="1.15" fill="#f0a53a"/>
<circle cx="401" cy="512.3" r="1.15" fill="#f0a53a"/>
<circle cx="419.7" cy="515.1" r="1.15" fill="#f0a53a"/>
<circle cx="419.7" cy="517" r="1.15" fill="#f0a53a"/>
<circle cx="402.6" cy="522.5" r="1.15" fill="#f0a53a"/>
<circle cx="393.4" cy="530.8" r="1.15" fill="#f0a53a"/>
<polyline points="312.6,414.8 312.6,411.9 402.6,411.9 402.6,414.8" fill="none" stroke="#555" stroke-width="0.8"/>
<text x="351" y="411" font-size="5.8" font-weight="bold" text-anchor="start" fill="#2a2a2a" stroke="#2a2a2a" textLength="18.9" lengthAdjust="spacingAndGlyphs">0.0018</text>
</svg>
</body></html>
